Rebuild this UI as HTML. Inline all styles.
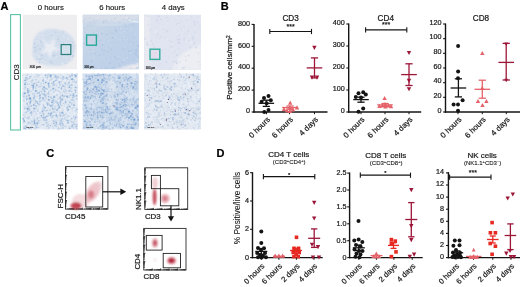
<!DOCTYPE html>
<html><head><meta charset="utf-8"><title>Figure</title>
<style>html,body{margin:0;padding:0;background:#fff;}body{width:520px;height:287px;overflow:hidden;}svg{display:block;}</style>
</head><body>
<svg width="520" height="287" viewBox="0 0 520 287" font-family="Liberation Sans, Arial, sans-serif">
<defs>
<filter id="fDark" x="0" y="0" width="100%" height="100%" color-interpolation-filters="sRGB">
 <feTurbulence type="fractalNoise" baseFrequency="0.42" numOctaves="1" seed="4"/>
 <feColorMatrix type="matrix" values="0 0 0 0 0.45  0 0 0 0 0.57  0 0 0 0 0.77  4.0 0 0 0 -1.95"/>
 <feGaussianBlur stdDeviation="0.45"/>
</filter>
<filter id="fLight" x="0" y="0" width="100%" height="100%" color-interpolation-filters="sRGB">
 <feTurbulence type="fractalNoise" baseFrequency="0.3" numOctaves="2" seed="9"/>
 <feColorMatrix type="matrix" values="0 0 0 0 1  0 0 0 0 1  0 0 0 0 1  0 3.0 0 0 -1.35"/>
</filter>
<filter id="fSoft" x="0" y="0" width="100%" height="100%" color-interpolation-filters="sRGB">
 <feTurbulence type="fractalNoise" baseFrequency="0.12" numOctaves="3" seed="2"/>
 <feColorMatrix type="matrix" values="0 0 0 0 1  0 0 0 0 1  0 0 0 0 1  0 0 2.0 0 -0.95"/>
</filter>
<filter id="fPatch" x="0" y="0" width="100%" height="100%" color-interpolation-filters="sRGB">
 <feTurbulence type="fractalNoise" baseFrequency="0.11" numOctaves="3" seed="21"/>
 <feColorMatrix type="matrix" values="0 0 0 0 0.93  0 0 0 0 0.95  0 0 0 0 0.98  0 5.0 0 0 -2.35"/>
</filter>
<filter id="fBlur"><feGaussianBlur stdDeviation="1.2"/></filter>
<filter id="fBlur2"><feGaussianBlur stdDeviation="0.8"/></filter>
<clipPath id="cTis"><path d="M33 44 C33 35 41 29 51 28.8 C61 28.6 70 32 74 40 C76.5 46 76 55 72 60 C67 65.5 58 66.5 50 65.8 C42 65.2 34 62 32.5 55 C31.8 51 32.6 47.5 33 44 Z"/></clipPath>
<clipPath id="cT1"><rect x="22.5" y="14.5" width="54.5" height="55"/></clipPath>
<clipPath id="cT2"><rect x="82.5" y="14.5" width="56.5" height="55"/></clipPath>
<clipPath id="cT3"><rect x="144" y="14.5" width="57" height="55.5"/></clipPath>
</defs>
<rect width="520" height="287" fill="#ffffff"/>
<text x="4.40" y="9.70" font-size="11" text-anchor="middle" font-weight="bold" fill="#000" stroke="#000" stroke-width="0.22" >A</text>
<text x="50.80" y="10.10" font-size="7.8" text-anchor="middle" font-weight="normal" fill="#1a1a1a" stroke="#1a1a1a" stroke-width="0.15" >0 hours</text>
<text x="112.20" y="10.10" font-size="7.8" text-anchor="middle" font-weight="normal" fill="#1a1a1a" stroke="#1a1a1a" stroke-width="0.15" >6 hours</text>
<text x="173.20" y="10.10" font-size="7.8" text-anchor="middle" font-weight="normal" fill="#1a1a1a" stroke="#1a1a1a" stroke-width="0.15" >4 days</text>
<rect x="10.6" y="14.6" width="9.8" height="115.4" fill="none" stroke="#5ec3a6" stroke-width="1.1"/>
<text x="0.00" y="0.00" font-size="8" text-anchor="middle" font-weight="normal" fill="#1a1a1a" stroke="#1a1a1a" stroke-width="0.12" transform="translate(18.9 72.2) rotate(-90)">CD3</text>
<g clip-path="url(#cT1)">
<rect x="22.5" y="14.5" width="54.5" height="55" fill="#eeeef0"/>
<path d="M33 44 C33 35 41 29 51 28.8 C61 28.6 70 32 74 40 C76.5 46 76 55 72 60 C67 65.5 58 66.5 50 65.8 C42 65.2 34 62 32.5 55 C31.8 51 32.6 47.5 33 44 Z" fill="#d3deed" filter="url(#fBlur2)"/>
<g clip-path="url(#cTis)">
<circle cx="41.9" cy="49.2" r="0.72" fill="#e9edf4" opacity="0.55"/>
<circle cx="34.0" cy="28.5" r="1.00" fill="#b3c5df" opacity="0.39"/>
<circle cx="76.8" cy="46.3" r="1.00" fill="#b3c5df" opacity="0.56"/>
<circle cx="37.9" cy="52.8" r="1.02" fill="#e9edf4" opacity="0.60"/>
<circle cx="61.9" cy="30.5" r="0.95" fill="#e9edf4" opacity="0.42"/>
<circle cx="32.4" cy="61.8" r="0.78" fill="#e9edf4" opacity="0.65"/>
<circle cx="63.8" cy="63.9" r="0.74" fill="#e9edf4" opacity="0.48"/>
<circle cx="74.0" cy="62.3" r="0.56" fill="#b3c5df" opacity="0.39"/>
<circle cx="75.4" cy="45.0" r="0.88" fill="#b3c5df" opacity="0.50"/>
<circle cx="48.7" cy="41.7" r="0.85" fill="#e9edf4" opacity="0.66"/>
<circle cx="62.4" cy="64.2" r="1.01" fill="#e9edf4" opacity="0.57"/>
<circle cx="38.5" cy="61.6" r="1.08" fill="#e9edf4" opacity="0.53"/>
<circle cx="63.8" cy="36.2" r="1.00" fill="#e9edf4" opacity="0.41"/>
<circle cx="33.9" cy="61.3" r="1.09" fill="#b3c5df" opacity="0.62"/>
<circle cx="49.9" cy="33.9" r="0.68" fill="#e9edf4" opacity="0.65"/>
<circle cx="33.0" cy="52.0" r="0.53" fill="#e9edf4" opacity="0.43"/>
<circle cx="71.5" cy="66.2" r="0.80" fill="#e9edf4" opacity="0.42"/>
<circle cx="34.5" cy="51.4" r="0.52" fill="#b3c5df" opacity="0.46"/>
<circle cx="59.1" cy="34.1" r="0.53" fill="#e9edf4" opacity="0.43"/>
<circle cx="75.1" cy="63.0" r="0.73" fill="#b3c5df" opacity="0.51"/>
<circle cx="60.6" cy="51.2" r="0.84" fill="#e9edf4" opacity="0.68"/>
<circle cx="54.3" cy="44.8" r="0.93" fill="#b3c5df" opacity="0.42"/>
<circle cx="76.0" cy="48.3" r="0.83" fill="#b3c5df" opacity="0.47"/>
<circle cx="57.7" cy="28.8" r="0.87" fill="#e9edf4" opacity="0.32"/>
<circle cx="59.9" cy="46.2" r="0.91" fill="#b3c5df" opacity="0.58"/>
<circle cx="64.9" cy="28.9" r="0.54" fill="#e9edf4" opacity="0.69"/>
<circle cx="42.6" cy="45.8" r="0.86" fill="#b3c5df" opacity="0.45"/>
<circle cx="45.4" cy="42.4" r="0.86" fill="#b3c5df" opacity="0.45"/>
<circle cx="66.5" cy="29.0" r="0.84" fill="#e9edf4" opacity="0.42"/>
<circle cx="41.2" cy="59.3" r="0.64" fill="#b3c5df" opacity="0.47"/>
<circle cx="63.1" cy="32.0" r="0.69" fill="#b3c5df" opacity="0.63"/>
<circle cx="51.2" cy="61.4" r="0.60" fill="#b3c5df" opacity="0.56"/>
<circle cx="71.7" cy="45.6" r="0.64" fill="#b3c5df" opacity="0.51"/>
<circle cx="39.8" cy="59.5" r="1.00" fill="#b3c5df" opacity="0.41"/>
<circle cx="68.1" cy="53.0" r="0.98" fill="#b3c5df" opacity="0.35"/>
<circle cx="44.4" cy="59.0" r="0.66" fill="#b3c5df" opacity="0.47"/>
<circle cx="50.3" cy="44.0" r="1.05" fill="#b3c5df" opacity="0.30"/>
<circle cx="74.4" cy="62.3" r="1.09" fill="#b3c5df" opacity="0.68"/>
<circle cx="73.7" cy="36.7" r="0.95" fill="#e9edf4" opacity="0.57"/>
<circle cx="54.9" cy="39.3" r="0.70" fill="#b3c5df" opacity="0.33"/>
<circle cx="58.1" cy="39.2" r="0.99" fill="#b3c5df" opacity="0.66"/>
<circle cx="62.9" cy="64.0" r="1.04" fill="#e9edf4" opacity="0.53"/>
<circle cx="31.6" cy="57.1" r="0.60" fill="#b3c5df" opacity="0.57"/>
<circle cx="55.1" cy="44.1" r="1.06" fill="#e9edf4" opacity="0.44"/>
<circle cx="42.6" cy="61.6" r="0.79" fill="#e9edf4" opacity="0.44"/>
<circle cx="40.1" cy="48.9" r="0.99" fill="#b3c5df" opacity="0.62"/>
<circle cx="73.4" cy="59.4" r="0.99" fill="#b3c5df" opacity="0.55"/>
<circle cx="70.7" cy="29.9" r="0.66" fill="#b3c5df" opacity="0.51"/>
<circle cx="50.5" cy="46.4" r="0.97" fill="#b3c5df" opacity="0.32"/>
<circle cx="36.8" cy="32.9" r="0.54" fill="#e9edf4" opacity="0.64"/>
<circle cx="35.0" cy="47.6" r="0.69" fill="#b3c5df" opacity="0.44"/>
<circle cx="60.8" cy="50.9" r="0.72" fill="#b3c5df" opacity="0.43"/>
<circle cx="36.7" cy="49.7" r="0.93" fill="#b3c5df" opacity="0.33"/>
<circle cx="39.2" cy="42.6" r="0.86" fill="#e9edf4" opacity="0.45"/>
<circle cx="67.9" cy="52.3" r="0.76" fill="#b3c5df" opacity="0.50"/>
<circle cx="63.3" cy="44.4" r="0.92" fill="#b3c5df" opacity="0.40"/>
<circle cx="55.6" cy="55.1" r="0.54" fill="#b3c5df" opacity="0.47"/>
<circle cx="71.5" cy="64.5" r="0.72" fill="#e9edf4" opacity="0.62"/>
<circle cx="43.1" cy="46.1" r="0.57" fill="#e9edf4" opacity="0.56"/>
<circle cx="71.8" cy="58.9" r="0.90" fill="#e9edf4" opacity="0.53"/>
<circle cx="35.7" cy="50.9" r="0.50" fill="#b3c5df" opacity="0.61"/>
<circle cx="33.0" cy="31.6" r="0.56" fill="#e9edf4" opacity="0.37"/>
<circle cx="32.1" cy="60.8" r="0.57" fill="#e9edf4" opacity="0.57"/>
<circle cx="69.5" cy="65.1" r="0.85" fill="#e9edf4" opacity="0.31"/>
<circle cx="66.3" cy="47.9" r="0.93" fill="#b3c5df" opacity="0.60"/>
<circle cx="74.0" cy="30.4" r="0.69" fill="#e9edf4" opacity="0.63"/>
<circle cx="42.1" cy="35.0" r="0.65" fill="#e9edf4" opacity="0.60"/>
<circle cx="49.1" cy="42.3" r="0.74" fill="#b3c5df" opacity="0.47"/>
<circle cx="34.8" cy="47.5" r="1.08" fill="#b3c5df" opacity="0.60"/>
<circle cx="38.4" cy="54.9" r="0.95" fill="#e9edf4" opacity="0.51"/>
<circle cx="53.3" cy="53.1" r="1.04" fill="#b3c5df" opacity="0.34"/>
<circle cx="65.4" cy="63.7" r="0.81" fill="#b3c5df" opacity="0.59"/>
<circle cx="39.6" cy="38.4" r="0.62" fill="#e9edf4" opacity="0.43"/>
<circle cx="41.7" cy="55.0" r="1.07" fill="#b3c5df" opacity="0.58"/>
<circle cx="50.0" cy="61.3" r="0.85" fill="#b3c5df" opacity="0.39"/>
<circle cx="32.1" cy="46.7" r="0.73" fill="#b3c5df" opacity="0.44"/>
<circle cx="45.8" cy="58.2" r="0.59" fill="#e9edf4" opacity="0.49"/>
<circle cx="58.6" cy="46.3" r="1.00" fill="#e9edf4" opacity="0.52"/>
<circle cx="53.1" cy="56.1" r="1.01" fill="#b3c5df" opacity="0.59"/>
<circle cx="75.2" cy="46.2" r="0.64" fill="#b3c5df" opacity="0.59"/>
<circle cx="62.1" cy="65.4" r="1.01" fill="#b3c5df" opacity="0.38"/>
<circle cx="42.9" cy="35.3" r="0.92" fill="#e9edf4" opacity="0.66"/>
<circle cx="42.7" cy="61.7" r="0.69" fill="#b3c5df" opacity="0.59"/>
<circle cx="35.0" cy="31.6" r="1.00" fill="#b3c5df" opacity="0.44"/>
<circle cx="57.7" cy="54.3" r="0.50" fill="#b3c5df" opacity="0.47"/>
<circle cx="53.4" cy="36.2" r="0.85" fill="#e9edf4" opacity="0.46"/>
<circle cx="56.0" cy="32.6" r="0.66" fill="#e9edf4" opacity="0.35"/>
<circle cx="71.8" cy="63.4" r="0.56" fill="#e9edf4" opacity="0.45"/>
<circle cx="66.5" cy="57.5" r="0.68" fill="#e9edf4" opacity="0.56"/>
<circle cx="68.1" cy="38.4" r="0.95" fill="#e9edf4" opacity="0.57"/>
<circle cx="55.7" cy="32.4" r="0.80" fill="#b3c5df" opacity="0.59"/>
<circle cx="62.2" cy="50.1" r="0.61" fill="#e9edf4" opacity="0.55"/>
<circle cx="39.2" cy="62.7" r="0.89" fill="#b3c5df" opacity="0.67"/>
<circle cx="37.5" cy="40.9" r="0.93" fill="#e9edf4" opacity="0.52"/>
<circle cx="60.8" cy="45.9" r="0.69" fill="#b3c5df" opacity="0.33"/>
<circle cx="63.9" cy="57.4" r="0.83" fill="#e9edf4" opacity="0.44"/>
<circle cx="43.2" cy="43.0" r="1.02" fill="#b3c5df" opacity="0.50"/>
<circle cx="42.4" cy="58.0" r="0.71" fill="#b3c5df" opacity="0.46"/>
<circle cx="55.9" cy="58.1" r="0.71" fill="#e9edf4" opacity="0.34"/>
<circle cx="43.4" cy="31.9" r="0.57" fill="#e9edf4" opacity="0.59"/>
<circle cx="39.5" cy="35.4" r="0.75" fill="#e9edf4" opacity="0.63"/>
<circle cx="65.4" cy="51.1" r="0.59" fill="#b3c5df" opacity="0.38"/>
<circle cx="55.3" cy="50.2" r="0.62" fill="#b3c5df" opacity="0.61"/>
<circle cx="32.4" cy="59.3" r="1.03" fill="#e9edf4" opacity="0.45"/>
<circle cx="56.4" cy="50.7" r="0.88" fill="#e9edf4" opacity="0.57"/>
<circle cx="44.8" cy="61.5" r="0.79" fill="#e9edf4" opacity="0.59"/>
<circle cx="31.1" cy="58.0" r="0.90" fill="#b3c5df" opacity="0.51"/>
<circle cx="52.2" cy="35.5" r="0.82" fill="#b3c5df" opacity="0.50"/>
<circle cx="60.7" cy="45.3" r="0.84" fill="#e9edf4" opacity="0.66"/>
<circle cx="37.2" cy="58.9" r="0.87" fill="#b3c5df" opacity="0.44"/>
<circle cx="41.7" cy="31.0" r="0.82" fill="#e9edf4" opacity="0.43"/>
<circle cx="71.0" cy="55.1" r="0.58" fill="#e9edf4" opacity="0.54"/>
<circle cx="73.6" cy="55.9" r="0.94" fill="#b3c5df" opacity="0.62"/>
<circle cx="73.9" cy="61.6" r="0.76" fill="#e9edf4" opacity="0.49"/>
<circle cx="36.0" cy="29.7" r="0.55" fill="#b3c5df" opacity="0.36"/>
<circle cx="53.9" cy="55.3" r="0.82" fill="#b3c5df" opacity="0.56"/>
<circle cx="45.0" cy="46.1" r="0.95" fill="#b3c5df" opacity="0.37"/>
<circle cx="72.4" cy="56.1" r="0.72" fill="#b3c5df" opacity="0.51"/>
<circle cx="58.4" cy="36.7" r="0.50" fill="#b3c5df" opacity="0.61"/>
<circle cx="37.6" cy="45.9" r="0.62" fill="#b3c5df" opacity="0.37"/>
<circle cx="49.6" cy="34.6" r="0.52" fill="#b3c5df" opacity="0.37"/>
<circle cx="53.6" cy="30.3" r="0.51" fill="#b3c5df" opacity="0.46"/>
<circle cx="63.4" cy="30.0" r="0.74" fill="#b3c5df" opacity="0.31"/>
<circle cx="75.4" cy="36.5" r="0.56" fill="#b3c5df" opacity="0.37"/>
<circle cx="59.6" cy="41.5" r="0.57" fill="#b3c5df" opacity="0.59"/>
<circle cx="43.7" cy="58.7" r="0.78" fill="#e9edf4" opacity="0.42"/>
<circle cx="42.5" cy="38.4" r="0.99" fill="#e9edf4" opacity="0.44"/>
<circle cx="35.3" cy="54.6" r="1.08" fill="#e9edf4" opacity="0.30"/>
<circle cx="32.4" cy="31.5" r="0.60" fill="#b3c5df" opacity="0.32"/>
<circle cx="61.1" cy="63.1" r="0.62" fill="#e9edf4" opacity="0.49"/>
<circle cx="68.0" cy="63.8" r="1.06" fill="#b3c5df" opacity="0.42"/>
<circle cx="58.9" cy="64.9" r="0.55" fill="#b3c5df" opacity="0.64"/>
<circle cx="36.3" cy="43.2" r="0.70" fill="#e9edf4" opacity="0.67"/>
<circle cx="39.0" cy="56.9" r="0.94" fill="#e9edf4" opacity="0.52"/>
<circle cx="73.5" cy="42.2" r="0.75" fill="#b3c5df" opacity="0.61"/>
<circle cx="53.1" cy="38.5" r="0.60" fill="#e9edf4" opacity="0.54"/>
<circle cx="63.7" cy="43.1" r="0.79" fill="#b3c5df" opacity="0.58"/>
<circle cx="32.1" cy="46.2" r="0.96" fill="#e9edf4" opacity="0.34"/>
<circle cx="41.9" cy="60.9" r="0.89" fill="#e9edf4" opacity="0.65"/>
<circle cx="51.7" cy="63.0" r="0.94" fill="#b3c5df" opacity="0.45"/>
<circle cx="34.3" cy="43.6" r="1.07" fill="#b3c5df" opacity="0.53"/>
<circle cx="36.1" cy="31.2" r="0.89" fill="#b3c5df" opacity="0.32"/>
<circle cx="38.0" cy="53.1" r="0.85" fill="#b3c5df" opacity="0.39"/>
<circle cx="75.5" cy="36.6" r="0.84" fill="#b3c5df" opacity="0.61"/>
<circle cx="58.8" cy="58.8" r="0.82" fill="#b3c5df" opacity="0.37"/>
<circle cx="34.6" cy="60.2" r="0.57" fill="#b3c5df" opacity="0.69"/>
<circle cx="40.2" cy="62.8" r="0.55" fill="#b3c5df" opacity="0.39"/>
<circle cx="69.2" cy="52.0" r="0.89" fill="#e9edf4" opacity="0.65"/>
<circle cx="46.9" cy="51.5" r="0.77" fill="#b3c5df" opacity="0.63"/>
<circle cx="58.3" cy="59.8" r="0.62" fill="#e9edf4" opacity="0.49"/>
<circle cx="64.5" cy="31.0" r="0.71" fill="#b3c5df" opacity="0.33"/>
<circle cx="56.4" cy="56.7" r="0.75" fill="#e9edf4" opacity="0.54"/>
<circle cx="40.9" cy="41.7" r="1.10" fill="#b3c5df" opacity="0.47"/>
<circle cx="34.9" cy="36.5" r="0.60" fill="#e9edf4" opacity="0.59"/>
<circle cx="71.2" cy="66.5" r="0.87" fill="#e9edf4" opacity="0.51"/>
<circle cx="50.3" cy="65.0" r="1.04" fill="#e9edf4" opacity="0.49"/>
<circle cx="66.6" cy="43.9" r="1.10" fill="#e9edf4" opacity="0.42"/>
<circle cx="74.0" cy="35.2" r="0.56" fill="#e9edf4" opacity="0.42"/>
<circle cx="54.9" cy="52.9" r="0.52" fill="#e9edf4" opacity="0.41"/>
<circle cx="50.9" cy="41.4" r="0.95" fill="#e9edf4" opacity="0.41"/>
</g>
<path d="M42 39 L49 44.5 L55.5 37.5 L54 46.5 L61 50 L52.5 50.8 L50.5 59 L47.5 52 L40.5 54 L45.5 47.5 Z" fill="#edf0f5" opacity="0.9" filter="url(#fBlur2)"/>
</g>
<rect x="61.2" y="44.6" width="9.6" height="9.9" fill="#d8eaf0" fill-opacity="0.4" stroke="#2a7f7c" stroke-width="1.2"/>
<text x="29.60" y="67.50" font-size="3.4" text-anchor="start" font-weight="normal" fill="#222" stroke="#222" stroke-width="0.15" >300 μm</text>
<linearGradient id="gT2" x1="0" y1="0" x2="1" y2="1"><stop offset="0" stop-color="#ccd8e7"/><stop offset="0.5" stop-color="#c0d2e8"/><stop offset="1" stop-color="#b9cee8"/></linearGradient>
<g clip-path="url(#cT2)">
<rect x="82.5" y="14.5" width="56.5" height="55" fill="url(#gT2)"/>
<path d="M82.5 14.5 L139 14.5 L139 19 Q120 24 100 21 Q90 20 82.5 22 Z" fill="#d8dfe9" filter="url(#fBlur2)"/>
<path d="M97 24 Q115 27 139 20" fill="none" stroke="#dfe6ef" stroke-width="1.3" filter="url(#fBlur2)"/>
<path d="M126 17 Q131 22.5 139 22" fill="none" stroke="#eef2f6" stroke-width="1.1"/>
<path d="M112 69.5 Q126 66.5 139 62.5 L139 69.5 Z" fill="#ebe9ef" filter="url(#fBlur)"/>
<circle cx="117.7" cy="56.2" r="0.98" fill="#d3deec" opacity="0.52"/>
<circle cx="134.6" cy="19.5" r="0.78" fill="#d3deec" opacity="0.49"/>
<circle cx="133.4" cy="23.8" r="0.78" fill="#a9bedb" opacity="0.36"/>
<circle cx="114.9" cy="18.7" r="0.63" fill="#a9bedb" opacity="0.47"/>
<circle cx="125.8" cy="26.2" r="0.98" fill="#a9bedb" opacity="0.39"/>
<circle cx="89.7" cy="18.1" r="1.02" fill="#a9bedb" opacity="0.26"/>
<circle cx="138.0" cy="62.9" r="0.67" fill="#d3deec" opacity="0.46"/>
<circle cx="120.8" cy="28.5" r="1.06" fill="#d3deec" opacity="0.59"/>
<circle cx="133.0" cy="33.4" r="0.72" fill="#a9bedb" opacity="0.24"/>
<circle cx="86.2" cy="33.5" r="0.86" fill="#a9bedb" opacity="0.40"/>
<circle cx="101.6" cy="34.0" r="0.99" fill="#a9bedb" opacity="0.29"/>
<circle cx="109.7" cy="54.3" r="0.53" fill="#d3deec" opacity="0.31"/>
<circle cx="124.9" cy="61.5" r="0.51" fill="#d3deec" opacity="0.41"/>
<circle cx="115.2" cy="18.5" r="0.53" fill="#a9bedb" opacity="0.49"/>
<circle cx="93.6" cy="56.9" r="1.06" fill="#d3deec" opacity="0.40"/>
<circle cx="102.5" cy="45.0" r="0.97" fill="#a9bedb" opacity="0.42"/>
<circle cx="127.5" cy="62.3" r="0.52" fill="#d3deec" opacity="0.33"/>
<circle cx="101.8" cy="49.5" r="1.05" fill="#a9bedb" opacity="0.48"/>
<circle cx="113.3" cy="34.1" r="0.69" fill="#a9bedb" opacity="0.22"/>
<circle cx="90.9" cy="53.5" r="1.10" fill="#a9bedb" opacity="0.21"/>
<circle cx="138.2" cy="45.5" r="0.74" fill="#a9bedb" opacity="0.38"/>
<circle cx="129.2" cy="41.5" r="0.75" fill="#a9bedb" opacity="0.47"/>
<circle cx="84.3" cy="43.4" r="1.00" fill="#a9bedb" opacity="0.42"/>
<circle cx="136.2" cy="50.5" r="0.97" fill="#a9bedb" opacity="0.33"/>
<circle cx="90.9" cy="61.5" r="0.68" fill="#a9bedb" opacity="0.50"/>
<circle cx="130.7" cy="68.3" r="0.77" fill="#a9bedb" opacity="0.42"/>
<circle cx="109.6" cy="33.0" r="0.74" fill="#a9bedb" opacity="0.31"/>
<circle cx="138.3" cy="67.4" r="0.88" fill="#a9bedb" opacity="0.30"/>
<circle cx="87.5" cy="32.0" r="0.97" fill="#d3deec" opacity="0.41"/>
<circle cx="126.9" cy="57.9" r="0.92" fill="#d3deec" opacity="0.53"/>
<circle cx="103.0" cy="54.3" r="0.67" fill="#a9bedb" opacity="0.43"/>
<circle cx="121.5" cy="33.1" r="1.07" fill="#d3deec" opacity="0.47"/>
<circle cx="83.2" cy="46.2" r="0.65" fill="#d3deec" opacity="0.44"/>
<circle cx="128.6" cy="51.3" r="0.98" fill="#a9bedb" opacity="0.39"/>
<circle cx="124.2" cy="60.7" r="0.71" fill="#d3deec" opacity="0.56"/>
<circle cx="121.4" cy="68.3" r="1.07" fill="#d3deec" opacity="0.46"/>
<circle cx="91.9" cy="61.1" r="1.06" fill="#a9bedb" opacity="0.41"/>
<circle cx="123.2" cy="55.6" r="0.60" fill="#d3deec" opacity="0.47"/>
<circle cx="120.1" cy="39.7" r="0.87" fill="#d3deec" opacity="0.49"/>
<circle cx="123.2" cy="19.4" r="0.60" fill="#a9bedb" opacity="0.40"/>
<circle cx="94.9" cy="53.3" r="0.88" fill="#a9bedb" opacity="0.34"/>
<circle cx="95.3" cy="20.8" r="0.58" fill="#a9bedb" opacity="0.25"/>
<circle cx="93.4" cy="19.8" r="0.78" fill="#a9bedb" opacity="0.38"/>
<circle cx="115.8" cy="30.2" r="1.04" fill="#a9bedb" opacity="0.32"/>
<circle cx="98.2" cy="39.1" r="0.57" fill="#d3deec" opacity="0.41"/>
<circle cx="84.5" cy="49.6" r="0.56" fill="#d3deec" opacity="0.40"/>
<circle cx="115.3" cy="67.4" r="0.99" fill="#a9bedb" opacity="0.44"/>
<circle cx="118.8" cy="37.0" r="0.59" fill="#d3deec" opacity="0.47"/>
<circle cx="136.6" cy="67.9" r="0.87" fill="#a9bedb" opacity="0.47"/>
<circle cx="82.6" cy="23.6" r="0.84" fill="#d3deec" opacity="0.34"/>
<circle cx="118.1" cy="63.9" r="0.73" fill="#a9bedb" opacity="0.27"/>
<circle cx="99.0" cy="68.1" r="0.73" fill="#d3deec" opacity="0.57"/>
<circle cx="116.2" cy="31.4" r="1.09" fill="#a9bedb" opacity="0.32"/>
<circle cx="100.5" cy="68.7" r="0.80" fill="#a9bedb" opacity="0.34"/>
<circle cx="89.4" cy="50.0" r="0.77" fill="#a9bedb" opacity="0.43"/>
<circle cx="129.2" cy="18.7" r="0.82" fill="#a9bedb" opacity="0.48"/>
<circle cx="126.7" cy="30.7" r="0.66" fill="#a9bedb" opacity="0.50"/>
<circle cx="99.1" cy="49.3" r="0.78" fill="#d3deec" opacity="0.48"/>
<circle cx="124.5" cy="24.1" r="0.96" fill="#a9bedb" opacity="0.36"/>
<circle cx="101.5" cy="33.3" r="0.82" fill="#a9bedb" opacity="0.31"/>
<circle cx="124.6" cy="48.4" r="0.52" fill="#a9bedb" opacity="0.34"/>
<circle cx="134.3" cy="63.7" r="0.83" fill="#a9bedb" opacity="0.43"/>
<circle cx="106.7" cy="47.6" r="0.92" fill="#d3deec" opacity="0.44"/>
<circle cx="134.0" cy="37.9" r="0.74" fill="#d3deec" opacity="0.36"/>
<circle cx="99.2" cy="60.7" r="0.54" fill="#d3deec" opacity="0.51"/>
<circle cx="107.0" cy="32.7" r="0.97" fill="#d3deec" opacity="0.34"/>
<circle cx="109.5" cy="46.3" r="0.80" fill="#a9bedb" opacity="0.25"/>
<circle cx="115.6" cy="59.8" r="0.54" fill="#a9bedb" opacity="0.45"/>
<circle cx="127.2" cy="52.2" r="0.52" fill="#d3deec" opacity="0.59"/>
<circle cx="138.9" cy="54.1" r="0.53" fill="#d3deec" opacity="0.37"/>
<circle cx="119.0" cy="67.0" r="0.93" fill="#a9bedb" opacity="0.29"/>
<circle cx="134.4" cy="25.7" r="0.87" fill="#a9bedb" opacity="0.25"/>
<circle cx="117.7" cy="20.2" r="0.56" fill="#a9bedb" opacity="0.22"/>
<circle cx="85.8" cy="47.6" r="0.95" fill="#d3deec" opacity="0.34"/>
<circle cx="106.9" cy="34.2" r="0.86" fill="#a9bedb" opacity="0.48"/>
<circle cx="103.6" cy="20.9" r="0.92" fill="#a9bedb" opacity="0.39"/>
<circle cx="111.1" cy="64.9" r="0.83" fill="#d3deec" opacity="0.38"/>
<circle cx="113.7" cy="31.1" r="0.95" fill="#d3deec" opacity="0.34"/>
<circle cx="95.7" cy="37.1" r="0.94" fill="#a9bedb" opacity="0.41"/>
<circle cx="119.5" cy="22.4" r="0.90" fill="#a9bedb" opacity="0.24"/>
<circle cx="116.1" cy="30.3" r="1.03" fill="#a9bedb" opacity="0.30"/>
<circle cx="127.5" cy="19.5" r="0.94" fill="#a9bedb" opacity="0.25"/>
<circle cx="136.3" cy="53.1" r="0.63" fill="#a9bedb" opacity="0.49"/>
<circle cx="120.1" cy="60.3" r="0.58" fill="#d3deec" opacity="0.41"/>
<circle cx="95.8" cy="35.2" r="0.87" fill="#a9bedb" opacity="0.32"/>
<circle cx="90.2" cy="60.8" r="0.89" fill="#d3deec" opacity="0.43"/>
<circle cx="130.6" cy="44.7" r="0.86" fill="#d3deec" opacity="0.52"/>
<circle cx="104.8" cy="23.0" r="0.52" fill="#a9bedb" opacity="0.21"/>
<circle cx="132.7" cy="42.8" r="0.96" fill="#a9bedb" opacity="0.34"/>
<circle cx="132.8" cy="49.9" r="0.76" fill="#a9bedb" opacity="0.23"/>
<circle cx="91.2" cy="26.2" r="0.72" fill="#a9bedb" opacity="0.46"/>
<circle cx="91.1" cy="31.1" r="0.67" fill="#a9bedb" opacity="0.29"/>
<circle cx="95.8" cy="42.8" r="0.52" fill="#d3deec" opacity="0.41"/>
<circle cx="135.5" cy="53.4" r="0.90" fill="#a9bedb" opacity="0.48"/>
<circle cx="89.2" cy="52.4" r="0.67" fill="#d3deec" opacity="0.52"/>
<circle cx="91.7" cy="28.4" r="0.51" fill="#a9bedb" opacity="0.22"/>
<circle cx="105.2" cy="68.1" r="0.72" fill="#a9bedb" opacity="0.34"/>
<circle cx="98.5" cy="55.7" r="0.93" fill="#a9bedb" opacity="0.27"/>
<circle cx="120.5" cy="66.4" r="0.89" fill="#a9bedb" opacity="0.49"/>
<circle cx="82.9" cy="21.1" r="0.97" fill="#a9bedb" opacity="0.21"/>
<circle cx="113.5" cy="69.0" r="0.81" fill="#a9bedb" opacity="0.23"/>
<circle cx="86.5" cy="64.3" r="0.79" fill="#d3deec" opacity="0.32"/>
<circle cx="96.3" cy="20.6" r="0.74" fill="#a9bedb" opacity="0.28"/>
<circle cx="105.5" cy="33.8" r="0.53" fill="#a9bedb" opacity="0.49"/>
<circle cx="92.6" cy="44.2" r="0.74" fill="#d3deec" opacity="0.33"/>
<circle cx="100.2" cy="23.6" r="0.83" fill="#d3deec" opacity="0.48"/>
<circle cx="130.9" cy="29.0" r="0.51" fill="#d3deec" opacity="0.45"/>
<circle cx="114.8" cy="37.4" r="0.88" fill="#d3deec" opacity="0.57"/>
<circle cx="99.9" cy="41.1" r="1.00" fill="#a9bedb" opacity="0.23"/>
<circle cx="100.1" cy="22.5" r="0.96" fill="#d3deec" opacity="0.39"/>
<circle cx="89.8" cy="22.2" r="0.65" fill="#a9bedb" opacity="0.33"/>
<circle cx="115.1" cy="30.6" r="0.54" fill="#d3deec" opacity="0.31"/>
<circle cx="93.8" cy="32.7" r="0.72" fill="#a9bedb" opacity="0.33"/>
<circle cx="100.2" cy="56.7" r="0.83" fill="#d3deec" opacity="0.50"/>
<circle cx="125.4" cy="47.6" r="0.77" fill="#d3deec" opacity="0.50"/>
<circle cx="136.4" cy="55.5" r="0.92" fill="#a9bedb" opacity="0.44"/>
<circle cx="104.1" cy="24.7" r="0.54" fill="#a9bedb" opacity="0.28"/>
<circle cx="120.7" cy="32.7" r="0.54" fill="#d3deec" opacity="0.47"/>
<circle cx="84.1" cy="20.6" r="0.58" fill="#a9bedb" opacity="0.46"/>
<circle cx="136.1" cy="49.5" r="0.64" fill="#a9bedb" opacity="0.31"/>
<circle cx="101.2" cy="18.6" r="0.85" fill="#d3deec" opacity="0.52"/>
<circle cx="87.9" cy="45.3" r="0.60" fill="#d3deec" opacity="0.43"/>
<circle cx="135.5" cy="58.9" r="0.57" fill="#a9bedb" opacity="0.47"/>
<circle cx="108.5" cy="40.4" r="0.76" fill="#d3deec" opacity="0.58"/>
<circle cx="112.6" cy="67.9" r="0.86" fill="#a9bedb" opacity="0.44"/>
<circle cx="106.2" cy="20.7" r="1.09" fill="#a9bedb" opacity="0.37"/>
<circle cx="109.7" cy="63.4" r="0.74" fill="#a9bedb" opacity="0.28"/>
<circle cx="93.9" cy="47.0" r="0.71" fill="#d3deec" opacity="0.37"/>
<circle cx="102.4" cy="30.8" r="1.09" fill="#d3deec" opacity="0.55"/>
<circle cx="117.4" cy="38.6" r="0.59" fill="#d3deec" opacity="0.45"/>
<circle cx="84.6" cy="26.7" r="0.56" fill="#d3deec" opacity="0.57"/>
<circle cx="93.8" cy="59.0" r="0.69" fill="#d3deec" opacity="0.56"/>
<circle cx="117.7" cy="59.2" r="0.73" fill="#a9bedb" opacity="0.35"/>
<circle cx="115.6" cy="27.5" r="0.73" fill="#a9bedb" opacity="0.21"/>
<circle cx="100.1" cy="37.7" r="0.79" fill="#d3deec" opacity="0.42"/>
<circle cx="138.0" cy="60.0" r="1.05" fill="#d3deec" opacity="0.50"/>
<circle cx="112.8" cy="59.1" r="0.72" fill="#d3deec" opacity="0.50"/>
<circle cx="112.0" cy="32.6" r="0.55" fill="#a9bedb" opacity="0.31"/>
<circle cx="115.3" cy="57.1" r="0.93" fill="#a9bedb" opacity="0.48"/>
<circle cx="98.0" cy="54.9" r="0.54" fill="#d3deec" opacity="0.50"/>
<circle cx="136.6" cy="64.2" r="0.91" fill="#d3deec" opacity="0.52"/>
<circle cx="117.0" cy="28.8" r="0.81" fill="#d3deec" opacity="0.37"/>
<circle cx="137.6" cy="46.0" r="0.74" fill="#a9bedb" opacity="0.32"/>
<circle cx="92.6" cy="51.6" r="1.04" fill="#d3deec" opacity="0.48"/>
<circle cx="104.3" cy="23.6" r="0.91" fill="#d3deec" opacity="0.51"/>
<circle cx="103.6" cy="63.7" r="0.63" fill="#a9bedb" opacity="0.28"/>
<circle cx="117.7" cy="64.2" r="0.60" fill="#d3deec" opacity="0.53"/>
<circle cx="95.2" cy="21.2" r="0.84" fill="#d3deec" opacity="0.56"/>
<circle cx="123.6" cy="39.5" r="0.76" fill="#d3deec" opacity="0.57"/>
<circle cx="99.6" cy="32.5" r="0.86" fill="#d3deec" opacity="0.36"/>
<circle cx="84.2" cy="24.0" r="0.84" fill="#d3deec" opacity="0.36"/>
<circle cx="93.3" cy="48.6" r="0.89" fill="#d3deec" opacity="0.52"/>
<circle cx="86.0" cy="43.0" r="1.00" fill="#d3deec" opacity="0.40"/>
<circle cx="130.5" cy="51.2" r="1.06" fill="#a9bedb" opacity="0.41"/>
<circle cx="130.0" cy="42.6" r="0.56" fill="#a9bedb" opacity="0.25"/>
<circle cx="87.7" cy="25.8" r="0.87" fill="#a9bedb" opacity="0.43"/>
<circle cx="124.1" cy="60.0" r="0.98" fill="#d3deec" opacity="0.58"/>
<circle cx="136.6" cy="50.2" r="1.08" fill="#a9bedb" opacity="0.23"/>
<circle cx="86.1" cy="28.6" r="0.72" fill="#a9bedb" opacity="0.40"/>
<circle cx="124.5" cy="22.3" r="0.74" fill="#d3deec" opacity="0.41"/>
<circle cx="89.1" cy="48.7" r="0.72" fill="#d3deec" opacity="0.45"/>
<circle cx="136.9" cy="66.7" r="0.54" fill="#d3deec" opacity="0.52"/>
<circle cx="99.2" cy="24.0" r="0.79" fill="#a9bedb" opacity="0.42"/>
<circle cx="134.4" cy="37.7" r="0.67" fill="#a9bedb" opacity="0.41"/>
<circle cx="127.1" cy="47.6" r="0.68" fill="#a9bedb" opacity="0.45"/>
<circle cx="111.8" cy="20.6" r="0.75" fill="#a9bedb" opacity="0.40"/>
<circle cx="86.6" cy="32.0" r="0.56" fill="#a9bedb" opacity="0.50"/>
<circle cx="113.1" cy="37.9" r="1.06" fill="#a9bedb" opacity="0.31"/>
<circle cx="128.3" cy="18.3" r="0.96" fill="#a9bedb" opacity="0.20"/>
<circle cx="96.7" cy="41.6" r="0.73" fill="#d3deec" opacity="0.32"/>
<circle cx="94.9" cy="68.2" r="0.77" fill="#a9bedb" opacity="0.23"/>
<circle cx="98.3" cy="67.2" r="0.91" fill="#d3deec" opacity="0.32"/>
<circle cx="104.7" cy="58.1" r="0.76" fill="#d3deec" opacity="0.57"/>
<circle cx="119.0" cy="50.7" r="0.52" fill="#a9bedb" opacity="0.43"/>
<circle cx="105.8" cy="63.0" r="1.00" fill="#d3deec" opacity="0.41"/>
<circle cx="138.9" cy="56.9" r="1.04" fill="#a9bedb" opacity="0.43"/>
<circle cx="106.4" cy="68.1" r="1.10" fill="#a9bedb" opacity="0.33"/>
<circle cx="97.8" cy="42.2" r="0.67" fill="#d3deec" opacity="0.34"/>
<circle cx="92.1" cy="41.6" r="0.54" fill="#a9bedb" opacity="0.47"/>
<circle cx="132.5" cy="28.1" r="0.51" fill="#d3deec" opacity="0.59"/>
<circle cx="116.3" cy="25.0" r="0.64" fill="#d3deec" opacity="0.58"/>
<circle cx="84.3" cy="27.5" r="0.76" fill="#a9bedb" opacity="0.43"/>
<circle cx="103.6" cy="57.9" r="0.59" fill="#d3deec" opacity="0.59"/>
<circle cx="122.2" cy="22.6" r="0.57" fill="#d3deec" opacity="0.41"/>
<circle cx="103.3" cy="42.6" r="0.85" fill="#d3deec" opacity="0.37"/>
<circle cx="114.6" cy="31.5" r="0.83" fill="#d3deec" opacity="0.34"/>
<circle cx="109.7" cy="54.3" r="0.50" fill="#d3deec" opacity="0.43"/>
<circle cx="111.0" cy="49.4" r="0.98" fill="#a9bedb" opacity="0.35"/>
<circle cx="84.7" cy="37.9" r="0.71" fill="#a9bedb" opacity="0.29"/>
<circle cx="107.9" cy="51.7" r="1.05" fill="#a9bedb" opacity="0.36"/>
<circle cx="122.8" cy="66.3" r="1.07" fill="#d3deec" opacity="0.39"/>
<circle cx="91.9" cy="66.0" r="0.55" fill="#a9bedb" opacity="0.42"/>
<circle cx="112.4" cy="38.0" r="1.05" fill="#a9bedb" opacity="0.37"/>
<circle cx="129.4" cy="25.1" r="0.71" fill="#a9bedb" opacity="0.37"/>
<circle cx="94.2" cy="41.4" r="0.54" fill="#a9bedb" opacity="0.30"/>
<circle cx="90.6" cy="67.8" r="0.66" fill="#a9bedb" opacity="0.44"/>
<circle cx="124.4" cy="31.5" r="1.00" fill="#d3deec" opacity="0.42"/>
<circle cx="118.0" cy="30.7" r="0.66" fill="#d3deec" opacity="0.43"/>
<circle cx="133.2" cy="27.1" r="0.58" fill="#a9bedb" opacity="0.42"/>
<circle cx="114.2" cy="18.5" r="0.53" fill="#d3deec" opacity="0.45"/>
<circle cx="131.7" cy="20.0" r="0.85" fill="#a9bedb" opacity="0.42"/>
<circle cx="117.0" cy="49.5" r="0.63" fill="#d3deec" opacity="0.33"/>
<circle cx="86.1" cy="53.2" r="0.56" fill="#a9bedb" opacity="0.34"/>
<circle cx="119.2" cy="63.9" r="0.93" fill="#a9bedb" opacity="0.39"/>
<circle cx="130.2" cy="24.2" r="0.95" fill="#a9bedb" opacity="0.29"/>
<circle cx="82.6" cy="57.0" r="0.81" fill="#d3deec" opacity="0.44"/>
<circle cx="91.3" cy="29.1" r="0.66" fill="#d3deec" opacity="0.36"/>
<circle cx="87.5" cy="36.2" r="0.55" fill="#a9bedb" opacity="0.39"/>
<circle cx="119.3" cy="27.0" r="0.58" fill="#a9bedb" opacity="0.41"/>
<circle cx="107.8" cy="47.5" r="1.05" fill="#a9bedb" opacity="0.28"/>
<circle cx="110.4" cy="45.6" r="1.04" fill="#d3deec" opacity="0.50"/>
<circle cx="106.2" cy="58.4" r="1.00" fill="#a9bedb" opacity="0.23"/>
<circle cx="97.1" cy="36.4" r="1.03" fill="#a9bedb" opacity="0.39"/>
<circle cx="118.7" cy="67.2" r="0.57" fill="#d3deec" opacity="0.40"/>
<circle cx="88.3" cy="50.5" r="1.01" fill="#d3deec" opacity="0.31"/>
<circle cx="137.4" cy="37.8" r="0.88" fill="#d3deec" opacity="0.38"/>
<circle cx="105.6" cy="35.0" r="0.56" fill="#a9bedb" opacity="0.42"/>
<circle cx="105.7" cy="62.8" r="0.54" fill="#a9bedb" opacity="0.25"/>
<circle cx="135.8" cy="58.7" r="1.04" fill="#d3deec" opacity="0.33"/>
<circle cx="106.0" cy="29.6" r="0.52" fill="#d3deec" opacity="0.39"/>
<circle cx="88.6" cy="44.3" r="1.06" fill="#d3deec" opacity="0.44"/>
<circle cx="88.3" cy="57.6" r="0.57" fill="#d3deec" opacity="0.33"/>
<circle cx="138.3" cy="46.0" r="0.76" fill="#a9bedb" opacity="0.37"/>
<circle cx="137.5" cy="40.0" r="0.63" fill="#d3deec" opacity="0.58"/>
<circle cx="104.1" cy="50.6" r="1.05" fill="#a9bedb" opacity="0.44"/>
<circle cx="112.4" cy="25.2" r="0.53" fill="#d3deec" opacity="0.44"/>
<circle cx="107.5" cy="65.3" r="0.84" fill="#d3deec" opacity="0.39"/>
<circle cx="124.5" cy="31.2" r="0.78" fill="#d3deec" opacity="0.48"/>
<circle cx="90.1" cy="28.4" r="0.92" fill="#d3deec" opacity="0.33"/>
<circle cx="138.9" cy="24.9" r="0.60" fill="#a9bedb" opacity="0.33"/>
<circle cx="117.5" cy="62.2" r="0.60" fill="#d3deec" opacity="0.33"/>
<circle cx="115.3" cy="31.0" r="0.71" fill="#a9bedb" opacity="0.42"/>
<circle cx="89.4" cy="57.4" r="0.70" fill="#d3deec" opacity="0.49"/>
<circle cx="110.1" cy="63.0" r="1.05" fill="#a9bedb" opacity="0.30"/>
<circle cx="132.0" cy="24.8" r="0.75" fill="#a9bedb" opacity="0.49"/>
<circle cx="89.7" cy="51.7" r="0.95" fill="#d3deec" opacity="0.30"/>
<circle cx="135.8" cy="34.1" r="1.01" fill="#d3deec" opacity="0.43"/>
<circle cx="129.8" cy="52.8" r="0.70" fill="#d3deec" opacity="0.45"/>
<circle cx="122.7" cy="49.6" r="0.98" fill="#a9bedb" opacity="0.35"/>
<circle cx="82.6" cy="58.7" r="0.96" fill="#d3deec" opacity="0.31"/>
<circle cx="112.7" cy="42.6" r="0.57" fill="#a9bedb" opacity="0.49"/>
<circle cx="130.7" cy="30.3" r="1.00" fill="#d3deec" opacity="0.42"/>
<circle cx="118.9" cy="29.8" r="0.66" fill="#a9bedb" opacity="0.40"/>
<circle cx="115.3" cy="56.3" r="0.80" fill="#a9bedb" opacity="0.29"/>
<circle cx="124.0" cy="37.2" r="0.86" fill="#d3deec" opacity="0.43"/>
<circle cx="121.3" cy="21.2" r="0.66" fill="#d3deec" opacity="0.34"/>
<circle cx="85.7" cy="18.7" r="0.96" fill="#a9bedb" opacity="0.34"/>
<circle cx="107.3" cy="59.3" r="0.79" fill="#d3deec" opacity="0.31"/>
<circle cx="127.4" cy="57.5" r="0.87" fill="#d3deec" opacity="0.48"/>
<circle cx="123.0" cy="61.8" r="0.87" fill="#a9bedb" opacity="0.47"/>
<circle cx="138.4" cy="28.4" r="0.54" fill="#a9bedb" opacity="0.23"/>
<circle cx="103.4" cy="22.6" r="0.63" fill="#a9bedb" opacity="0.33"/>
<circle cx="99.5" cy="55.5" r="0.73" fill="#a9bedb" opacity="0.49"/>
<circle cx="133.0" cy="53.5" r="0.63" fill="#a9bedb" opacity="0.34"/>
<circle cx="105.6" cy="19.4" r="0.77" fill="#d3deec" opacity="0.51"/>
<circle cx="131.1" cy="53.2" r="0.96" fill="#d3deec" opacity="0.58"/>
<circle cx="127.3" cy="39.4" r="0.90" fill="#d3deec" opacity="0.56"/>
<circle cx="122.8" cy="40.8" r="0.61" fill="#a9bedb" opacity="0.28"/>
<circle cx="121.0" cy="57.6" r="0.62" fill="#d3deec" opacity="0.55"/>
<circle cx="103.2" cy="22.9" r="0.86" fill="#a9bedb" opacity="0.24"/>
</g>
<rect x="86.6" y="35" width="9.8" height="10.2" fill="#d6d4e6" fill-opacity="0.5" stroke="#25a99b" stroke-width="1.4"/>
<text x="84.30" y="68.40" font-size="2.8" text-anchor="start" font-weight="normal" fill="#222" stroke="#222" stroke-width="0.15" >300 μm</text>
<g clip-path="url(#cT3)">
<rect x="144" y="14.5" width="57" height="55.5" fill="#dfe4f0"/>
<path d="M144 14.5 L150 14.5 Q148 40 151 70 L144 70 Z" fill="#e9eaf1" filter="url(#fBlur)"/>
<path d="M172 70 Q176 56 188 50 Q196 46 201 44 L201 70 Z" fill="#eceef3" filter="url(#fBlur)"/>
<circle cx="156.9" cy="67.9" r="0.58" fill="#eceef5" opacity="0.33"/>
<circle cx="158.1" cy="70.0" r="0.63" fill="#eceef5" opacity="0.44"/>
<circle cx="169.8" cy="42.0" r="0.62" fill="#eceef5" opacity="0.33"/>
<circle cx="157.3" cy="15.6" r="0.66" fill="#bac7e2" opacity="0.47"/>
<circle cx="165.6" cy="20.8" r="0.66" fill="#eceef5" opacity="0.32"/>
<circle cx="179.3" cy="35.4" r="0.90" fill="#bac7e2" opacity="0.41"/>
<circle cx="172.4" cy="50.6" r="1.04" fill="#eceef5" opacity="0.34"/>
<circle cx="147.7" cy="67.0" r="0.79" fill="#bac7e2" opacity="0.48"/>
<circle cx="177.0" cy="55.0" r="1.03" fill="#bac7e2" opacity="0.31"/>
<circle cx="194.1" cy="22.0" r="0.96" fill="#bac7e2" opacity="0.41"/>
<circle cx="184.0" cy="67.2" r="1.01" fill="#eceef5" opacity="0.36"/>
<circle cx="152.6" cy="43.8" r="0.81" fill="#bac7e2" opacity="0.47"/>
<circle cx="172.9" cy="53.4" r="0.63" fill="#bac7e2" opacity="0.20"/>
<circle cx="163.6" cy="29.3" r="0.75" fill="#bac7e2" opacity="0.45"/>
<circle cx="194.8" cy="24.2" r="0.74" fill="#bac7e2" opacity="0.40"/>
<circle cx="199.6" cy="25.7" r="0.96" fill="#bac7e2" opacity="0.20"/>
<circle cx="187.6" cy="33.5" r="0.60" fill="#bac7e2" opacity="0.27"/>
<circle cx="167.4" cy="39.3" r="0.75" fill="#eceef5" opacity="0.39"/>
<circle cx="149.4" cy="19.2" r="0.56" fill="#eceef5" opacity="0.41"/>
<circle cx="190.0" cy="42.5" r="0.92" fill="#eceef5" opacity="0.32"/>
<circle cx="145.0" cy="22.3" r="0.73" fill="#eceef5" opacity="0.52"/>
<circle cx="164.0" cy="68.1" r="0.50" fill="#eceef5" opacity="0.36"/>
<circle cx="193.9" cy="16.3" r="1.08" fill="#eceef5" opacity="0.60"/>
<circle cx="177.1" cy="24.4" r="1.08" fill="#bac7e2" opacity="0.23"/>
<circle cx="178.5" cy="42.1" r="0.78" fill="#bac7e2" opacity="0.24"/>
<circle cx="177.1" cy="39.6" r="0.58" fill="#bac7e2" opacity="0.42"/>
<circle cx="184.8" cy="40.7" r="0.74" fill="#bac7e2" opacity="0.27"/>
<circle cx="155.3" cy="39.3" r="0.56" fill="#eceef5" opacity="0.51"/>
<circle cx="178.9" cy="15.8" r="0.72" fill="#bac7e2" opacity="0.23"/>
<circle cx="199.2" cy="56.4" r="0.80" fill="#eceef5" opacity="0.36"/>
<circle cx="157.1" cy="43.7" r="0.95" fill="#eceef5" opacity="0.30"/>
<circle cx="179.0" cy="64.9" r="0.95" fill="#eceef5" opacity="0.59"/>
<circle cx="156.7" cy="31.0" r="0.83" fill="#eceef5" opacity="0.41"/>
<circle cx="197.7" cy="61.7" r="0.81" fill="#eceef5" opacity="0.59"/>
<circle cx="188.6" cy="30.9" r="1.01" fill="#bac7e2" opacity="0.31"/>
<circle cx="198.6" cy="61.5" r="0.69" fill="#bac7e2" opacity="0.38"/>
<circle cx="192.0" cy="52.5" r="1.06" fill="#eceef5" opacity="0.55"/>
<circle cx="178.5" cy="34.6" r="0.76" fill="#eceef5" opacity="0.46"/>
<circle cx="191.8" cy="29.4" r="0.54" fill="#eceef5" opacity="0.38"/>
<circle cx="167.9" cy="21.0" r="1.00" fill="#bac7e2" opacity="0.29"/>
<circle cx="189.8" cy="42.5" r="0.67" fill="#eceef5" opacity="0.42"/>
<circle cx="164.6" cy="68.1" r="0.97" fill="#eceef5" opacity="0.37"/>
<circle cx="190.4" cy="47.6" r="1.00" fill="#bac7e2" opacity="0.43"/>
<circle cx="189.2" cy="36.0" r="0.89" fill="#eceef5" opacity="0.60"/>
<circle cx="196.5" cy="58.1" r="0.58" fill="#eceef5" opacity="0.51"/>
<circle cx="149.0" cy="40.2" r="1.02" fill="#eceef5" opacity="0.58"/>
<circle cx="149.3" cy="48.2" r="1.02" fill="#eceef5" opacity="0.40"/>
<circle cx="146.2" cy="65.5" r="1.02" fill="#eceef5" opacity="0.41"/>
<circle cx="191.2" cy="59.7" r="0.93" fill="#eceef5" opacity="0.40"/>
<circle cx="160.9" cy="34.3" r="0.70" fill="#eceef5" opacity="0.33"/>
<circle cx="185.1" cy="33.8" r="0.60" fill="#bac7e2" opacity="0.32"/>
<circle cx="168.6" cy="57.9" r="0.56" fill="#bac7e2" opacity="0.29"/>
<circle cx="154.1" cy="56.1" r="0.57" fill="#bac7e2" opacity="0.37"/>
<circle cx="186.0" cy="60.3" r="0.84" fill="#bac7e2" opacity="0.46"/>
<circle cx="186.0" cy="41.1" r="0.84" fill="#eceef5" opacity="0.60"/>
<circle cx="197.1" cy="21.9" r="0.70" fill="#bac7e2" opacity="0.25"/>
<circle cx="187.4" cy="17.9" r="1.03" fill="#eceef5" opacity="0.48"/>
<circle cx="167.6" cy="66.5" r="0.85" fill="#eceef5" opacity="0.58"/>
<circle cx="183.5" cy="69.1" r="0.79" fill="#bac7e2" opacity="0.45"/>
<circle cx="174.1" cy="31.6" r="0.91" fill="#eceef5" opacity="0.34"/>
<circle cx="191.8" cy="42.2" r="1.08" fill="#eceef5" opacity="0.58"/>
<circle cx="160.5" cy="26.6" r="0.82" fill="#eceef5" opacity="0.55"/>
<circle cx="180.9" cy="21.4" r="0.74" fill="#bac7e2" opacity="0.31"/>
<circle cx="197.9" cy="33.8" r="0.92" fill="#eceef5" opacity="0.34"/>
<circle cx="183.2" cy="18.9" r="0.61" fill="#eceef5" opacity="0.34"/>
<circle cx="199.0" cy="38.1" r="0.88" fill="#eceef5" opacity="0.33"/>
<circle cx="200.9" cy="16.7" r="0.86" fill="#eceef5" opacity="0.60"/>
<circle cx="164.4" cy="67.0" r="0.89" fill="#eceef5" opacity="0.35"/>
<circle cx="157.4" cy="34.8" r="0.71" fill="#bac7e2" opacity="0.44"/>
<circle cx="165.4" cy="49.4" r="0.52" fill="#bac7e2" opacity="0.41"/>
<circle cx="194.8" cy="31.9" r="0.52" fill="#bac7e2" opacity="0.31"/>
<circle cx="164.9" cy="45.7" r="0.68" fill="#eceef5" opacity="0.54"/>
<circle cx="188.6" cy="55.6" r="0.85" fill="#bac7e2" opacity="0.45"/>
<circle cx="160.5" cy="62.2" r="0.77" fill="#eceef5" opacity="0.45"/>
<circle cx="181.3" cy="33.4" r="0.85" fill="#eceef5" opacity="0.41"/>
<circle cx="178.2" cy="39.8" r="0.78" fill="#bac7e2" opacity="0.36"/>
<circle cx="184.4" cy="24.1" r="0.59" fill="#eceef5" opacity="0.33"/>
<circle cx="189.2" cy="56.6" r="0.63" fill="#eceef5" opacity="0.38"/>
<circle cx="194.3" cy="25.5" r="0.57" fill="#bac7e2" opacity="0.42"/>
<circle cx="156.1" cy="31.9" r="1.09" fill="#eceef5" opacity="0.52"/>
<circle cx="176.8" cy="50.1" r="0.51" fill="#eceef5" opacity="0.40"/>
<circle cx="192.7" cy="37.5" r="1.05" fill="#bac7e2" opacity="0.49"/>
<circle cx="149.5" cy="42.9" r="0.79" fill="#eceef5" opacity="0.52"/>
<circle cx="200.0" cy="64.8" r="0.76" fill="#bac7e2" opacity="0.24"/>
<circle cx="184.4" cy="67.3" r="0.90" fill="#bac7e2" opacity="0.38"/>
<circle cx="181.4" cy="28.5" r="0.92" fill="#bac7e2" opacity="0.21"/>
<circle cx="147.7" cy="41.6" r="0.92" fill="#bac7e2" opacity="0.32"/>
<circle cx="183.5" cy="29.1" r="0.81" fill="#eceef5" opacity="0.42"/>
<circle cx="155.9" cy="52.9" r="0.92" fill="#bac7e2" opacity="0.44"/>
<circle cx="181.3" cy="62.6" r="0.97" fill="#eceef5" opacity="0.51"/>
<circle cx="161.9" cy="50.8" r="0.55" fill="#bac7e2" opacity="0.35"/>
<circle cx="194.5" cy="52.5" r="1.05" fill="#eceef5" opacity="0.59"/>
<circle cx="179.2" cy="48.7" r="0.78" fill="#bac7e2" opacity="0.44"/>
<circle cx="178.8" cy="23.5" r="0.64" fill="#bac7e2" opacity="0.42"/>
<circle cx="178.1" cy="25.7" r="0.91" fill="#eceef5" opacity="0.38"/>
<circle cx="169.3" cy="69.6" r="0.58" fill="#bac7e2" opacity="0.38"/>
<circle cx="191.9" cy="65.7" r="0.74" fill="#eceef5" opacity="0.34"/>
<circle cx="166.0" cy="62.1" r="0.90" fill="#bac7e2" opacity="0.38"/>
<circle cx="171.8" cy="44.9" r="1.03" fill="#eceef5" opacity="0.36"/>
<circle cx="187.0" cy="66.9" r="0.86" fill="#eceef5" opacity="0.41"/>
<circle cx="171.6" cy="46.7" r="0.87" fill="#bac7e2" opacity="0.50"/>
<circle cx="159.7" cy="44.9" r="0.62" fill="#eceef5" opacity="0.32"/>
<circle cx="163.1" cy="35.8" r="0.69" fill="#eceef5" opacity="0.35"/>
<circle cx="172.0" cy="58.7" r="0.88" fill="#eceef5" opacity="0.59"/>
<circle cx="171.2" cy="40.5" r="0.96" fill="#eceef5" opacity="0.46"/>
<circle cx="182.0" cy="52.8" r="0.81" fill="#eceef5" opacity="0.42"/>
<circle cx="169.6" cy="40.8" r="0.98" fill="#bac7e2" opacity="0.24"/>
<circle cx="196.6" cy="42.8" r="0.92" fill="#eceef5" opacity="0.52"/>
<circle cx="176.3" cy="67.3" r="0.87" fill="#bac7e2" opacity="0.25"/>
<circle cx="153.1" cy="58.5" r="1.04" fill="#bac7e2" opacity="0.36"/>
<circle cx="182.7" cy="48.2" r="0.67" fill="#eceef5" opacity="0.47"/>
<circle cx="184.7" cy="52.7" r="0.76" fill="#eceef5" opacity="0.36"/>
<circle cx="175.2" cy="50.7" r="0.88" fill="#bac7e2" opacity="0.25"/>
<circle cx="149.8" cy="21.4" r="0.61" fill="#eceef5" opacity="0.47"/>
<circle cx="184.2" cy="38.8" r="0.96" fill="#bac7e2" opacity="0.30"/>
<circle cx="150.8" cy="43.2" r="0.84" fill="#eceef5" opacity="0.43"/>
<circle cx="165.0" cy="32.7" r="0.56" fill="#bac7e2" opacity="0.35"/>
<circle cx="176.4" cy="20.1" r="1.01" fill="#bac7e2" opacity="0.24"/>
<circle cx="169.5" cy="33.0" r="0.81" fill="#eceef5" opacity="0.48"/>
<circle cx="188.7" cy="40.6" r="0.91" fill="#bac7e2" opacity="0.24"/>
<circle cx="148.2" cy="24.6" r="0.77" fill="#bac7e2" opacity="0.37"/>
<circle cx="182.0" cy="65.5" r="0.59" fill="#eceef5" opacity="0.30"/>
<circle cx="194.7" cy="69.2" r="0.72" fill="#eceef5" opacity="0.45"/>
<circle cx="176.0" cy="62.1" r="1.06" fill="#bac7e2" opacity="0.27"/>
<circle cx="196.2" cy="47.4" r="1.04" fill="#bac7e2" opacity="0.45"/>
<circle cx="153.1" cy="22.6" r="0.67" fill="#eceef5" opacity="0.42"/>
<circle cx="169.1" cy="30.5" r="0.54" fill="#bac7e2" opacity="0.35"/>
<circle cx="163.1" cy="55.1" r="0.69" fill="#eceef5" opacity="0.57"/>
<circle cx="177.0" cy="20.1" r="0.84" fill="#eceef5" opacity="0.50"/>
<circle cx="168.2" cy="54.7" r="1.10" fill="#eceef5" opacity="0.31"/>
<circle cx="179.8" cy="49.1" r="0.83" fill="#eceef5" opacity="0.32"/>
<circle cx="145.0" cy="54.6" r="0.56" fill="#bac7e2" opacity="0.45"/>
<circle cx="164.6" cy="63.5" r="0.98" fill="#eceef5" opacity="0.41"/>
<circle cx="148.7" cy="68.7" r="1.02" fill="#eceef5" opacity="0.45"/>
<circle cx="160.0" cy="49.3" r="0.75" fill="#bac7e2" opacity="0.23"/>
<circle cx="167.2" cy="22.7" r="0.66" fill="#eceef5" opacity="0.58"/>
<circle cx="194.5" cy="42.9" r="0.96" fill="#bac7e2" opacity="0.39"/>
<circle cx="199.5" cy="58.4" r="1.09" fill="#eceef5" opacity="0.39"/>
<circle cx="145.2" cy="29.5" r="1.00" fill="#eceef5" opacity="0.49"/>
<circle cx="189.7" cy="30.9" r="0.58" fill="#eceef5" opacity="0.48"/>
<circle cx="145.5" cy="53.2" r="0.93" fill="#eceef5" opacity="0.34"/>
<circle cx="159.6" cy="54.7" r="0.90" fill="#bac7e2" opacity="0.49"/>
<circle cx="161.2" cy="64.0" r="0.58" fill="#eceef5" opacity="0.60"/>
<circle cx="183.6" cy="56.5" r="1.03" fill="#eceef5" opacity="0.46"/>
<circle cx="191.0" cy="44.0" r="1.07" fill="#eceef5" opacity="0.30"/>
<circle cx="160.4" cy="63.6" r="0.57" fill="#bac7e2" opacity="0.37"/>
<circle cx="183.5" cy="68.9" r="1.08" fill="#eceef5" opacity="0.51"/>
<circle cx="174.2" cy="61.7" r="0.92" fill="#bac7e2" opacity="0.39"/>
<circle cx="146.9" cy="33.1" r="0.70" fill="#eceef5" opacity="0.37"/>
<circle cx="165.5" cy="45.8" r="0.62" fill="#eceef5" opacity="0.39"/>
<circle cx="185.1" cy="58.5" r="0.85" fill="#eceef5" opacity="0.45"/>
<circle cx="186.6" cy="19.8" r="0.73" fill="#bac7e2" opacity="0.47"/>
<circle cx="172.4" cy="35.4" r="0.90" fill="#eceef5" opacity="0.55"/>
<circle cx="189.8" cy="51.5" r="0.98" fill="#eceef5" opacity="0.42"/>
<circle cx="162.1" cy="29.1" r="0.70" fill="#eceef5" opacity="0.56"/>
<circle cx="157.5" cy="36.2" r="0.66" fill="#eceef5" opacity="0.32"/>
<circle cx="179.5" cy="62.1" r="1.05" fill="#bac7e2" opacity="0.25"/>
<circle cx="185.7" cy="56.4" r="0.61" fill="#bac7e2" opacity="0.40"/>
<circle cx="165.6" cy="43.5" r="0.84" fill="#eceef5" opacity="0.34"/>
<circle cx="158.8" cy="16.4" r="0.91" fill="#bac7e2" opacity="0.46"/>
<circle cx="178.8" cy="42.9" r="0.66" fill="#eceef5" opacity="0.33"/>
<circle cx="177.1" cy="60.6" r="0.89" fill="#bac7e2" opacity="0.23"/>
<circle cx="160.3" cy="55.1" r="0.58" fill="#eceef5" opacity="0.57"/>
<circle cx="176.6" cy="63.2" r="0.88" fill="#bac7e2" opacity="0.32"/>
<circle cx="145.4" cy="38.8" r="1.09" fill="#bac7e2" opacity="0.40"/>
<circle cx="164.5" cy="51.9" r="0.70" fill="#eceef5" opacity="0.42"/>
<circle cx="159.3" cy="38.3" r="0.55" fill="#bac7e2" opacity="0.42"/>
<circle cx="167.1" cy="39.3" r="0.64" fill="#eceef5" opacity="0.57"/>
<circle cx="167.3" cy="14.6" r="0.76" fill="#eceef5" opacity="0.50"/>
<circle cx="157.0" cy="20.3" r="1.03" fill="#bac7e2" opacity="0.38"/>
<circle cx="177.9" cy="24.6" r="0.76" fill="#eceef5" opacity="0.60"/>
<circle cx="148.3" cy="16.2" r="0.66" fill="#bac7e2" opacity="0.48"/>
<circle cx="148.6" cy="34.9" r="1.01" fill="#eceef5" opacity="0.37"/>
<circle cx="147.6" cy="27.1" r="0.69" fill="#eceef5" opacity="0.43"/>
<circle cx="175.5" cy="29.1" r="0.74" fill="#eceef5" opacity="0.33"/>
<circle cx="184.0" cy="31.9" r="0.75" fill="#eceef5" opacity="0.40"/>
<circle cx="171.9" cy="41.6" r="0.79" fill="#bac7e2" opacity="0.32"/>
<circle cx="165.7" cy="37.8" r="0.67" fill="#bac7e2" opacity="0.42"/>
<circle cx="148.2" cy="18.7" r="0.82" fill="#eceef5" opacity="0.54"/>
<circle cx="145.9" cy="15.0" r="0.86" fill="#bac7e2" opacity="0.35"/>
<circle cx="160.8" cy="19.3" r="0.84" fill="#bac7e2" opacity="0.35"/>
<circle cx="193.5" cy="39.5" r="1.01" fill="#bac7e2" opacity="0.25"/>
<circle cx="166.9" cy="31.0" r="0.94" fill="#bac7e2" opacity="0.42"/>
<circle cx="156.5" cy="37.2" r="0.63" fill="#bac7e2" opacity="0.24"/>
<circle cx="200.2" cy="20.0" r="1.05" fill="#eceef5" opacity="0.56"/>
<circle cx="154.2" cy="46.9" r="0.91" fill="#bac7e2" opacity="0.38"/>
<circle cx="195.5" cy="37.6" r="0.52" fill="#eceef5" opacity="0.53"/>
<circle cx="169.9" cy="61.1" r="0.71" fill="#eceef5" opacity="0.43"/>
<circle cx="149.4" cy="18.5" r="0.88" fill="#eceef5" opacity="0.36"/>
<circle cx="195.6" cy="32.6" r="0.75" fill="#bac7e2" opacity="0.20"/>
<circle cx="176.8" cy="63.6" r="0.88" fill="#bac7e2" opacity="0.40"/>
<circle cx="151.4" cy="40.6" r="0.95" fill="#bac7e2" opacity="0.30"/>
<circle cx="162.3" cy="30.6" r="0.51" fill="#eceef5" opacity="0.42"/>
<circle cx="154.7" cy="31.8" r="0.52" fill="#eceef5" opacity="0.48"/>
<circle cx="179.4" cy="39.2" r="1.09" fill="#bac7e2" opacity="0.26"/>
<circle cx="176.0" cy="37.4" r="0.68" fill="#eceef5" opacity="0.45"/>
<circle cx="176.3" cy="52.9" r="0.75" fill="#eceef5" opacity="0.60"/>
<circle cx="153.2" cy="40.3" r="0.87" fill="#eceef5" opacity="0.33"/>
<circle cx="150.6" cy="29.3" r="0.90" fill="#bac7e2" opacity="0.21"/>
<circle cx="167.9" cy="23.1" r="0.91" fill="#eceef5" opacity="0.53"/>
<circle cx="176.4" cy="37.1" r="0.52" fill="#bac7e2" opacity="0.36"/>
<circle cx="161.1" cy="37.1" r="1.07" fill="#bac7e2" opacity="0.28"/>
<circle cx="169.1" cy="66.4" r="0.53" fill="#eceef5" opacity="0.60"/>
<circle cx="174.1" cy="32.1" r="0.70" fill="#eceef5" opacity="0.34"/>
<circle cx="198.2" cy="52.9" r="1.05" fill="#bac7e2" opacity="0.21"/>
<circle cx="162.3" cy="40.4" r="0.82" fill="#eceef5" opacity="0.31"/>
<circle cx="197.4" cy="22.9" r="0.61" fill="#bac7e2" opacity="0.31"/>
<circle cx="153.2" cy="54.1" r="0.71" fill="#bac7e2" opacity="0.31"/>
<circle cx="190.9" cy="44.9" r="0.54" fill="#eceef5" opacity="0.45"/>
<circle cx="173.6" cy="56.1" r="0.59" fill="#eceef5" opacity="0.53"/>
<circle cx="196.2" cy="35.9" r="0.63" fill="#eceef5" opacity="0.60"/>
<circle cx="199.3" cy="47.5" r="0.69" fill="#eceef5" opacity="0.35"/>
<circle cx="180.7" cy="62.0" r="0.84" fill="#eceef5" opacity="0.43"/>
<circle cx="184.1" cy="26.4" r="0.91" fill="#bac7e2" opacity="0.25"/>
<circle cx="150.9" cy="32.4" r="0.50" fill="#eceef5" opacity="0.57"/>
<circle cx="191.8" cy="16.8" r="0.80" fill="#bac7e2" opacity="0.37"/>
<circle cx="144.7" cy="67.4" r="0.77" fill="#bac7e2" opacity="0.32"/>
<circle cx="161.8" cy="41.4" r="0.75" fill="#eceef5" opacity="0.39"/>
<circle cx="147.7" cy="45.2" r="0.79" fill="#bac7e2" opacity="0.49"/>
<circle cx="192.1" cy="37.2" r="0.58" fill="#eceef5" opacity="0.54"/>
<circle cx="196.8" cy="36.7" r="0.64" fill="#eceef5" opacity="0.46"/>
<circle cx="185.8" cy="22.3" r="1.08" fill="#eceef5" opacity="0.39"/>
<circle cx="178.3" cy="18.2" r="1.00" fill="#eceef5" opacity="0.36"/>
<circle cx="146.9" cy="44.1" r="0.98" fill="#bac7e2" opacity="0.49"/>
<circle cx="178.7" cy="43.0" r="1.08" fill="#bac7e2" opacity="0.41"/>
<circle cx="165.5" cy="33.9" r="0.82" fill="#eceef5" opacity="0.33"/>
<circle cx="166.8" cy="17.5" r="0.75" fill="#bac7e2" opacity="0.44"/>
<circle cx="182.7" cy="67.8" r="0.94" fill="#bac7e2" opacity="0.39"/>
<circle cx="153.1" cy="38.6" r="0.56" fill="#eceef5" opacity="0.50"/>
<circle cx="158.5" cy="44.4" r="0.73" fill="#eceef5" opacity="0.50"/>
</g>
<rect x="150" y="49.2" width="9.8" height="10.2" fill="#e6d8ea" fill-opacity="0.6" stroke="#34ad9f" stroke-width="1.4"/>
<text x="145.80" y="68.60" font-size="2.8" text-anchor="start" font-weight="normal" fill="#222" stroke="#222" stroke-width="0.15" >300 μm</text>
<rect x="22.5" y="73.6" width="55.2" height="55.8" fill="#e0e8f1"/>
<rect x="22.5" y="73.6" width="55.2" height="55.8" filter="url(#fDark)" opacity="0.22"/>
<g fill="#74a0d2">
<circle cx="47.5" cy="104.7" r="0.96" opacity="0.53"/>
<circle cx="50.5" cy="106.2" r="0.55" opacity="0.56"/>
<circle cx="57.1" cy="117.4" r="0.50" opacity="0.45"/>
<circle cx="28.2" cy="118.3" r="0.83" opacity="0.32"/>
<circle cx="75.9" cy="126.7" r="0.81" opacity="0.61"/>
<circle cx="31.7" cy="75.2" r="0.74" opacity="0.33"/>
<circle cx="33.5" cy="87.5" r="0.47" opacity="0.53"/>
<circle cx="46.9" cy="120.1" r="0.74" opacity="0.62"/>
<circle cx="50.1" cy="110.3" r="0.70" opacity="0.44"/>
<circle cx="76.8" cy="128.4" r="0.91" opacity="0.65"/>
<circle cx="40.2" cy="86.8" r="0.61" opacity="0.34"/>
<circle cx="64.4" cy="96.1" r="0.92" opacity="0.49"/>
<circle cx="74.7" cy="120.3" r="0.45" opacity="0.40"/>
<circle cx="72.1" cy="99.9" r="0.99" opacity="0.50"/>
<circle cx="27.2" cy="108.5" r="0.88" opacity="0.43"/>
<circle cx="28.0" cy="92.4" r="0.98" opacity="0.68"/>
<circle cx="29.6" cy="87.8" r="0.51" opacity="0.33"/>
<circle cx="66.0" cy="84.0" r="0.76" opacity="0.52"/>
<circle cx="33.5" cy="114.1" r="0.52" opacity="0.62"/>
<circle cx="29.5" cy="97.2" r="0.57" opacity="0.43"/>
<circle cx="75.3" cy="117.9" r="0.62" opacity="0.74"/>
<circle cx="34.6" cy="95.8" r="0.92" opacity="0.62"/>
<circle cx="28.7" cy="128.0" r="0.57" opacity="0.43"/>
<circle cx="64.7" cy="92.2" r="0.61" opacity="0.34"/>
<circle cx="28.1" cy="106.0" r="0.58" opacity="0.60"/>
<circle cx="43.2" cy="99.0" r="0.98" opacity="0.54"/>
<circle cx="54.1" cy="121.4" r="0.55" opacity="0.38"/>
<circle cx="72.0" cy="118.7" r="0.59" opacity="0.39"/>
<circle cx="62.9" cy="125.4" r="0.56" opacity="0.78"/>
<circle cx="70.6" cy="107.1" r="0.68" opacity="0.35"/>
<circle cx="25.4" cy="126.6" r="0.58" opacity="0.65"/>
<circle cx="37.1" cy="119.0" r="0.78" opacity="0.45"/>
<circle cx="32.7" cy="113.4" r="0.49" opacity="0.41"/>
<circle cx="53.3" cy="120.6" r="0.79" opacity="0.44"/>
<circle cx="72.5" cy="85.5" r="0.46" opacity="0.43"/>
<circle cx="47.2" cy="77.7" r="0.55" opacity="0.48"/>
<circle cx="54.0" cy="81.5" r="0.65" opacity="0.75"/>
<circle cx="75.9" cy="110.0" r="0.83" opacity="0.59"/>
<circle cx="30.8" cy="76.3" r="0.46" opacity="0.76"/>
<circle cx="60.9" cy="126.6" r="0.46" opacity="0.62"/>
<circle cx="49.1" cy="114.0" r="0.63" opacity="0.80"/>
<circle cx="27.3" cy="104.0" r="0.86" opacity="0.75"/>
<circle cx="62.8" cy="112.5" r="0.89" opacity="0.76"/>
<circle cx="42.2" cy="111.5" r="0.95" opacity="0.74"/>
<circle cx="45.7" cy="117.2" r="0.92" opacity="0.59"/>
<circle cx="56.8" cy="95.1" r="0.77" opacity="0.60"/>
<circle cx="27.6" cy="109.1" r="1.00" opacity="0.74"/>
<circle cx="62.3" cy="95.5" r="0.85" opacity="0.59"/>
<circle cx="46.9" cy="119.8" r="0.50" opacity="0.68"/>
<circle cx="24.9" cy="107.0" r="0.71" opacity="0.42"/>
<circle cx="60.7" cy="101.4" r="0.79" opacity="0.76"/>
<circle cx="37.0" cy="75.0" r="0.62" opacity="0.64"/>
<circle cx="34.2" cy="83.6" r="0.95" opacity="0.63"/>
<circle cx="47.0" cy="122.7" r="0.63" opacity="0.63"/>
<circle cx="33.9" cy="97.8" r="0.89" opacity="0.76"/>
<circle cx="70.5" cy="95.2" r="0.77" opacity="0.46"/>
<circle cx="30.6" cy="101.3" r="0.91" opacity="0.72"/>
<circle cx="61.4" cy="125.9" r="0.60" opacity="0.38"/>
<circle cx="47.5" cy="89.3" r="0.57" opacity="0.51"/>
<circle cx="56.8" cy="101.2" r="0.62" opacity="0.72"/>
<circle cx="75.9" cy="98.9" r="0.49" opacity="0.32"/>
<circle cx="70.1" cy="76.6" r="0.84" opacity="0.59"/>
<circle cx="39.9" cy="117.3" r="0.46" opacity="0.37"/>
<circle cx="47.7" cy="75.7" r="0.91" opacity="0.42"/>
<circle cx="30.9" cy="76.9" r="0.80" opacity="0.52"/>
<circle cx="57.1" cy="109.9" r="0.89" opacity="0.78"/>
<circle cx="60.0" cy="85.2" r="0.71" opacity="0.39"/>
<circle cx="23.9" cy="100.0" r="0.84" opacity="0.39"/>
<circle cx="37.9" cy="93.1" r="0.83" opacity="0.56"/>
<circle cx="56.2" cy="115.4" r="0.67" opacity="0.70"/>
<circle cx="71.9" cy="79.1" r="0.96" opacity="0.66"/>
<circle cx="30.3" cy="99.0" r="0.79" opacity="0.75"/>
<circle cx="43.5" cy="105.2" r="0.93" opacity="0.70"/>
<circle cx="73.9" cy="99.5" r="0.81" opacity="0.40"/>
<circle cx="62.0" cy="118.8" r="0.80" opacity="0.66"/>
<circle cx="34.7" cy="123.2" r="0.99" opacity="0.79"/>
<circle cx="52.1" cy="117.3" r="0.63" opacity="0.75"/>
<circle cx="69.2" cy="93.3" r="0.50" opacity="0.52"/>
<circle cx="52.8" cy="116.0" r="0.72" opacity="0.31"/>
<circle cx="66.7" cy="77.9" r="0.89" opacity="0.39"/>
<circle cx="41.3" cy="117.1" r="0.53" opacity="0.37"/>
<circle cx="51.0" cy="113.6" r="0.91" opacity="0.64"/>
<circle cx="74.0" cy="101.1" r="0.97" opacity="0.34"/>
<circle cx="35.2" cy="102.9" r="0.61" opacity="0.66"/>
<circle cx="57.5" cy="102.7" r="0.91" opacity="0.58"/>
<circle cx="40.0" cy="95.1" r="0.91" opacity="0.75"/>
<circle cx="34.5" cy="120.5" r="0.98" opacity="0.56"/>
<circle cx="54.0" cy="85.3" r="0.74" opacity="0.55"/>
<circle cx="55.7" cy="75.9" r="0.98" opacity="0.56"/>
<circle cx="44.8" cy="117.8" r="0.76" opacity="0.55"/>
<circle cx="60.3" cy="78.0" r="0.75" opacity="0.51"/>
<circle cx="74.6" cy="124.4" r="0.60" opacity="0.54"/>
<circle cx="30.1" cy="97.9" r="0.90" opacity="0.75"/>
<circle cx="48.8" cy="91.6" r="0.56" opacity="0.61"/>
<circle cx="72.9" cy="81.4" r="0.88" opacity="0.31"/>
<circle cx="33.7" cy="86.7" r="0.83" opacity="0.46"/>
<circle cx="42.3" cy="108.0" r="0.51" opacity="0.67"/>
<circle cx="29.9" cy="102.1" r="0.59" opacity="0.40"/>
<circle cx="51.7" cy="98.1" r="0.66" opacity="0.51"/>
<circle cx="51.7" cy="83.1" r="0.56" opacity="0.62"/>
<circle cx="57.5" cy="103.1" r="0.92" opacity="0.61"/>
<circle cx="69.2" cy="87.0" r="0.86" opacity="0.71"/>
<circle cx="71.7" cy="91.5" r="0.62" opacity="0.76"/>
<circle cx="35.0" cy="128.5" r="0.94" opacity="0.37"/>
<circle cx="36.1" cy="113.8" r="0.59" opacity="0.35"/>
<circle cx="67.9" cy="97.3" r="0.88" opacity="0.36"/>
<circle cx="44.9" cy="111.5" r="0.46" opacity="0.40"/>
<circle cx="59.9" cy="123.8" r="0.98" opacity="0.36"/>
<circle cx="50.4" cy="115.5" r="0.73" opacity="0.64"/>
<circle cx="33.4" cy="78.2" r="0.51" opacity="0.32"/>
<circle cx="52.9" cy="102.3" r="0.76" opacity="0.37"/>
<circle cx="33.2" cy="85.5" r="0.91" opacity="0.80"/>
<circle cx="73.0" cy="79.6" r="0.48" opacity="0.78"/>
<circle cx="48.1" cy="115.8" r="0.63" opacity="0.53"/>
<circle cx="50.9" cy="97.7" r="0.78" opacity="0.31"/>
<circle cx="60.9" cy="120.2" r="0.55" opacity="0.53"/>
<circle cx="62.9" cy="96.4" r="0.56" opacity="0.38"/>
<circle cx="50.8" cy="75.2" r="0.94" opacity="0.70"/>
<circle cx="61.1" cy="121.1" r="0.80" opacity="0.50"/>
<circle cx="55.4" cy="101.7" r="0.99" opacity="0.70"/>
<circle cx="37.1" cy="123.8" r="0.86" opacity="0.69"/>
<circle cx="67.0" cy="96.4" r="0.94" opacity="0.74"/>
<circle cx="60.5" cy="116.0" r="0.87" opacity="0.50"/>
<circle cx="62.0" cy="78.2" r="0.64" opacity="0.53"/>
<circle cx="23.9" cy="93.7" r="0.80" opacity="0.61"/>
<circle cx="35.7" cy="125.6" r="0.82" opacity="0.47"/>
<circle cx="58.7" cy="105.3" r="0.74" opacity="0.49"/>
<circle cx="76.9" cy="109.2" r="0.84" opacity="0.68"/>
<circle cx="75.8" cy="75.6" r="0.79" opacity="0.67"/>
<circle cx="37.1" cy="96.2" r="0.48" opacity="0.40"/>
<circle cx="43.4" cy="79.7" r="0.59" opacity="0.75"/>
<circle cx="52.8" cy="101.9" r="0.98" opacity="0.58"/>
<circle cx="76.6" cy="109.0" r="0.90" opacity="0.34"/>
<circle cx="55.3" cy="115.6" r="0.47" opacity="0.77"/>
<circle cx="31.9" cy="100.0" r="0.54" opacity="0.55"/>
<circle cx="56.1" cy="77.6" r="0.97" opacity="0.51"/>
<circle cx="51.5" cy="106.8" r="0.65" opacity="0.44"/>
<circle cx="58.4" cy="104.8" r="0.61" opacity="0.66"/>
<circle cx="39.2" cy="75.2" r="0.58" opacity="0.32"/>
<circle cx="31.7" cy="115.3" r="0.66" opacity="0.75"/>
<circle cx="63.4" cy="77.1" r="0.99" opacity="0.77"/>
<circle cx="27.2" cy="123.5" r="0.69" opacity="0.54"/>
<circle cx="75.5" cy="87.6" r="0.74" opacity="0.77"/>
<circle cx="62.0" cy="99.8" r="0.99" opacity="0.71"/>
<circle cx="55.7" cy="80.6" r="0.79" opacity="0.53"/>
<circle cx="34.2" cy="77.2" r="0.74" opacity="0.36"/>
<circle cx="47.0" cy="110.6" r="0.70" opacity="0.43"/>
<circle cx="54.5" cy="97.1" r="0.88" opacity="0.57"/>
<circle cx="76.8" cy="126.0" r="0.85" opacity="0.42"/>
<circle cx="29.4" cy="122.8" r="0.88" opacity="0.61"/>
<circle cx="42.6" cy="89.1" r="0.83" opacity="0.58"/>
<circle cx="55.0" cy="108.7" r="0.86" opacity="0.39"/>
<circle cx="36.6" cy="127.5" r="0.95" opacity="0.74"/>
<circle cx="25.4" cy="77.7" r="0.60" opacity="0.51"/>
<circle cx="56.7" cy="80.0" r="0.75" opacity="0.34"/>
<circle cx="27.9" cy="111.1" r="0.75" opacity="0.62"/>
<circle cx="43.3" cy="100.3" r="0.57" opacity="0.47"/>
<circle cx="63.2" cy="119.8" r="0.49" opacity="0.36"/>
<circle cx="66.7" cy="108.2" r="0.87" opacity="0.41"/>
<circle cx="46.0" cy="88.4" r="0.90" opacity="0.48"/>
<circle cx="58.3" cy="128.0" r="0.63" opacity="0.57"/>
<circle cx="63.3" cy="124.3" r="0.69" opacity="0.48"/>
<circle cx="28.5" cy="121.8" r="0.49" opacity="0.34"/>
<circle cx="53.5" cy="100.7" r="0.83" opacity="0.45"/>
<circle cx="64.9" cy="78.5" r="0.57" opacity="0.63"/>
<circle cx="27.7" cy="90.9" r="0.85" opacity="0.65"/>
<circle cx="38.5" cy="82.1" r="0.65" opacity="0.66"/>
<circle cx="42.9" cy="80.8" r="0.84" opacity="0.58"/>
<circle cx="72.5" cy="125.3" r="0.95" opacity="0.52"/>
<circle cx="66.3" cy="90.9" r="0.62" opacity="0.50"/>
<circle cx="73.4" cy="122.9" r="0.59" opacity="0.48"/>
<circle cx="42.9" cy="94.1" r="0.67" opacity="0.49"/>
<circle cx="33.7" cy="105.0" r="0.89" opacity="0.57"/>
<circle cx="68.1" cy="104.9" r="0.55" opacity="0.68"/>
<circle cx="70.5" cy="89.7" r="0.46" opacity="0.56"/>
<circle cx="52.5" cy="105.2" r="0.98" opacity="0.63"/>
<circle cx="66.4" cy="77.9" r="0.75" opacity="0.69"/>
<circle cx="27.8" cy="78.8" r="0.86" opacity="0.75"/>
<circle cx="27.8" cy="108.8" r="0.53" opacity="0.67"/>
<circle cx="58.1" cy="87.7" r="0.57" opacity="0.68"/>
<circle cx="51.3" cy="115.8" r="0.67" opacity="0.47"/>
<circle cx="75.2" cy="110.8" r="0.72" opacity="0.57"/>
<circle cx="61.9" cy="112.8" r="0.95" opacity="0.51"/>
<circle cx="67.6" cy="110.5" r="0.92" opacity="0.70"/>
<circle cx="68.0" cy="122.6" r="0.98" opacity="0.62"/>
<circle cx="51.4" cy="112.9" r="0.89" opacity="0.51"/>
<circle cx="45.8" cy="82.3" r="0.86" opacity="0.80"/>
<circle cx="43.4" cy="83.5" r="0.56" opacity="0.51"/>
<circle cx="39.0" cy="127.0" r="0.48" opacity="0.45"/>
<circle cx="29.5" cy="109.5" r="0.88" opacity="0.39"/>
<circle cx="26.6" cy="99.3" r="0.77" opacity="0.75"/>
<circle cx="25.2" cy="80.3" r="0.55" opacity="0.41"/>
<circle cx="35.9" cy="113.3" r="0.78" opacity="0.41"/>
<circle cx="33.2" cy="89.6" r="0.54" opacity="0.68"/>
<circle cx="40.0" cy="104.1" r="0.90" opacity="0.54"/>
<circle cx="37.3" cy="122.5" r="0.95" opacity="0.47"/>
<circle cx="52.6" cy="126.3" r="0.72" opacity="0.41"/>
<circle cx="26.0" cy="125.8" r="0.89" opacity="0.49"/>
<circle cx="51.6" cy="102.4" r="0.60" opacity="0.80"/>
<circle cx="58.5" cy="87.3" r="0.46" opacity="0.54"/>
<circle cx="43.2" cy="117.6" r="0.84" opacity="0.60"/>
<circle cx="31.7" cy="82.9" r="0.63" opacity="0.43"/>
<circle cx="69.9" cy="102.4" r="0.80" opacity="0.80"/>
<circle cx="37.6" cy="103.4" r="0.53" opacity="0.69"/>
<circle cx="23.4" cy="118.9" r="0.92" opacity="0.71"/>
<circle cx="27.7" cy="89.0" r="0.84" opacity="0.35"/>
<circle cx="49.0" cy="99.8" r="0.98" opacity="0.59"/>
<circle cx="69.3" cy="90.9" r="0.88" opacity="0.51"/>
<circle cx="72.4" cy="79.3" r="0.90" opacity="0.40"/>
<circle cx="52.4" cy="102.9" r="0.54" opacity="0.72"/>
<circle cx="40.0" cy="91.2" r="0.49" opacity="0.45"/>
<circle cx="48.3" cy="113.2" r="0.65" opacity="0.64"/>
<circle cx="29.0" cy="95.8" r="0.70" opacity="0.78"/>
<circle cx="67.8" cy="109.8" r="0.46" opacity="0.49"/>
<circle cx="61.4" cy="87.3" r="0.76" opacity="0.53"/>
<circle cx="23.9" cy="128.1" r="0.89" opacity="0.40"/>
<circle cx="56.3" cy="90.1" r="0.66" opacity="0.57"/>
<circle cx="39.3" cy="92.7" r="0.67" opacity="0.63"/>
<circle cx="37.0" cy="85.2" r="0.85" opacity="0.46"/>
<circle cx="74.0" cy="104.9" r="0.85" opacity="0.47"/>
<circle cx="67.6" cy="79.4" r="0.53" opacity="0.35"/>
<circle cx="59.6" cy="112.8" r="0.55" opacity="0.50"/>
<circle cx="68.2" cy="106.5" r="0.50" opacity="0.41"/>
<circle cx="31.7" cy="81.1" r="0.67" opacity="0.34"/>
<circle cx="72.6" cy="97.5" r="0.73" opacity="0.62"/>
<circle cx="64.4" cy="118.9" r="0.66" opacity="0.47"/>
<circle cx="45.4" cy="75.2" r="0.67" opacity="0.65"/>
<circle cx="75.9" cy="117.2" r="0.81" opacity="0.60"/>
<circle cx="24.3" cy="92.3" r="0.64" opacity="0.63"/>
<circle cx="29.0" cy="94.9" r="0.73" opacity="0.69"/>
<circle cx="67.5" cy="107.5" r="0.54" opacity="0.68"/>
<circle cx="71.7" cy="104.1" r="0.64" opacity="0.55"/>
<circle cx="30.9" cy="113.1" r="0.99" opacity="0.56"/>
<circle cx="61.6" cy="119.7" r="0.56" opacity="0.77"/>
<circle cx="56.9" cy="85.1" r="0.50" opacity="0.42"/>
<circle cx="54.2" cy="112.2" r="0.63" opacity="0.76"/>
<circle cx="42.7" cy="99.5" r="0.52" opacity="0.79"/>
<circle cx="30.6" cy="123.4" r="0.75" opacity="0.58"/>
<circle cx="53.3" cy="88.7" r="0.95" opacity="0.80"/>
<circle cx="67.1" cy="107.0" r="0.52" opacity="0.71"/>
<circle cx="38.8" cy="123.0" r="0.58" opacity="0.59"/>
<circle cx="67.8" cy="84.5" r="0.75" opacity="0.34"/>
<circle cx="25.0" cy="84.2" r="0.99" opacity="0.77"/>
<circle cx="58.6" cy="91.1" r="0.82" opacity="0.67"/>
<circle cx="43.8" cy="106.5" r="0.89" opacity="0.31"/>
<circle cx="34.0" cy="99.8" r="0.53" opacity="0.49"/>
<circle cx="53.8" cy="83.8" r="0.74" opacity="0.43"/>
<circle cx="53.7" cy="92.4" r="0.80" opacity="0.32"/>
<circle cx="59.3" cy="82.2" r="0.98" opacity="0.60"/>
<circle cx="48.5" cy="96.7" r="0.79" opacity="0.64"/>
<circle cx="63.9" cy="115.1" r="0.72" opacity="0.80"/>
<circle cx="68.2" cy="120.7" r="0.67" opacity="0.52"/>
<circle cx="53.6" cy="123.5" r="0.74" opacity="0.56"/>
<circle cx="46.5" cy="123.4" r="0.63" opacity="0.33"/>
<circle cx="62.2" cy="123.2" r="0.85" opacity="0.60"/>
<circle cx="63.6" cy="90.9" r="0.78" opacity="0.33"/>
<circle cx="30.0" cy="98.6" r="0.73" opacity="0.50"/>
<circle cx="26.1" cy="112.1" r="0.74" opacity="0.42"/>
<circle cx="39.7" cy="95.8" r="0.58" opacity="0.33"/>
<circle cx="72.1" cy="126.8" r="0.82" opacity="0.73"/>
<circle cx="45.9" cy="118.0" r="0.57" opacity="0.67"/>
<circle cx="53.7" cy="123.4" r="0.50" opacity="0.70"/>
<circle cx="29.9" cy="103.5" r="0.97" opacity="0.30"/>
<circle cx="36.4" cy="90.6" r="0.63" opacity="0.33"/>
<circle cx="71.3" cy="118.6" r="0.67" opacity="0.48"/>
<circle cx="54.7" cy="76.9" r="0.47" opacity="0.75"/>
<circle cx="39.8" cy="101.4" r="0.96" opacity="0.79"/>
<circle cx="48.6" cy="85.6" r="0.61" opacity="0.76"/>
<circle cx="71.4" cy="85.0" r="0.91" opacity="0.48"/>
<circle cx="48.6" cy="83.7" r="0.93" opacity="0.80"/>
<circle cx="34.1" cy="108.7" r="0.56" opacity="0.74"/>
<circle cx="26.0" cy="80.2" r="0.85" opacity="0.46"/>
<circle cx="71.6" cy="121.5" r="0.84" opacity="0.37"/>
<circle cx="60.6" cy="125.2" r="0.69" opacity="0.34"/>
<circle cx="35.3" cy="91.0" r="0.84" opacity="0.40"/>
<circle cx="33.0" cy="87.2" r="0.82" opacity="0.70"/>
<circle cx="43.3" cy="110.3" r="0.94" opacity="0.59"/>
<circle cx="35.6" cy="90.7" r="0.96" opacity="0.63"/>
<circle cx="38.1" cy="109.1" r="0.50" opacity="0.79"/>
<circle cx="46.9" cy="103.0" r="0.74" opacity="0.32"/>
<circle cx="55.4" cy="89.8" r="0.59" opacity="0.70"/>
<circle cx="28.0" cy="89.9" r="0.87" opacity="0.42"/>
<circle cx="38.3" cy="104.1" r="0.55" opacity="0.75"/>
<circle cx="76.2" cy="76.2" r="0.70" opacity="0.68"/>
<circle cx="43.9" cy="124.8" r="0.72" opacity="0.39"/>
<circle cx="53.1" cy="109.4" r="0.65" opacity="0.63"/>
<circle cx="65.3" cy="102.4" r="0.73" opacity="0.72"/>
<circle cx="60.0" cy="102.6" r="0.97" opacity="0.39"/>
<circle cx="65.1" cy="83.4" r="0.78" opacity="0.42"/>
<circle cx="46.9" cy="116.3" r="0.88" opacity="0.70"/>
<circle cx="35.9" cy="100.9" r="0.57" opacity="0.59"/>
<circle cx="50.0" cy="76.3" r="0.78" opacity="0.66"/>
<circle cx="54.0" cy="121.7" r="0.55" opacity="0.38"/>
<circle cx="24.3" cy="101.3" r="0.69" opacity="0.52"/>
<circle cx="37.4" cy="117.7" r="0.49" opacity="0.75"/>
<circle cx="53.8" cy="103.8" r="0.89" opacity="0.42"/>
<circle cx="31.1" cy="91.3" r="0.47" opacity="0.46"/>
<circle cx="56.6" cy="102.9" r="0.60" opacity="0.59"/>
<circle cx="28.0" cy="118.9" r="0.54" opacity="0.43"/>
<circle cx="31.9" cy="111.8" r="0.91" opacity="0.69"/>
<circle cx="26.6" cy="96.7" r="0.65" opacity="0.41"/>
<circle cx="75.3" cy="76.7" r="0.72" opacity="0.68"/>
<circle cx="76.2" cy="82.2" r="0.70" opacity="0.67"/>
<circle cx="25.4" cy="87.4" r="0.94" opacity="0.37"/>
<circle cx="44.4" cy="90.6" r="0.68" opacity="0.34"/>
<circle cx="25.1" cy="128.4" r="0.87" opacity="0.67"/>
<circle cx="35.6" cy="88.1" r="0.75" opacity="0.42"/>
<circle cx="48.0" cy="124.9" r="0.65" opacity="0.47"/>
<circle cx="75.9" cy="107.5" r="0.47" opacity="0.50"/>
<circle cx="58.1" cy="77.6" r="0.64" opacity="0.65"/>
<circle cx="69.6" cy="106.4" r="0.94" opacity="0.53"/>
<circle cx="44.4" cy="120.1" r="0.66" opacity="0.69"/>
<circle cx="34.8" cy="93.2" r="0.55" opacity="0.57"/>
<circle cx="32.1" cy="85.4" r="0.57" opacity="0.53"/>
<circle cx="39.8" cy="98.6" r="1.00" opacity="0.64"/>
<circle cx="69.5" cy="85.5" r="0.66" opacity="0.34"/>
<circle cx="60.4" cy="94.1" r="0.60" opacity="0.31"/>
<circle cx="33.1" cy="88.6" r="0.67" opacity="0.76"/>
<circle cx="61.6" cy="89.0" r="0.65" opacity="0.38"/>
<circle cx="73.5" cy="93.9" r="0.87" opacity="0.66"/>
<circle cx="71.9" cy="75.5" r="0.63" opacity="0.49"/>
<circle cx="27.8" cy="122.2" r="0.63" opacity="0.69"/>
<circle cx="51.1" cy="77.4" r="0.67" opacity="0.42"/>
<circle cx="25.5" cy="82.6" r="0.78" opacity="0.32"/>
<circle cx="40.0" cy="97.4" r="0.75" opacity="0.37"/>
<circle cx="61.2" cy="88.5" r="0.85" opacity="0.63"/>
<circle cx="31.2" cy="85.5" r="0.60" opacity="0.66"/>
<circle cx="45.0" cy="95.3" r="0.93" opacity="0.41"/>
<circle cx="39.0" cy="93.1" r="0.57" opacity="0.32"/>
<circle cx="24.6" cy="108.6" r="0.76" opacity="0.70"/>
<circle cx="75.6" cy="90.6" r="0.82" opacity="0.76"/>
<circle cx="34.9" cy="111.8" r="0.82" opacity="0.78"/>
<circle cx="69.8" cy="87.1" r="0.80" opacity="0.34"/>
<circle cx="46.2" cy="95.7" r="0.48" opacity="0.49"/>
<circle cx="40.9" cy="101.3" r="0.60" opacity="0.38"/>
<circle cx="44.9" cy="100.2" r="0.54" opacity="0.63"/>
<circle cx="36.2" cy="79.4" r="0.64" opacity="0.51"/>
<circle cx="31.4" cy="106.0" r="0.84" opacity="0.58"/>
<circle cx="60.8" cy="75.6" r="0.67" opacity="0.48"/>
<circle cx="26.7" cy="96.3" r="0.48" opacity="0.55"/>
<circle cx="54.7" cy="99.8" r="0.63" opacity="0.43"/>
<circle cx="24.6" cy="93.2" r="0.94" opacity="0.58"/>
<circle cx="37.3" cy="110.6" r="0.55" opacity="0.53"/>
<circle cx="56.3" cy="126.1" r="0.65" opacity="0.59"/>
<circle cx="73.8" cy="116.2" r="0.80" opacity="0.61"/>
<circle cx="45.3" cy="96.9" r="0.60" opacity="0.71"/>
<circle cx="70.5" cy="95.1" r="0.95" opacity="0.32"/>
<circle cx="30.6" cy="101.9" r="0.62" opacity="0.48"/>
<circle cx="75.7" cy="82.5" r="0.56" opacity="0.41"/>
<circle cx="59.8" cy="87.1" r="0.45" opacity="0.57"/>
<circle cx="44.4" cy="87.4" r="0.72" opacity="0.63"/>
<circle cx="52.7" cy="108.2" r="0.76" opacity="0.72"/>
<circle cx="75.2" cy="92.5" r="0.64" opacity="0.74"/>
<circle cx="40.1" cy="113.2" r="0.83" opacity="0.64"/>
<circle cx="75.0" cy="119.1" r="0.54" opacity="0.61"/>
<circle cx="49.6" cy="105.0" r="0.65" opacity="0.44"/>
<circle cx="63.4" cy="103.3" r="0.58" opacity="0.42"/>
<circle cx="40.7" cy="84.0" r="0.73" opacity="0.36"/>
<circle cx="26.7" cy="78.1" r="0.51" opacity="0.65"/>
<circle cx="29.3" cy="98.9" r="0.87" opacity="0.54"/>
<circle cx="32.0" cy="121.4" r="0.93" opacity="0.33"/>
<circle cx="36.9" cy="101.9" r="0.89" opacity="0.50"/>
<circle cx="61.7" cy="88.0" r="0.84" opacity="0.46"/>
<circle cx="41.2" cy="115.6" r="0.91" opacity="0.71"/>
<circle cx="53.7" cy="97.2" r="0.84" opacity="0.61"/>
<circle cx="67.8" cy="117.8" r="0.52" opacity="0.49"/>
<circle cx="59.2" cy="86.9" r="0.55" opacity="0.31"/>
<circle cx="54.7" cy="125.4" r="0.98" opacity="0.37"/>
<circle cx="60.2" cy="97.1" r="0.80" opacity="0.50"/>
<circle cx="73.3" cy="128.0" r="0.48" opacity="0.66"/>
<circle cx="29.6" cy="76.7" r="0.61" opacity="0.67"/>
<circle cx="76.6" cy="80.9" r="0.63" opacity="0.31"/>
<circle cx="52.4" cy="100.6" r="0.66" opacity="0.45"/>
<circle cx="66.2" cy="119.9" r="0.61" opacity="0.50"/>
<circle cx="56.4" cy="115.9" r="0.99" opacity="0.49"/>
<circle cx="60.5" cy="104.0" r="0.89" opacity="0.37"/>
<circle cx="32.7" cy="80.2" r="0.96" opacity="0.43"/>
<circle cx="49.5" cy="80.9" r="0.63" opacity="0.31"/>
<circle cx="53.6" cy="82.2" r="0.79" opacity="0.44"/>
<circle cx="35.5" cy="100.5" r="0.65" opacity="0.43"/>
<circle cx="26.0" cy="77.9" r="0.94" opacity="0.45"/>
<circle cx="27.5" cy="84.3" r="0.72" opacity="0.80"/>
<circle cx="34.1" cy="121.4" r="0.72" opacity="0.51"/>
<circle cx="66.6" cy="95.9" r="0.48" opacity="0.58"/>
<circle cx="58.5" cy="108.2" r="0.60" opacity="0.77"/>
<circle cx="69.6" cy="128.3" r="0.69" opacity="0.72"/>
<circle cx="62.2" cy="83.9" r="0.46" opacity="0.38"/>
<circle cx="29.7" cy="78.4" r="0.65" opacity="0.68"/>
<circle cx="39.9" cy="102.3" r="0.46" opacity="0.41"/>
<circle cx="74.7" cy="75.0" r="0.74" opacity="0.71"/>
<circle cx="65.8" cy="114.3" r="0.67" opacity="0.70"/>
<circle cx="67.7" cy="116.0" r="0.99" opacity="0.35"/>
<circle cx="74.2" cy="96.2" r="0.84" opacity="0.43"/>
<circle cx="72.1" cy="75.7" r="0.77" opacity="0.41"/>
<circle cx="44.1" cy="94.4" r="0.81" opacity="0.71"/>
<circle cx="42.8" cy="109.0" r="0.64" opacity="0.44"/>
<circle cx="71.8" cy="91.8" r="0.50" opacity="0.47"/>
<circle cx="63.1" cy="85.9" r="0.86" opacity="0.57"/>
<circle cx="59.8" cy="84.0" r="0.51" opacity="0.37"/>
<circle cx="42.1" cy="97.7" r="0.46" opacity="0.55"/>
<circle cx="44.9" cy="91.8" r="0.75" opacity="0.78"/>
<circle cx="34.3" cy="122.1" r="0.63" opacity="0.68"/>
<circle cx="29.1" cy="127.9" r="0.69" opacity="0.78"/>
<circle cx="35.1" cy="96.5" r="0.84" opacity="0.39"/>
<circle cx="38.0" cy="111.1" r="0.97" opacity="0.46"/>
<circle cx="33.1" cy="93.8" r="0.99" opacity="0.37"/>
<circle cx="57.3" cy="94.9" r="0.80" opacity="0.41"/>
<circle cx="56.3" cy="122.5" r="0.92" opacity="0.61"/>
<circle cx="50.4" cy="105.2" r="0.51" opacity="0.72"/>
<circle cx="60.3" cy="99.0" r="0.82" opacity="0.51"/>
<circle cx="43.9" cy="86.9" r="0.78" opacity="0.59"/>
<circle cx="50.9" cy="76.1" r="0.80" opacity="0.52"/>
<circle cx="55.1" cy="106.6" r="0.96" opacity="0.38"/>
<circle cx="48.4" cy="128.2" r="0.86" opacity="0.46"/>
<circle cx="62.8" cy="128.0" r="0.67" opacity="0.73"/>
<circle cx="30.1" cy="128.1" r="0.72" opacity="0.42"/>
<circle cx="68.3" cy="109.6" r="0.97" opacity="0.71"/>
<circle cx="66.1" cy="102.1" r="1.00" opacity="0.33"/>
<circle cx="69.9" cy="113.0" r="0.59" opacity="0.70"/>
<circle cx="47.6" cy="103.5" r="0.93" opacity="0.40"/>
<circle cx="38.3" cy="109.3" r="0.49" opacity="0.58"/>
<circle cx="65.5" cy="101.0" r="0.58" opacity="0.70"/>
<circle cx="69.1" cy="116.2" r="0.75" opacity="0.75"/>
<circle cx="66.0" cy="82.6" r="0.65" opacity="0.35"/>
<circle cx="25.3" cy="93.1" r="0.93" opacity="0.72"/>
<circle cx="29.6" cy="84.2" r="0.66" opacity="0.72"/>
<circle cx="56.4" cy="123.3" r="0.49" opacity="0.79"/>
<circle cx="34.4" cy="108.5" r="0.93" opacity="0.66"/>
<circle cx="33.9" cy="110.6" r="0.69" opacity="0.31"/>
<circle cx="41.5" cy="91.5" r="0.80" opacity="0.44"/>
<circle cx="55.6" cy="112.1" r="0.55" opacity="0.36"/>
<circle cx="60.5" cy="99.7" r="0.52" opacity="0.36"/>
<circle cx="73.7" cy="107.5" r="0.65" opacity="0.40"/>
<circle cx="76.6" cy="111.9" r="0.85" opacity="0.48"/>
<circle cx="39.9" cy="96.5" r="0.53" opacity="0.62"/>
<circle cx="46.1" cy="118.9" r="0.67" opacity="0.53"/>
<circle cx="50.4" cy="125.4" r="0.64" opacity="0.65"/>
<circle cx="35.9" cy="105.8" r="0.61" opacity="0.74"/>
<circle cx="38.7" cy="120.7" r="0.82" opacity="0.53"/>
<circle cx="73.3" cy="95.4" r="0.86" opacity="0.60"/>
<circle cx="47.3" cy="77.9" r="0.68" opacity="0.44"/>
<circle cx="46.9" cy="126.1" r="0.61" opacity="0.65"/>
<circle cx="59.3" cy="87.7" r="0.68" opacity="0.37"/>
<circle cx="71.3" cy="88.0" r="0.68" opacity="0.47"/>
<circle cx="67.3" cy="120.5" r="0.77" opacity="0.57"/>
<circle cx="28.6" cy="123.0" r="0.50" opacity="0.48"/>
<circle cx="43.4" cy="113.6" r="0.82" opacity="0.47"/>
<circle cx="71.4" cy="125.9" r="0.46" opacity="0.62"/>
<circle cx="48.4" cy="94.0" r="0.71" opacity="0.46"/>
<circle cx="59.3" cy="107.2" r="0.98" opacity="0.79"/>
<circle cx="76.5" cy="95.8" r="0.91" opacity="0.62"/>
<circle cx="60.9" cy="128.5" r="0.49" opacity="0.53"/>
<circle cx="44.8" cy="110.0" r="0.57" opacity="0.79"/>
<circle cx="34.5" cy="94.4" r="0.53" opacity="0.50"/>
<circle cx="63.1" cy="78.9" r="0.54" opacity="0.62"/>
<circle cx="56.7" cy="114.6" r="0.59" opacity="0.71"/>
<circle cx="62.5" cy="116.5" r="0.52" opacity="0.53"/>
<circle cx="24.1" cy="121.0" r="0.97" opacity="0.75"/>
<circle cx="24.6" cy="93.4" r="0.74" opacity="0.57"/>
<circle cx="29.3" cy="117.2" r="0.62" opacity="0.55"/>
<circle cx="30.0" cy="105.2" r="0.52" opacity="0.34"/>
<circle cx="50.8" cy="90.3" r="0.88" opacity="0.42"/>
<circle cx="45.5" cy="77.3" r="0.57" opacity="0.53"/>
<circle cx="53.2" cy="99.3" r="0.92" opacity="0.35"/>
<circle cx="68.9" cy="82.8" r="0.98" opacity="0.56"/>
<circle cx="45.1" cy="107.6" r="0.93" opacity="0.78"/>
<circle cx="45.5" cy="75.0" r="0.53" opacity="0.71"/>
<circle cx="62.7" cy="113.0" r="0.54" opacity="0.57"/>
<circle cx="24.8" cy="80.4" r="0.62" opacity="0.78"/>
<circle cx="57.8" cy="120.3" r="0.48" opacity="0.51"/>
<circle cx="27.5" cy="88.5" r="0.51" opacity="0.76"/>
<circle cx="40.9" cy="100.9" r="0.81" opacity="0.74"/>
<circle cx="74.0" cy="105.2" r="0.73" opacity="0.75"/>
<circle cx="44.4" cy="90.6" r="0.86" opacity="0.43"/>
<circle cx="43.0" cy="97.7" r="0.71" opacity="0.48"/>
<circle cx="46.4" cy="98.8" r="0.48" opacity="0.72"/>
<circle cx="26.6" cy="103.0" r="0.75" opacity="0.50"/>
<circle cx="35.2" cy="79.8" r="0.65" opacity="0.46"/>
<circle cx="49.2" cy="86.9" r="0.86" opacity="0.54"/>
<circle cx="23.8" cy="96.4" r="0.98" opacity="0.30"/>
</g>
<rect x="22.5" y="73.6" width="55.2" height="55.8" filter="url(#fPatch)" opacity="0.45"/>
<rect x="82.8" y="73.6" width="56.2" height="55.8" fill="#cbdaeb"/>
<rect x="82.8" y="73.6" width="56.2" height="55.8" filter="url(#fDark)" opacity="0.28"/>
<g fill="#6f9acf">
<circle cx="116.0" cy="126.5" r="0.65" opacity="0.60"/>
<circle cx="103.7" cy="90.7" r="0.79" opacity="0.59"/>
<circle cx="100.8" cy="101.4" r="0.73" opacity="0.68"/>
<circle cx="86.5" cy="79.4" r="0.59" opacity="0.44"/>
<circle cx="127.0" cy="97.5" r="0.92" opacity="0.50"/>
<circle cx="99.2" cy="111.3" r="0.50" opacity="0.79"/>
<circle cx="129.0" cy="92.2" r="0.62" opacity="0.71"/>
<circle cx="126.6" cy="109.2" r="0.48" opacity="0.68"/>
<circle cx="86.2" cy="108.3" r="0.75" opacity="0.76"/>
<circle cx="118.5" cy="75.6" r="0.96" opacity="0.68"/>
<circle cx="115.3" cy="74.7" r="0.86" opacity="0.51"/>
<circle cx="120.7" cy="127.7" r="0.95" opacity="0.34"/>
<circle cx="126.3" cy="98.3" r="0.86" opacity="0.49"/>
<circle cx="108.0" cy="98.1" r="0.51" opacity="0.46"/>
<circle cx="123.7" cy="78.3" r="0.51" opacity="0.72"/>
<circle cx="120.0" cy="104.1" r="0.51" opacity="0.36"/>
<circle cx="100.5" cy="126.1" r="0.76" opacity="0.76"/>
<circle cx="95.1" cy="96.9" r="0.74" opacity="0.72"/>
<circle cx="90.3" cy="121.8" r="0.71" opacity="0.32"/>
<circle cx="107.2" cy="94.9" r="0.82" opacity="0.76"/>
<circle cx="110.6" cy="111.8" r="0.66" opacity="0.69"/>
<circle cx="89.3" cy="114.6" r="0.54" opacity="0.59"/>
<circle cx="94.6" cy="93.2" r="0.54" opacity="0.47"/>
<circle cx="115.9" cy="102.6" r="0.66" opacity="0.59"/>
<circle cx="129.6" cy="93.8" r="0.77" opacity="0.54"/>
<circle cx="137.1" cy="92.2" r="0.83" opacity="0.42"/>
<circle cx="97.9" cy="114.0" r="0.77" opacity="0.43"/>
<circle cx="87.1" cy="119.1" r="0.66" opacity="0.66"/>
<circle cx="107.2" cy="107.9" r="0.76" opacity="0.79"/>
<circle cx="133.3" cy="99.1" r="0.72" opacity="0.42"/>
<circle cx="124.7" cy="79.9" r="0.62" opacity="0.72"/>
<circle cx="85.5" cy="112.3" r="0.76" opacity="0.58"/>
<circle cx="101.8" cy="82.6" r="0.97" opacity="0.68"/>
<circle cx="127.6" cy="79.7" r="0.88" opacity="0.41"/>
<circle cx="94.5" cy="103.4" r="0.79" opacity="0.36"/>
<circle cx="125.4" cy="106.0" r="0.94" opacity="0.76"/>
<circle cx="121.2" cy="94.1" r="0.97" opacity="0.66"/>
<circle cx="99.5" cy="120.9" r="0.85" opacity="0.43"/>
<circle cx="97.2" cy="75.5" r="0.75" opacity="0.43"/>
<circle cx="99.6" cy="88.1" r="0.52" opacity="0.54"/>
<circle cx="98.5" cy="89.8" r="0.60" opacity="0.55"/>
<circle cx="131.3" cy="83.1" r="0.92" opacity="0.73"/>
<circle cx="116.9" cy="103.9" r="0.85" opacity="0.57"/>
<circle cx="119.6" cy="124.2" r="0.88" opacity="0.43"/>
<circle cx="86.6" cy="125.2" r="0.65" opacity="0.69"/>
<circle cx="96.3" cy="98.9" r="0.65" opacity="0.66"/>
<circle cx="135.1" cy="101.8" r="0.76" opacity="0.47"/>
<circle cx="96.3" cy="125.9" r="0.51" opacity="0.77"/>
<circle cx="119.5" cy="78.3" r="0.95" opacity="0.35"/>
<circle cx="114.5" cy="80.9" r="0.99" opacity="0.45"/>
<circle cx="131.2" cy="77.7" r="0.82" opacity="0.33"/>
<circle cx="85.2" cy="105.3" r="0.99" opacity="0.64"/>
<circle cx="130.3" cy="116.9" r="0.74" opacity="0.34"/>
<circle cx="112.4" cy="84.4" r="0.74" opacity="0.48"/>
<circle cx="110.8" cy="85.1" r="0.84" opacity="0.51"/>
<circle cx="110.1" cy="78.7" r="0.72" opacity="0.58"/>
<circle cx="136.7" cy="104.8" r="0.52" opacity="0.45"/>
<circle cx="101.9" cy="112.5" r="0.97" opacity="0.79"/>
<circle cx="135.5" cy="124.6" r="0.92" opacity="0.77"/>
<circle cx="84.7" cy="100.9" r="0.77" opacity="0.64"/>
<circle cx="117.1" cy="107.6" r="0.96" opacity="0.34"/>
<circle cx="112.0" cy="126.4" r="0.47" opacity="0.36"/>
<circle cx="131.1" cy="126.3" r="0.46" opacity="0.32"/>
<circle cx="128.9" cy="111.7" r="0.74" opacity="0.59"/>
<circle cx="125.0" cy="118.2" r="0.45" opacity="0.33"/>
<circle cx="127.0" cy="127.3" r="0.91" opacity="0.50"/>
<circle cx="101.9" cy="93.2" r="0.46" opacity="0.69"/>
<circle cx="97.9" cy="106.1" r="0.74" opacity="0.47"/>
<circle cx="120.4" cy="99.1" r="0.58" opacity="0.74"/>
<circle cx="93.2" cy="82.5" r="0.59" opacity="0.54"/>
<circle cx="126.4" cy="92.4" r="0.58" opacity="0.63"/>
<circle cx="97.8" cy="102.7" r="0.59" opacity="0.74"/>
<circle cx="93.7" cy="87.0" r="0.62" opacity="0.46"/>
<circle cx="123.3" cy="110.9" r="0.88" opacity="0.57"/>
<circle cx="87.9" cy="115.8" r="0.58" opacity="0.41"/>
<circle cx="106.2" cy="128.0" r="0.65" opacity="0.48"/>
<circle cx="133.3" cy="128.1" r="0.66" opacity="0.37"/>
<circle cx="126.7" cy="116.8" r="0.64" opacity="0.70"/>
<circle cx="104.3" cy="90.0" r="0.78" opacity="0.67"/>
<circle cx="109.6" cy="118.8" r="0.46" opacity="0.55"/>
<circle cx="104.4" cy="77.9" r="0.95" opacity="0.37"/>
<circle cx="94.8" cy="122.0" r="0.98" opacity="0.77"/>
<circle cx="102.3" cy="124.8" r="0.53" opacity="0.66"/>
<circle cx="135.2" cy="84.8" r="0.52" opacity="0.64"/>
<circle cx="131.8" cy="113.8" r="0.97" opacity="0.53"/>
<circle cx="103.9" cy="80.9" r="0.60" opacity="0.77"/>
<circle cx="87.5" cy="84.4" r="0.64" opacity="0.32"/>
<circle cx="100.4" cy="84.3" r="0.52" opacity="0.56"/>
<circle cx="113.1" cy="105.2" r="0.87" opacity="0.56"/>
<circle cx="135.3" cy="78.8" r="0.57" opacity="0.34"/>
<circle cx="100.5" cy="115.6" r="0.96" opacity="0.55"/>
<circle cx="92.4" cy="92.3" r="0.76" opacity="0.45"/>
<circle cx="126.9" cy="127.1" r="0.70" opacity="0.60"/>
<circle cx="129.8" cy="99.6" r="0.55" opacity="0.77"/>
<circle cx="137.0" cy="75.7" r="0.87" opacity="0.50"/>
<circle cx="86.4" cy="83.2" r="0.55" opacity="0.67"/>
<circle cx="95.2" cy="75.5" r="0.57" opacity="0.70"/>
<circle cx="110.9" cy="109.8" r="0.71" opacity="0.39"/>
<circle cx="84.4" cy="90.9" r="0.47" opacity="0.43"/>
<circle cx="117.4" cy="94.4" r="0.71" opacity="0.61"/>
<circle cx="100.9" cy="93.7" r="0.94" opacity="0.59"/>
<circle cx="106.4" cy="103.7" r="0.70" opacity="0.47"/>
<circle cx="133.5" cy="87.0" r="0.96" opacity="0.73"/>
<circle cx="131.8" cy="83.2" r="0.73" opacity="0.79"/>
<circle cx="99.4" cy="83.7" r="0.85" opacity="0.42"/>
<circle cx="115.5" cy="82.9" r="0.97" opacity="0.44"/>
<circle cx="88.9" cy="111.7" r="0.64" opacity="0.58"/>
<circle cx="110.7" cy="124.4" r="0.73" opacity="0.49"/>
<circle cx="83.7" cy="101.3" r="0.60" opacity="0.59"/>
<circle cx="118.1" cy="99.5" r="0.50" opacity="0.55"/>
<circle cx="109.9" cy="109.2" r="0.98" opacity="0.44"/>
<circle cx="107.8" cy="79.0" r="0.89" opacity="0.42"/>
<circle cx="128.9" cy="117.6" r="0.59" opacity="0.75"/>
<circle cx="111.1" cy="97.5" r="0.76" opacity="0.77"/>
<circle cx="110.3" cy="100.5" r="0.61" opacity="0.72"/>
<circle cx="111.1" cy="93.0" r="0.56" opacity="0.41"/>
<circle cx="129.1" cy="117.9" r="0.99" opacity="0.76"/>
<circle cx="121.0" cy="117.6" r="0.84" opacity="0.70"/>
<circle cx="127.3" cy="84.0" r="0.90" opacity="0.45"/>
<circle cx="96.9" cy="124.2" r="0.46" opacity="0.56"/>
<circle cx="102.3" cy="117.3" r="0.79" opacity="0.76"/>
<circle cx="134.5" cy="109.3" r="0.49" opacity="0.63"/>
<circle cx="89.6" cy="127.6" r="0.93" opacity="0.46"/>
<circle cx="93.8" cy="112.0" r="0.87" opacity="0.79"/>
<circle cx="117.6" cy="81.2" r="0.85" opacity="0.33"/>
<circle cx="131.0" cy="116.1" r="0.88" opacity="0.74"/>
<circle cx="114.7" cy="125.5" r="0.80" opacity="0.55"/>
<circle cx="104.6" cy="93.6" r="0.46" opacity="0.38"/>
<circle cx="127.0" cy="86.8" r="0.81" opacity="0.69"/>
<circle cx="121.5" cy="102.4" r="0.62" opacity="0.44"/>
<circle cx="93.8" cy="109.5" r="0.83" opacity="0.77"/>
<circle cx="101.7" cy="124.6" r="0.95" opacity="0.45"/>
<circle cx="135.6" cy="108.0" r="0.98" opacity="0.69"/>
<circle cx="101.8" cy="89.5" r="0.74" opacity="0.54"/>
<circle cx="85.5" cy="121.1" r="0.74" opacity="0.54"/>
<circle cx="124.3" cy="87.9" r="0.56" opacity="0.59"/>
<circle cx="96.8" cy="92.2" r="0.49" opacity="0.33"/>
<circle cx="103.0" cy="103.0" r="0.97" opacity="0.62"/>
<circle cx="106.2" cy="96.4" r="0.58" opacity="0.54"/>
<circle cx="136.0" cy="81.0" r="0.69" opacity="0.64"/>
<circle cx="125.2" cy="104.5" r="0.80" opacity="0.77"/>
<circle cx="132.9" cy="88.0" r="0.75" opacity="0.80"/>
<circle cx="112.4" cy="84.7" r="0.87" opacity="0.33"/>
<circle cx="91.8" cy="104.3" r="0.60" opacity="0.66"/>
<circle cx="123.3" cy="91.7" r="0.87" opacity="0.62"/>
<circle cx="122.1" cy="99.1" r="0.69" opacity="0.35"/>
<circle cx="109.5" cy="126.1" r="0.94" opacity="0.33"/>
<circle cx="87.5" cy="89.0" r="0.83" opacity="0.52"/>
<circle cx="90.6" cy="97.5" r="0.77" opacity="0.67"/>
<circle cx="105.6" cy="109.6" r="0.82" opacity="0.61"/>
<circle cx="86.1" cy="112.9" r="0.52" opacity="0.33"/>
<circle cx="109.5" cy="75.3" r="0.49" opacity="0.50"/>
<circle cx="109.2" cy="80.1" r="0.97" opacity="0.73"/>
<circle cx="110.2" cy="106.3" r="0.62" opacity="0.79"/>
<circle cx="90.1" cy="90.9" r="0.57" opacity="0.73"/>
<circle cx="111.4" cy="96.6" r="0.67" opacity="0.74"/>
<circle cx="97.7" cy="117.3" r="0.84" opacity="0.52"/>
<circle cx="103.6" cy="98.1" r="0.70" opacity="0.46"/>
<circle cx="117.7" cy="96.7" r="0.62" opacity="0.69"/>
<circle cx="108.4" cy="100.1" r="0.93" opacity="0.53"/>
<circle cx="104.1" cy="123.1" r="0.99" opacity="0.69"/>
<circle cx="105.5" cy="110.8" r="0.86" opacity="0.45"/>
<circle cx="123.1" cy="125.9" r="0.81" opacity="0.63"/>
<circle cx="107.4" cy="109.8" r="0.57" opacity="0.69"/>
<circle cx="113.0" cy="127.5" r="0.64" opacity="0.66"/>
<circle cx="84.5" cy="97.0" r="0.87" opacity="0.43"/>
<circle cx="117.1" cy="86.4" r="0.67" opacity="0.80"/>
<circle cx="94.3" cy="123.9" r="0.48" opacity="0.59"/>
<circle cx="128.4" cy="119.8" r="0.67" opacity="0.60"/>
<circle cx="122.5" cy="115.7" r="0.86" opacity="0.59"/>
<circle cx="97.3" cy="112.6" r="0.76" opacity="0.57"/>
<circle cx="137.5" cy="81.8" r="0.88" opacity="0.46"/>
<circle cx="123.3" cy="125.9" r="0.60" opacity="0.58"/>
<circle cx="112.4" cy="101.2" r="0.54" opacity="0.61"/>
<circle cx="132.4" cy="110.3" r="0.61" opacity="0.70"/>
<circle cx="106.5" cy="82.3" r="0.78" opacity="0.53"/>
<circle cx="112.5" cy="128.1" r="0.76" opacity="0.78"/>
<circle cx="102.9" cy="115.5" r="0.49" opacity="0.45"/>
<circle cx="121.4" cy="111.8" r="0.91" opacity="0.49"/>
<circle cx="98.5" cy="93.8" r="0.75" opacity="0.31"/>
<circle cx="104.0" cy="110.0" r="0.53" opacity="0.46"/>
<circle cx="131.2" cy="125.0" r="0.59" opacity="0.39"/>
<circle cx="90.0" cy="79.0" r="0.89" opacity="0.67"/>
<circle cx="98.0" cy="100.9" r="0.83" opacity="0.31"/>
<circle cx="128.3" cy="121.0" r="0.57" opacity="0.65"/>
<circle cx="121.8" cy="92.7" r="0.93" opacity="0.41"/>
<circle cx="109.5" cy="91.4" r="0.69" opacity="0.71"/>
<circle cx="114.7" cy="107.4" r="0.99" opacity="0.41"/>
<circle cx="95.8" cy="108.0" r="0.53" opacity="0.78"/>
<circle cx="102.2" cy="98.3" r="0.69" opacity="0.71"/>
<circle cx="133.6" cy="111.1" r="0.54" opacity="0.48"/>
<circle cx="122.2" cy="86.1" r="0.94" opacity="0.74"/>
<circle cx="96.0" cy="94.1" r="0.58" opacity="0.66"/>
<circle cx="86.2" cy="112.1" r="0.48" opacity="0.72"/>
<circle cx="113.3" cy="106.0" r="0.50" opacity="0.32"/>
<circle cx="102.9" cy="127.8" r="0.78" opacity="0.73"/>
<circle cx="87.0" cy="79.9" r="0.46" opacity="0.65"/>
<circle cx="93.2" cy="89.2" r="0.82" opacity="0.65"/>
<circle cx="101.2" cy="99.7" r="0.61" opacity="0.58"/>
<circle cx="103.0" cy="93.9" r="0.59" opacity="0.45"/>
<circle cx="97.8" cy="75.3" r="0.62" opacity="0.60"/>
<circle cx="98.3" cy="80.5" r="0.92" opacity="0.53"/>
<circle cx="111.5" cy="91.3" r="0.94" opacity="0.68"/>
<circle cx="117.6" cy="110.1" r="0.83" opacity="0.55"/>
<circle cx="106.2" cy="95.5" r="0.73" opacity="0.53"/>
<circle cx="112.5" cy="103.3" r="0.88" opacity="0.75"/>
<circle cx="95.8" cy="75.6" r="0.62" opacity="0.32"/>
<circle cx="127.1" cy="108.0" r="0.61" opacity="0.40"/>
<circle cx="131.0" cy="119.7" r="0.83" opacity="0.65"/>
<circle cx="124.3" cy="99.0" r="0.67" opacity="0.58"/>
<circle cx="131.7" cy="128.1" r="0.95" opacity="0.72"/>
<circle cx="87.7" cy="87.8" r="0.98" opacity="0.57"/>
<circle cx="111.7" cy="91.2" r="0.92" opacity="0.56"/>
<circle cx="137.7" cy="78.5" r="1.00" opacity="0.31"/>
<circle cx="91.7" cy="95.5" r="0.80" opacity="0.36"/>
<circle cx="114.3" cy="125.3" r="0.69" opacity="0.68"/>
<circle cx="115.9" cy="106.0" r="0.55" opacity="0.53"/>
<circle cx="132.8" cy="110.9" r="0.57" opacity="0.52"/>
<circle cx="113.3" cy="92.7" r="0.77" opacity="0.62"/>
<circle cx="84.6" cy="86.3" r="0.81" opacity="0.41"/>
<circle cx="87.6" cy="115.7" r="0.63" opacity="0.78"/>
<circle cx="114.1" cy="79.9" r="0.80" opacity="0.43"/>
<circle cx="128.1" cy="113.6" r="0.87" opacity="0.33"/>
<circle cx="85.5" cy="117.6" r="0.53" opacity="0.40"/>
<circle cx="85.2" cy="83.3" r="0.71" opacity="0.78"/>
<circle cx="101.1" cy="88.5" r="0.91" opacity="0.39"/>
<circle cx="118.3" cy="107.7" r="0.96" opacity="0.32"/>
<circle cx="114.3" cy="95.2" r="0.90" opacity="0.43"/>
<circle cx="122.6" cy="84.4" r="0.72" opacity="0.78"/>
<circle cx="96.7" cy="89.5" r="0.95" opacity="0.64"/>
<circle cx="87.2" cy="84.5" r="0.58" opacity="0.44"/>
<circle cx="129.7" cy="112.4" r="0.99" opacity="0.63"/>
<circle cx="117.9" cy="95.2" r="0.84" opacity="0.55"/>
<circle cx="86.8" cy="101.1" r="0.66" opacity="0.57"/>
<circle cx="86.3" cy="75.9" r="0.99" opacity="0.49"/>
<circle cx="101.6" cy="82.4" r="0.78" opacity="0.76"/>
<circle cx="93.4" cy="101.5" r="0.72" opacity="0.68"/>
<circle cx="114.5" cy="87.3" r="0.55" opacity="0.66"/>
<circle cx="87.9" cy="121.3" r="0.47" opacity="0.39"/>
<circle cx="109.1" cy="120.1" r="0.79" opacity="0.67"/>
<circle cx="125.2" cy="113.6" r="0.48" opacity="0.71"/>
<circle cx="91.7" cy="83.2" r="0.47" opacity="0.31"/>
<circle cx="131.5" cy="95.0" r="0.50" opacity="0.32"/>
<circle cx="129.8" cy="107.0" r="0.95" opacity="0.32"/>
<circle cx="89.7" cy="89.9" r="0.56" opacity="0.36"/>
<circle cx="94.6" cy="109.1" r="0.54" opacity="0.38"/>
<circle cx="112.8" cy="94.8" r="0.53" opacity="0.58"/>
<circle cx="111.3" cy="95.4" r="0.71" opacity="0.32"/>
<circle cx="117.2" cy="84.9" r="0.63" opacity="0.30"/>
<circle cx="132.1" cy="106.2" r="0.67" opacity="0.57"/>
<circle cx="134.9" cy="81.6" r="0.66" opacity="0.65"/>
<circle cx="103.9" cy="112.7" r="0.95" opacity="0.32"/>
<circle cx="99.1" cy="90.3" r="0.86" opacity="0.69"/>
<circle cx="121.8" cy="124.5" r="0.55" opacity="0.50"/>
<circle cx="130.2" cy="115.9" r="0.51" opacity="0.79"/>
<circle cx="124.0" cy="121.3" r="0.65" opacity="0.60"/>
<circle cx="135.9" cy="123.1" r="0.77" opacity="0.74"/>
<circle cx="138.1" cy="119.9" r="0.81" opacity="0.78"/>
<circle cx="91.4" cy="96.3" r="0.76" opacity="0.37"/>
<circle cx="126.2" cy="77.8" r="0.80" opacity="0.44"/>
<circle cx="101.2" cy="107.3" r="0.56" opacity="0.52"/>
<circle cx="130.4" cy="127.9" r="0.59" opacity="0.48"/>
<circle cx="121.5" cy="84.7" r="0.92" opacity="0.40"/>
<circle cx="114.0" cy="92.8" r="0.45" opacity="0.30"/>
<circle cx="83.7" cy="92.2" r="0.60" opacity="0.80"/>
<circle cx="118.4" cy="77.9" r="0.84" opacity="0.42"/>
<circle cx="109.9" cy="113.6" r="0.92" opacity="0.77"/>
<circle cx="106.6" cy="91.6" r="0.67" opacity="0.46"/>
<circle cx="124.1" cy="99.5" r="0.83" opacity="0.38"/>
<circle cx="126.3" cy="126.8" r="0.56" opacity="0.61"/>
<circle cx="92.4" cy="76.3" r="0.68" opacity="0.39"/>
<circle cx="123.5" cy="105.4" r="0.82" opacity="0.78"/>
<circle cx="86.8" cy="79.7" r="0.47" opacity="0.53"/>
<circle cx="128.6" cy="111.5" r="0.75" opacity="0.73"/>
<circle cx="103.9" cy="80.5" r="0.80" opacity="0.31"/>
<circle cx="96.1" cy="76.0" r="0.54" opacity="0.33"/>
<circle cx="112.6" cy="81.3" r="0.78" opacity="0.71"/>
<circle cx="102.4" cy="80.9" r="0.82" opacity="0.66"/>
<circle cx="131.9" cy="104.4" r="0.77" opacity="0.73"/>
<circle cx="120.6" cy="127.2" r="0.61" opacity="0.69"/>
<circle cx="118.2" cy="99.8" r="0.46" opacity="0.54"/>
<circle cx="98.0" cy="107.0" r="0.73" opacity="0.56"/>
<circle cx="86.8" cy="81.5" r="0.78" opacity="0.64"/>
<circle cx="137.7" cy="117.4" r="0.61" opacity="0.53"/>
<circle cx="111.2" cy="118.0" r="0.67" opacity="0.76"/>
<circle cx="110.0" cy="96.0" r="0.71" opacity="0.48"/>
<circle cx="138.2" cy="76.9" r="0.67" opacity="0.34"/>
<circle cx="120.6" cy="82.6" r="0.53" opacity="0.51"/>
<circle cx="116.5" cy="115.8" r="0.69" opacity="0.45"/>
<circle cx="103.7" cy="122.5" r="0.57" opacity="0.31"/>
<circle cx="132.0" cy="100.6" r="0.52" opacity="0.37"/>
<circle cx="132.2" cy="115.0" r="0.49" opacity="0.64"/>
<circle cx="95.3" cy="98.6" r="0.78" opacity="0.33"/>
<circle cx="134.7" cy="92.6" r="0.53" opacity="0.69"/>
<circle cx="89.6" cy="76.4" r="0.81" opacity="0.54"/>
<circle cx="132.8" cy="117.3" r="0.56" opacity="0.32"/>
<circle cx="116.5" cy="99.9" r="0.62" opacity="0.76"/>
<circle cx="95.0" cy="109.3" r="0.49" opacity="0.76"/>
<circle cx="135.4" cy="107.9" r="0.63" opacity="0.66"/>
<circle cx="132.9" cy="117.5" r="0.47" opacity="0.55"/>
<circle cx="91.2" cy="104.0" r="0.97" opacity="0.73"/>
<circle cx="97.2" cy="104.3" r="0.62" opacity="0.38"/>
<circle cx="124.2" cy="115.6" r="0.64" opacity="0.51"/>
<circle cx="121.6" cy="113.8" r="0.70" opacity="0.36"/>
<circle cx="88.8" cy="83.6" r="0.90" opacity="0.55"/>
<circle cx="118.8" cy="94.2" r="0.65" opacity="0.39"/>
<circle cx="136.8" cy="107.2" r="0.52" opacity="0.65"/>
<circle cx="116.2" cy="107.6" r="0.87" opacity="0.60"/>
<circle cx="131.5" cy="127.0" r="0.67" opacity="0.62"/>
<circle cx="104.0" cy="96.7" r="0.65" opacity="0.62"/>
<circle cx="102.8" cy="93.5" r="0.92" opacity="0.70"/>
<circle cx="120.5" cy="120.1" r="0.66" opacity="0.62"/>
<circle cx="97.3" cy="91.5" r="0.51" opacity="0.70"/>
<circle cx="133.9" cy="90.8" r="0.66" opacity="0.36"/>
<circle cx="91.4" cy="109.0" r="0.94" opacity="0.34"/>
<circle cx="97.5" cy="115.5" r="0.57" opacity="0.74"/>
<circle cx="102.9" cy="100.1" r="0.56" opacity="0.45"/>
<circle cx="106.8" cy="89.5" r="0.85" opacity="0.32"/>
<circle cx="118.5" cy="117.9" r="0.63" opacity="0.40"/>
<circle cx="90.1" cy="78.6" r="0.89" opacity="0.60"/>
<circle cx="84.4" cy="99.0" r="0.78" opacity="0.46"/>
<circle cx="85.5" cy="97.2" r="0.64" opacity="0.79"/>
<circle cx="103.2" cy="124.4" r="0.93" opacity="0.59"/>
<circle cx="90.5" cy="118.2" r="0.50" opacity="0.58"/>
<circle cx="88.9" cy="79.4" r="0.68" opacity="0.38"/>
<circle cx="137.8" cy="105.7" r="0.94" opacity="0.78"/>
<circle cx="125.0" cy="109.4" r="0.71" opacity="0.69"/>
<circle cx="120.1" cy="83.0" r="0.74" opacity="0.51"/>
<circle cx="111.7" cy="113.1" r="0.83" opacity="0.58"/>
<circle cx="126.7" cy="119.1" r="0.50" opacity="0.37"/>
<circle cx="86.2" cy="83.1" r="0.98" opacity="0.45"/>
<circle cx="107.6" cy="99.6" r="0.76" opacity="0.44"/>
<circle cx="126.1" cy="92.4" r="0.92" opacity="0.70"/>
<circle cx="83.7" cy="104.1" r="0.50" opacity="0.74"/>
<circle cx="87.4" cy="88.9" r="0.87" opacity="0.60"/>
<circle cx="120.0" cy="96.8" r="0.74" opacity="0.40"/>
<circle cx="108.8" cy="88.3" r="0.82" opacity="0.35"/>
<circle cx="91.1" cy="85.1" r="0.74" opacity="0.59"/>
<circle cx="83.8" cy="127.9" r="0.91" opacity="0.49"/>
<circle cx="92.3" cy="119.2" r="0.99" opacity="0.39"/>
<circle cx="124.9" cy="118.7" r="0.97" opacity="0.40"/>
<circle cx="90.2" cy="83.3" r="0.58" opacity="0.75"/>
<circle cx="133.3" cy="100.1" r="0.52" opacity="0.48"/>
<circle cx="96.8" cy="109.5" r="0.85" opacity="0.69"/>
<circle cx="107.5" cy="99.2" r="0.71" opacity="0.49"/>
<circle cx="108.4" cy="111.5" r="0.84" opacity="0.46"/>
<circle cx="114.5" cy="82.3" r="0.47" opacity="0.49"/>
<circle cx="103.2" cy="76.2" r="0.49" opacity="0.51"/>
<circle cx="135.0" cy="119.8" r="0.47" opacity="0.46"/>
<circle cx="103.7" cy="91.3" r="0.53" opacity="0.60"/>
<circle cx="129.4" cy="95.1" r="0.55" opacity="0.35"/>
<circle cx="84.4" cy="115.9" r="0.58" opacity="0.66"/>
<circle cx="126.8" cy="78.9" r="0.55" opacity="0.46"/>
<circle cx="125.6" cy="114.3" r="0.62" opacity="0.53"/>
<circle cx="103.0" cy="100.0" r="0.89" opacity="0.43"/>
<circle cx="127.9" cy="124.3" r="0.78" opacity="0.78"/>
<circle cx="134.8" cy="83.7" r="1.00" opacity="0.40"/>
<circle cx="127.5" cy="81.0" r="0.62" opacity="0.52"/>
<circle cx="129.4" cy="111.3" r="0.56" opacity="0.75"/>
<circle cx="130.9" cy="102.0" r="0.48" opacity="0.44"/>
<circle cx="99.6" cy="97.1" r="0.97" opacity="0.60"/>
<circle cx="128.4" cy="78.3" r="0.59" opacity="0.67"/>
<circle cx="102.2" cy="86.7" r="0.48" opacity="0.33"/>
<circle cx="106.1" cy="104.0" r="0.67" opacity="0.58"/>
<circle cx="99.5" cy="75.3" r="0.82" opacity="0.47"/>
<circle cx="110.4" cy="94.9" r="0.60" opacity="0.33"/>
<circle cx="99.8" cy="90.6" r="0.51" opacity="0.31"/>
<circle cx="109.8" cy="75.5" r="0.93" opacity="0.48"/>
<circle cx="107.8" cy="102.9" r="0.46" opacity="0.35"/>
<circle cx="126.5" cy="104.6" r="0.72" opacity="0.47"/>
<circle cx="124.6" cy="101.7" r="0.89" opacity="0.72"/>
<circle cx="132.4" cy="113.7" r="0.82" opacity="0.53"/>
<circle cx="112.7" cy="105.8" r="0.74" opacity="0.71"/>
<circle cx="130.5" cy="77.2" r="0.86" opacity="0.61"/>
<circle cx="116.3" cy="123.6" r="0.48" opacity="0.54"/>
<circle cx="104.1" cy="125.8" r="0.54" opacity="0.58"/>
<circle cx="91.5" cy="115.3" r="0.72" opacity="0.67"/>
<circle cx="100.4" cy="122.3" r="0.45" opacity="0.41"/>
<circle cx="123.6" cy="122.0" r="0.88" opacity="0.44"/>
<circle cx="88.0" cy="112.8" r="0.85" opacity="0.33"/>
<circle cx="134.6" cy="103.0" r="0.47" opacity="0.54"/>
<circle cx="102.1" cy="80.1" r="0.94" opacity="0.77"/>
<circle cx="90.4" cy="98.6" r="0.60" opacity="0.64"/>
<circle cx="89.6" cy="92.5" r="0.68" opacity="0.54"/>
<circle cx="107.4" cy="106.7" r="0.97" opacity="0.77"/>
<circle cx="133.1" cy="119.3" r="0.58" opacity="0.42"/>
<circle cx="108.7" cy="109.3" r="0.78" opacity="0.47"/>
<circle cx="137.8" cy="91.3" r="0.46" opacity="0.35"/>
<circle cx="95.0" cy="114.0" r="0.91" opacity="0.32"/>
<circle cx="96.5" cy="87.5" r="0.88" opacity="0.75"/>
<circle cx="98.0" cy="79.9" r="0.98" opacity="0.79"/>
<circle cx="122.7" cy="100.0" r="0.86" opacity="0.68"/>
<circle cx="111.4" cy="89.1" r="0.74" opacity="0.63"/>
<circle cx="101.3" cy="109.0" r="0.53" opacity="0.79"/>
<circle cx="95.1" cy="86.7" r="0.98" opacity="0.78"/>
<circle cx="134.1" cy="120.0" r="0.92" opacity="0.71"/>
<circle cx="114.5" cy="78.4" r="0.85" opacity="0.72"/>
<circle cx="129.3" cy="76.8" r="0.48" opacity="0.67"/>
<circle cx="110.2" cy="122.8" r="0.99" opacity="0.52"/>
<circle cx="120.5" cy="110.4" r="0.83" opacity="0.48"/>
<circle cx="118.5" cy="78.1" r="0.95" opacity="0.66"/>
<circle cx="127.4" cy="99.5" r="0.56" opacity="0.53"/>
<circle cx="120.8" cy="104.1" r="0.51" opacity="0.30"/>
<circle cx="105.3" cy="87.7" r="0.57" opacity="0.41"/>
<circle cx="106.3" cy="112.1" r="0.95" opacity="0.64"/>
<circle cx="84.7" cy="121.4" r="0.78" opacity="0.67"/>
<circle cx="117.1" cy="93.6" r="0.64" opacity="0.34"/>
<circle cx="119.9" cy="77.3" r="0.82" opacity="0.76"/>
<circle cx="120.1" cy="107.3" r="0.89" opacity="0.78"/>
<circle cx="128.0" cy="128.1" r="0.70" opacity="0.31"/>
<circle cx="117.1" cy="109.0" r="0.92" opacity="0.61"/>
<circle cx="103.4" cy="74.7" r="0.91" opacity="0.61"/>
<circle cx="137.4" cy="106.6" r="0.92" opacity="0.69"/>
<circle cx="137.7" cy="99.5" r="0.94" opacity="0.50"/>
<circle cx="84.2" cy="92.1" r="0.64" opacity="0.80"/>
<circle cx="105.2" cy="89.3" r="0.83" opacity="0.35"/>
<circle cx="100.3" cy="95.8" r="0.52" opacity="0.60"/>
<circle cx="106.7" cy="117.9" r="0.64" opacity="0.79"/>
<circle cx="94.3" cy="103.2" r="0.57" opacity="0.31"/>
<circle cx="100.1" cy="122.9" r="0.61" opacity="0.54"/>
<circle cx="112.2" cy="88.8" r="0.74" opacity="0.33"/>
<circle cx="102.7" cy="89.8" r="0.90" opacity="0.69"/>
<circle cx="121.9" cy="106.6" r="0.93" opacity="0.67"/>
<circle cx="86.6" cy="81.5" r="0.86" opacity="0.72"/>
<circle cx="137.6" cy="116.4" r="0.54" opacity="0.58"/>
<circle cx="117.7" cy="107.2" r="0.52" opacity="0.78"/>
<circle cx="111.5" cy="89.0" r="0.99" opacity="0.49"/>
<circle cx="87.4" cy="110.7" r="0.59" opacity="0.41"/>
<circle cx="100.1" cy="107.3" r="0.63" opacity="0.63"/>
<circle cx="133.0" cy="128.1" r="0.94" opacity="0.76"/>
<circle cx="97.4" cy="119.1" r="0.50" opacity="0.59"/>
<circle cx="87.7" cy="79.8" r="0.97" opacity="0.36"/>
<circle cx="122.8" cy="103.0" r="0.45" opacity="0.70"/>
<circle cx="86.9" cy="122.5" r="0.90" opacity="0.55"/>
<circle cx="108.0" cy="75.9" r="0.83" opacity="0.32"/>
<circle cx="112.3" cy="124.6" r="0.82" opacity="0.36"/>
<circle cx="123.0" cy="112.4" r="0.63" opacity="0.69"/>
<circle cx="115.2" cy="96.8" r="0.74" opacity="0.44"/>
<circle cx="99.3" cy="122.6" r="0.64" opacity="0.69"/>
<circle cx="103.6" cy="84.7" r="0.45" opacity="0.78"/>
<circle cx="124.6" cy="127.6" r="0.77" opacity="0.33"/>
<circle cx="92.5" cy="77.1" r="0.79" opacity="0.61"/>
<circle cx="135.8" cy="90.4" r="0.58" opacity="0.41"/>
<circle cx="91.6" cy="75.9" r="0.72" opacity="0.51"/>
<circle cx="103.7" cy="126.0" r="0.62" opacity="0.71"/>
<circle cx="112.7" cy="80.0" r="0.47" opacity="0.60"/>
<circle cx="131.3" cy="77.1" r="0.84" opacity="0.42"/>
<circle cx="121.1" cy="119.6" r="0.85" opacity="0.42"/>
<circle cx="92.1" cy="126.8" r="0.95" opacity="0.76"/>
<circle cx="113.1" cy="77.2" r="0.65" opacity="0.76"/>
<circle cx="87.3" cy="90.4" r="0.47" opacity="0.74"/>
<circle cx="102.9" cy="78.9" r="0.65" opacity="0.40"/>
<circle cx="107.3" cy="107.8" r="0.81" opacity="0.35"/>
<circle cx="112.8" cy="77.4" r="0.69" opacity="0.70"/>
<circle cx="97.9" cy="119.0" r="0.58" opacity="0.50"/>
<circle cx="126.9" cy="74.6" r="0.75" opacity="0.57"/>
<circle cx="122.6" cy="125.8" r="0.83" opacity="0.41"/>
<circle cx="94.5" cy="100.5" r="0.60" opacity="0.58"/>
<circle cx="88.5" cy="112.0" r="0.68" opacity="0.32"/>
<circle cx="90.2" cy="125.1" r="0.92" opacity="0.74"/>
<circle cx="104.9" cy="127.8" r="0.54" opacity="0.66"/>
<circle cx="135.0" cy="85.7" r="0.45" opacity="0.36"/>
<circle cx="88.2" cy="118.0" r="0.78" opacity="0.54"/>
<circle cx="89.9" cy="109.2" r="0.53" opacity="0.37"/>
<circle cx="116.0" cy="109.3" r="0.89" opacity="0.71"/>
<circle cx="91.1" cy="90.9" r="0.53" opacity="0.55"/>
<circle cx="85.1" cy="121.4" r="0.82" opacity="0.70"/>
<circle cx="110.3" cy="123.8" r="0.91" opacity="0.71"/>
<circle cx="127.6" cy="86.1" r="0.64" opacity="0.33"/>
<circle cx="125.3" cy="100.1" r="0.99" opacity="0.44"/>
<circle cx="107.1" cy="121.4" r="0.98" opacity="0.68"/>
<circle cx="131.8" cy="124.5" r="0.60" opacity="0.61"/>
<circle cx="87.1" cy="111.1" r="0.97" opacity="0.55"/>
<circle cx="91.6" cy="105.3" r="0.49" opacity="0.53"/>
<circle cx="88.0" cy="97.0" r="0.90" opacity="0.67"/>
<circle cx="130.2" cy="99.2" r="0.69" opacity="0.33"/>
<circle cx="126.7" cy="105.3" r="0.67" opacity="0.37"/>
<circle cx="108.6" cy="77.8" r="0.52" opacity="0.34"/>
<circle cx="106.8" cy="81.8" r="0.91" opacity="0.60"/>
<circle cx="130.9" cy="104.4" r="0.54" opacity="0.44"/>
<circle cx="129.4" cy="106.1" r="0.81" opacity="0.62"/>
<circle cx="86.2" cy="85.2" r="0.69" opacity="0.72"/>
<circle cx="135.1" cy="106.4" r="0.59" opacity="0.32"/>
<circle cx="114.1" cy="96.6" r="0.96" opacity="0.40"/>
<circle cx="94.8" cy="75.3" r="0.47" opacity="0.70"/>
<circle cx="131.2" cy="82.7" r="0.46" opacity="0.59"/>
<circle cx="97.1" cy="107.7" r="0.95" opacity="0.67"/>
<circle cx="98.9" cy="107.3" r="0.61" opacity="0.68"/>
<circle cx="97.7" cy="121.5" r="0.82" opacity="0.75"/>
<circle cx="102.5" cy="126.1" r="0.77" opacity="0.43"/>
<circle cx="118.9" cy="91.2" r="0.51" opacity="0.32"/>
<circle cx="116.9" cy="87.5" r="0.51" opacity="0.69"/>
<circle cx="91.4" cy="115.3" r="0.60" opacity="0.48"/>
<circle cx="134.5" cy="119.3" r="0.91" opacity="0.79"/>
<circle cx="116.6" cy="125.1" r="0.79" opacity="0.59"/>
<circle cx="101.3" cy="95.0" r="0.76" opacity="0.42"/>
<circle cx="118.7" cy="121.2" r="0.85" opacity="0.41"/>
<circle cx="85.1" cy="94.3" r="0.69" opacity="0.72"/>
<circle cx="113.5" cy="102.5" r="0.78" opacity="0.58"/>
<circle cx="120.6" cy="104.6" r="0.75" opacity="0.42"/>
</g>
<rect x="82.8" y="73.6" width="56.2" height="55.8" filter="url(#fPatch)" opacity="0.4"/>
<rect x="144" y="73.6" width="57" height="55.8" fill="#e3e9f1"/>
<rect x="144" y="73.6" width="57" height="55.8" filter="url(#fDark)" opacity="0.16"/>
<g fill="#92afd6">
<circle cx="151.6" cy="98.2" r="0.94" opacity="0.77"/>
<circle cx="161.0" cy="105.5" r="0.74" opacity="0.53"/>
<circle cx="154.7" cy="117.2" r="0.50" opacity="0.41"/>
<circle cx="160.2" cy="85.4" r="0.56" opacity="0.34"/>
<circle cx="173.8" cy="83.7" r="0.80" opacity="0.60"/>
<circle cx="179.4" cy="100.4" r="0.79" opacity="0.45"/>
<circle cx="170.5" cy="111.7" r="0.57" opacity="0.67"/>
<circle cx="177.2" cy="127.2" r="0.79" opacity="0.57"/>
<circle cx="187.4" cy="90.0" r="0.65" opacity="0.52"/>
<circle cx="185.5" cy="113.4" r="0.55" opacity="0.78"/>
<circle cx="199.2" cy="101.3" r="1.00" opacity="0.61"/>
<circle cx="166.1" cy="79.1" r="0.46" opacity="0.60"/>
<circle cx="184.6" cy="107.8" r="0.88" opacity="0.52"/>
<circle cx="185.9" cy="107.1" r="0.80" opacity="0.57"/>
<circle cx="181.8" cy="104.8" r="0.50" opacity="0.64"/>
<circle cx="183.8" cy="97.6" r="0.98" opacity="0.54"/>
<circle cx="154.0" cy="102.1" r="0.65" opacity="0.38"/>
<circle cx="194.0" cy="84.0" r="0.84" opacity="0.39"/>
<circle cx="173.4" cy="128.4" r="0.50" opacity="0.73"/>
<circle cx="145.1" cy="127.4" r="0.95" opacity="0.52"/>
<circle cx="180.1" cy="99.3" r="0.54" opacity="0.48"/>
<circle cx="169.2" cy="121.5" r="0.51" opacity="0.57"/>
<circle cx="170.9" cy="104.4" r="0.89" opacity="0.60"/>
<circle cx="162.7" cy="126.1" r="0.78" opacity="0.44"/>
<circle cx="175.1" cy="121.4" r="0.48" opacity="0.62"/>
<circle cx="171.8" cy="90.0" r="0.54" opacity="0.42"/>
<circle cx="169.0" cy="97.3" r="0.78" opacity="0.44"/>
<circle cx="179.1" cy="100.1" r="0.89" opacity="0.70"/>
<circle cx="157.9" cy="127.3" r="0.75" opacity="0.47"/>
<circle cx="158.9" cy="113.0" r="0.69" opacity="0.64"/>
<circle cx="159.0" cy="121.0" r="0.60" opacity="0.74"/>
<circle cx="169.1" cy="96.1" r="0.77" opacity="0.56"/>
<circle cx="175.2" cy="104.8" r="0.97" opacity="0.67"/>
<circle cx="149.9" cy="127.9" r="0.46" opacity="0.33"/>
<circle cx="190.1" cy="89.3" r="0.47" opacity="0.39"/>
<circle cx="172.2" cy="120.1" r="0.46" opacity="0.38"/>
<circle cx="145.5" cy="77.3" r="0.62" opacity="0.55"/>
<circle cx="198.5" cy="109.5" r="0.92" opacity="0.60"/>
<circle cx="195.2" cy="110.9" r="0.58" opacity="0.49"/>
<circle cx="171.4" cy="80.4" r="0.96" opacity="0.54"/>
<circle cx="155.9" cy="101.0" r="0.89" opacity="0.44"/>
<circle cx="177.4" cy="79.4" r="0.58" opacity="0.39"/>
<circle cx="172.8" cy="111.7" r="0.58" opacity="0.64"/>
<circle cx="177.3" cy="115.1" r="1.00" opacity="0.47"/>
<circle cx="200.0" cy="99.1" r="0.73" opacity="0.39"/>
<circle cx="149.5" cy="109.4" r="0.51" opacity="0.32"/>
<circle cx="149.5" cy="103.8" r="0.56" opacity="0.43"/>
<circle cx="187.3" cy="98.6" r="0.53" opacity="0.64"/>
<circle cx="199.9" cy="108.1" r="0.69" opacity="0.57"/>
<circle cx="183.7" cy="119.8" r="0.88" opacity="0.42"/>
<circle cx="188.0" cy="80.0" r="0.52" opacity="0.55"/>
<circle cx="155.0" cy="104.8" r="0.61" opacity="0.77"/>
<circle cx="168.8" cy="118.6" r="0.97" opacity="0.53"/>
<circle cx="187.4" cy="101.1" r="0.67" opacity="0.36"/>
<circle cx="181.3" cy="124.4" r="0.83" opacity="0.46"/>
<circle cx="173.9" cy="93.7" r="0.67" opacity="0.69"/>
<circle cx="145.2" cy="100.5" r="0.73" opacity="0.37"/>
<circle cx="185.4" cy="88.1" r="0.67" opacity="0.42"/>
<circle cx="177.9" cy="97.7" r="0.83" opacity="0.51"/>
<circle cx="188.2" cy="104.3" r="0.51" opacity="0.55"/>
<circle cx="158.8" cy="90.5" r="0.97" opacity="0.54"/>
<circle cx="185.7" cy="82.9" r="0.80" opacity="0.36"/>
<circle cx="157.1" cy="81.3" r="0.46" opacity="0.75"/>
<circle cx="198.2" cy="94.3" r="0.46" opacity="0.67"/>
<circle cx="181.5" cy="76.9" r="0.87" opacity="0.33"/>
<circle cx="157.7" cy="116.6" r="0.87" opacity="0.42"/>
<circle cx="173.0" cy="117.8" r="0.78" opacity="0.56"/>
<circle cx="155.0" cy="78.1" r="0.55" opacity="0.56"/>
<circle cx="177.8" cy="99.3" r="0.80" opacity="0.58"/>
<circle cx="180.6" cy="96.7" r="0.91" opacity="0.57"/>
<circle cx="193.6" cy="127.8" r="0.91" opacity="0.69"/>
<circle cx="183.0" cy="104.3" r="0.59" opacity="0.35"/>
<circle cx="181.4" cy="87.9" r="0.79" opacity="0.57"/>
<circle cx="178.4" cy="97.7" r="0.58" opacity="0.45"/>
<circle cx="183.4" cy="122.4" r="0.63" opacity="0.46"/>
<circle cx="169.6" cy="97.7" r="0.80" opacity="0.68"/>
<circle cx="187.3" cy="118.3" r="0.85" opacity="0.79"/>
<circle cx="169.7" cy="98.6" r="0.81" opacity="0.46"/>
<circle cx="190.7" cy="97.0" r="0.76" opacity="0.56"/>
<circle cx="165.0" cy="75.0" r="0.60" opacity="0.54"/>
<circle cx="197.5" cy="81.8" r="0.95" opacity="0.79"/>
<circle cx="188.6" cy="89.5" r="0.46" opacity="0.74"/>
<circle cx="148.6" cy="90.6" r="0.97" opacity="0.64"/>
<circle cx="190.4" cy="119.6" r="0.55" opacity="0.55"/>
<circle cx="150.0" cy="94.9" r="0.72" opacity="0.71"/>
<circle cx="160.8" cy="110.5" r="0.53" opacity="0.43"/>
<circle cx="148.0" cy="105.9" r="0.77" opacity="0.66"/>
<circle cx="168.1" cy="125.2" r="0.85" opacity="0.58"/>
<circle cx="193.2" cy="84.1" r="0.61" opacity="0.58"/>
<circle cx="178.0" cy="126.2" r="0.82" opacity="0.32"/>
<circle cx="197.1" cy="99.7" r="0.56" opacity="0.68"/>
<circle cx="179.6" cy="120.7" r="0.75" opacity="0.43"/>
<circle cx="170.9" cy="99.7" r="0.64" opacity="0.59"/>
<circle cx="153.1" cy="88.1" r="0.52" opacity="0.31"/>
<circle cx="173.9" cy="114.4" r="0.67" opacity="0.75"/>
<circle cx="178.5" cy="110.1" r="0.61" opacity="0.75"/>
<circle cx="164.1" cy="120.2" r="0.58" opacity="0.78"/>
<circle cx="182.6" cy="84.1" r="0.85" opacity="0.38"/>
<circle cx="166.2" cy="94.9" r="0.63" opacity="0.48"/>
<circle cx="153.7" cy="96.1" r="0.50" opacity="0.70"/>
<circle cx="164.4" cy="113.0" r="0.69" opacity="0.79"/>
<circle cx="193.5" cy="112.6" r="0.91" opacity="0.76"/>
<circle cx="196.3" cy="96.8" r="0.78" opacity="0.33"/>
<circle cx="165.0" cy="92.2" r="0.79" opacity="0.30"/>
<circle cx="186.6" cy="78.4" r="0.68" opacity="0.54"/>
<circle cx="191.4" cy="108.7" r="0.53" opacity="0.63"/>
<circle cx="157.8" cy="107.8" r="0.68" opacity="0.78"/>
<circle cx="169.7" cy="89.1" r="0.62" opacity="0.78"/>
<circle cx="164.1" cy="87.6" r="0.74" opacity="0.64"/>
<circle cx="196.9" cy="78.7" r="0.63" opacity="0.66"/>
<circle cx="172.2" cy="111.9" r="0.82" opacity="0.35"/>
<circle cx="147.6" cy="84.0" r="0.62" opacity="0.39"/>
<circle cx="160.7" cy="80.6" r="0.46" opacity="0.56"/>
<circle cx="186.8" cy="83.0" r="0.50" opacity="0.66"/>
<circle cx="149.2" cy="82.0" r="0.72" opacity="0.45"/>
<circle cx="188.3" cy="101.8" r="0.74" opacity="0.49"/>
<circle cx="146.3" cy="118.9" r="0.66" opacity="0.71"/>
<circle cx="150.7" cy="97.8" r="0.75" opacity="0.38"/>
<circle cx="148.9" cy="125.1" r="0.97" opacity="0.80"/>
<circle cx="175.0" cy="114.1" r="0.78" opacity="0.54"/>
<circle cx="154.3" cy="109.2" r="0.69" opacity="0.64"/>
<circle cx="147.1" cy="90.3" r="0.51" opacity="0.68"/>
<circle cx="171.3" cy="89.9" r="0.88" opacity="0.56"/>
<circle cx="160.9" cy="95.7" r="0.45" opacity="0.33"/>
<circle cx="146.8" cy="126.5" r="0.93" opacity="0.57"/>
<circle cx="196.9" cy="103.6" r="0.82" opacity="0.35"/>
<circle cx="169.0" cy="107.5" r="0.67" opacity="0.63"/>
<circle cx="163.8" cy="109.9" r="0.56" opacity="0.54"/>
<circle cx="168.5" cy="102.9" r="0.48" opacity="0.42"/>
<circle cx="184.4" cy="83.4" r="0.71" opacity="0.80"/>
<circle cx="178.6" cy="114.2" r="0.87" opacity="0.78"/>
<circle cx="166.3" cy="95.8" r="0.87" opacity="0.31"/>
<circle cx="170.8" cy="89.1" r="0.76" opacity="0.67"/>
<circle cx="192.5" cy="101.9" r="0.83" opacity="0.34"/>
<circle cx="181.3" cy="124.8" r="0.79" opacity="0.55"/>
<circle cx="173.1" cy="96.7" r="0.55" opacity="0.40"/>
<circle cx="188.8" cy="102.4" r="0.47" opacity="0.61"/>
<circle cx="190.8" cy="109.7" r="0.55" opacity="0.78"/>
<circle cx="154.9" cy="102.0" r="0.70" opacity="0.38"/>
<circle cx="159.6" cy="84.5" r="0.54" opacity="0.32"/>
<circle cx="180.6" cy="110.5" r="0.59" opacity="0.78"/>
<circle cx="168.3" cy="99.1" r="0.96" opacity="0.62"/>
<circle cx="170.6" cy="114.9" r="0.86" opacity="0.45"/>
<circle cx="148.7" cy="114.1" r="0.86" opacity="0.60"/>
<circle cx="151.3" cy="114.7" r="0.55" opacity="0.70"/>
<circle cx="179.3" cy="108.9" r="0.49" opacity="0.48"/>
<circle cx="185.4" cy="80.4" r="0.47" opacity="0.51"/>
<circle cx="192.0" cy="108.5" r="0.58" opacity="0.34"/>
<circle cx="191.2" cy="120.1" r="0.84" opacity="0.40"/>
<circle cx="186.4" cy="74.9" r="0.54" opacity="0.46"/>
<circle cx="197.8" cy="76.3" r="0.54" opacity="0.67"/>
<circle cx="187.0" cy="88.9" r="0.49" opacity="0.73"/>
<circle cx="198.6" cy="123.6" r="0.76" opacity="0.34"/>
<circle cx="185.8" cy="109.6" r="0.91" opacity="0.68"/>
<circle cx="172.7" cy="127.3" r="0.70" opacity="0.52"/>
<circle cx="180.1" cy="117.1" r="0.77" opacity="0.77"/>
<circle cx="159.8" cy="123.0" r="0.93" opacity="0.47"/>
<circle cx="146.4" cy="107.0" r="0.79" opacity="0.78"/>
<circle cx="175.7" cy="113.6" r="0.87" opacity="0.38"/>
<circle cx="181.7" cy="98.2" r="0.57" opacity="0.44"/>
<circle cx="164.9" cy="114.2" r="0.75" opacity="0.46"/>
<circle cx="147.9" cy="117.1" r="0.86" opacity="0.72"/>
<circle cx="188.4" cy="77.8" r="0.60" opacity="0.53"/>
<circle cx="161.3" cy="119.1" r="0.56" opacity="0.31"/>
<circle cx="169.8" cy="77.1" r="0.47" opacity="0.60"/>
<circle cx="178.3" cy="103.8" r="0.49" opacity="0.58"/>
<circle cx="173.8" cy="90.9" r="0.57" opacity="0.38"/>
<circle cx="171.6" cy="94.3" r="0.77" opacity="0.64"/>
<circle cx="160.1" cy="107.3" r="0.59" opacity="0.67"/>
<circle cx="156.1" cy="106.6" r="0.85" opacity="0.70"/>
<circle cx="174.2" cy="123.8" r="0.99" opacity="0.70"/>
<circle cx="164.7" cy="88.8" r="0.79" opacity="0.36"/>
<circle cx="154.6" cy="79.5" r="0.81" opacity="0.49"/>
<circle cx="195.9" cy="118.1" r="0.74" opacity="0.47"/>
<circle cx="162.6" cy="77.2" r="0.51" opacity="0.74"/>
<circle cx="161.3" cy="74.8" r="0.99" opacity="0.49"/>
<circle cx="187.7" cy="99.0" r="0.98" opacity="0.34"/>
<circle cx="171.0" cy="109.5" r="0.46" opacity="0.76"/>
<circle cx="163.5" cy="111.1" r="0.49" opacity="0.34"/>
<circle cx="149.6" cy="117.1" r="0.97" opacity="0.76"/>
<circle cx="174.2" cy="79.3" r="0.88" opacity="0.55"/>
<circle cx="188.1" cy="108.8" r="0.76" opacity="0.39"/>
<circle cx="152.7" cy="78.8" r="0.69" opacity="0.44"/>
<circle cx="197.7" cy="77.0" r="0.87" opacity="0.36"/>
<circle cx="150.5" cy="124.4" r="0.57" opacity="0.60"/>
<circle cx="177.2" cy="96.0" r="0.64" opacity="0.37"/>
<circle cx="183.3" cy="94.6" r="0.78" opacity="0.71"/>
<circle cx="149.0" cy="97.3" r="0.64" opacity="0.77"/>
<circle cx="179.2" cy="85.1" r="0.70" opacity="0.31"/>
<circle cx="173.3" cy="78.2" r="0.53" opacity="0.55"/>
<circle cx="174.6" cy="85.9" r="0.77" opacity="0.46"/>
<circle cx="183.7" cy="77.2" r="0.91" opacity="0.52"/>
<circle cx="154.4" cy="90.2" r="0.80" opacity="0.35"/>
<circle cx="195.3" cy="86.4" r="0.68" opacity="0.34"/>
<circle cx="170.1" cy="126.5" r="0.55" opacity="0.39"/>
<circle cx="175.1" cy="109.1" r="0.53" opacity="0.41"/>
<circle cx="178.3" cy="87.4" r="0.47" opacity="0.65"/>
<circle cx="192.9" cy="118.1" r="0.92" opacity="0.41"/>
<circle cx="162.0" cy="106.9" r="0.79" opacity="0.61"/>
<circle cx="175.4" cy="87.1" r="0.58" opacity="0.34"/>
<circle cx="148.0" cy="105.9" r="0.50" opacity="0.74"/>
<circle cx="197.9" cy="82.3" r="0.98" opacity="0.61"/>
<circle cx="145.1" cy="95.2" r="0.65" opacity="0.45"/>
<circle cx="148.5" cy="87.6" r="0.46" opacity="0.52"/>
<circle cx="171.5" cy="87.0" r="0.96" opacity="0.74"/>
<circle cx="172.5" cy="117.9" r="0.64" opacity="0.68"/>
<circle cx="187.9" cy="93.5" r="0.86" opacity="0.48"/>
<circle cx="154.4" cy="97.1" r="0.51" opacity="0.66"/>
<circle cx="158.7" cy="101.4" r="0.89" opacity="0.60"/>
<circle cx="195.1" cy="113.7" r="0.83" opacity="0.67"/>
<circle cx="183.1" cy="124.2" r="0.78" opacity="0.63"/>
<circle cx="175.3" cy="103.3" r="0.97" opacity="0.45"/>
<circle cx="155.3" cy="101.6" r="0.62" opacity="0.66"/>
<circle cx="180.0" cy="74.5" r="0.56" opacity="0.61"/>
<circle cx="166.8" cy="111.3" r="0.71" opacity="0.36"/>
<circle cx="183.0" cy="127.2" r="0.50" opacity="0.61"/>
<circle cx="178.8" cy="107.6" r="0.73" opacity="0.55"/>
<circle cx="199.6" cy="121.7" r="0.69" opacity="0.71"/>
<circle cx="181.8" cy="118.0" r="1.00" opacity="0.34"/>
<circle cx="156.6" cy="87.0" r="0.90" opacity="0.76"/>
<circle cx="157.3" cy="100.7" r="0.94" opacity="0.66"/>
<circle cx="177.3" cy="122.8" r="0.96" opacity="0.35"/>
<circle cx="198.3" cy="90.2" r="0.79" opacity="0.68"/>
<circle cx="161.1" cy="91.0" r="0.95" opacity="0.70"/>
<circle cx="198.9" cy="79.5" r="0.79" opacity="0.67"/>
<circle cx="197.8" cy="113.7" r="0.60" opacity="0.35"/>
<circle cx="154.4" cy="88.4" r="0.76" opacity="0.46"/>
<circle cx="153.0" cy="79.1" r="0.83" opacity="0.71"/>
<circle cx="151.6" cy="102.2" r="0.99" opacity="0.48"/>
<circle cx="174.4" cy="118.3" r="0.46" opacity="0.74"/>
<circle cx="187.7" cy="114.3" r="0.64" opacity="0.55"/>
<circle cx="196.9" cy="77.7" r="0.50" opacity="0.62"/>
<circle cx="197.6" cy="82.5" r="0.55" opacity="0.53"/>
<circle cx="188.5" cy="105.0" r="0.81" opacity="0.33"/>
<circle cx="155.8" cy="106.1" r="0.85" opacity="0.35"/>
<circle cx="149.8" cy="91.4" r="0.68" opacity="0.47"/>
<circle cx="154.2" cy="78.4" r="0.80" opacity="0.78"/>
<circle cx="179.9" cy="124.2" r="0.52" opacity="0.61"/>
<circle cx="165.0" cy="120.3" r="0.78" opacity="0.61"/>
<circle cx="195.5" cy="126.2" r="0.53" opacity="0.52"/>
<circle cx="149.5" cy="104.8" r="0.57" opacity="0.65"/>
<circle cx="164.5" cy="74.8" r="0.94" opacity="0.36"/>
<circle cx="159.7" cy="102.6" r="0.48" opacity="0.69"/>
<circle cx="184.5" cy="80.8" r="0.79" opacity="0.36"/>
<circle cx="174.2" cy="79.5" r="0.61" opacity="0.53"/>
<circle cx="175.0" cy="109.8" r="0.96" opacity="0.47"/>
<circle cx="164.2" cy="85.7" r="0.86" opacity="0.48"/>
<circle cx="156.5" cy="84.8" r="0.68" opacity="0.72"/>
<circle cx="169.1" cy="118.5" r="0.71" opacity="0.59"/>
<circle cx="159.0" cy="96.6" r="0.85" opacity="0.34"/>
<circle cx="170.0" cy="88.1" r="0.61" opacity="0.47"/>
<circle cx="155.8" cy="105.6" r="0.47" opacity="0.42"/>
<circle cx="159.4" cy="84.2" r="0.91" opacity="0.64"/>
<circle cx="194.0" cy="81.6" r="0.55" opacity="0.46"/>
<circle cx="173.0" cy="119.6" r="0.91" opacity="0.73"/>
<circle cx="145.8" cy="75.9" r="0.64" opacity="0.51"/>
<circle cx="145.1" cy="93.4" r="0.52" opacity="0.74"/>
<circle cx="156.5" cy="91.7" r="0.55" opacity="0.72"/>
<circle cx="151.0" cy="98.2" r="0.57" opacity="0.42"/>
<circle cx="199.9" cy="113.1" r="0.86" opacity="0.48"/>
<circle cx="199.0" cy="126.7" r="0.80" opacity="0.41"/>
<circle cx="147.5" cy="103.9" r="0.72" opacity="0.73"/>
<circle cx="200.1" cy="118.7" r="0.58" opacity="0.79"/>
<circle cx="178.7" cy="76.5" r="0.56" opacity="0.78"/>
<circle cx="188.9" cy="114.5" r="0.81" opacity="0.31"/>
<circle cx="196.7" cy="90.5" r="0.87" opacity="0.57"/>
<circle cx="171.8" cy="102.9" r="0.96" opacity="0.72"/>
<circle cx="166.7" cy="120.6" r="0.55" opacity="0.47"/>
<circle cx="162.6" cy="77.0" r="0.67" opacity="0.30"/>
<circle cx="198.5" cy="118.7" r="0.71" opacity="0.33"/>
<circle cx="159.4" cy="116.3" r="0.61" opacity="0.35"/>
<circle cx="168.5" cy="105.7" r="0.52" opacity="0.49"/>
<circle cx="175.6" cy="114.8" r="0.67" opacity="0.80"/>
<circle cx="159.0" cy="115.1" r="0.49" opacity="0.76"/>
<circle cx="175.0" cy="83.8" r="0.90" opacity="0.74"/>
<circle cx="152.0" cy="122.2" r="0.98" opacity="0.48"/>
<circle cx="188.6" cy="113.4" r="0.76" opacity="0.49"/>
<circle cx="162.1" cy="118.6" r="0.88" opacity="0.77"/>
<circle cx="148.6" cy="105.3" r="0.84" opacity="0.41"/>
<circle cx="146.0" cy="122.8" r="0.88" opacity="0.66"/>
<circle cx="163.2" cy="98.2" r="0.90" opacity="0.35"/>
<circle cx="184.8" cy="112.7" r="0.70" opacity="0.78"/>
<circle cx="179.8" cy="122.3" r="0.56" opacity="0.50"/>
<circle cx="161.0" cy="101.4" r="0.86" opacity="0.80"/>
<circle cx="195.2" cy="120.6" r="0.99" opacity="0.67"/>
<circle cx="185.6" cy="79.3" r="0.67" opacity="0.54"/>
<circle cx="150.6" cy="123.3" r="0.66" opacity="0.42"/>
<circle cx="149.3" cy="103.5" r="0.64" opacity="0.77"/>
<circle cx="179.9" cy="97.7" r="0.54" opacity="0.32"/>
<circle cx="182.9" cy="107.6" r="0.72" opacity="0.55"/>
<circle cx="167.5" cy="123.5" r="0.48" opacity="0.42"/>
<circle cx="188.8" cy="91.5" r="0.63" opacity="0.52"/>
<circle cx="161.2" cy="115.6" r="0.50" opacity="0.58"/>
<circle cx="184.4" cy="93.0" r="0.85" opacity="0.48"/>
<circle cx="179.3" cy="79.9" r="0.62" opacity="0.58"/>
<circle cx="178.7" cy="99.5" r="0.47" opacity="0.57"/>
<circle cx="192.7" cy="89.1" r="0.56" opacity="0.61"/>
<circle cx="157.7" cy="79.9" r="0.49" opacity="0.61"/>
<circle cx="193.7" cy="116.2" r="0.77" opacity="0.74"/>
<circle cx="191.8" cy="89.0" r="0.66" opacity="0.79"/>
<circle cx="197.0" cy="109.1" r="0.80" opacity="0.47"/>
<circle cx="149.8" cy="92.3" r="0.58" opacity="0.62"/>
<circle cx="181.1" cy="108.5" r="0.95" opacity="0.30"/>
<circle cx="156.2" cy="79.8" r="0.65" opacity="0.76"/>
<circle cx="170.7" cy="117.7" r="0.55" opacity="0.48"/>
<circle cx="189.1" cy="90.3" r="0.85" opacity="0.60"/>
<circle cx="181.1" cy="76.0" r="0.65" opacity="0.79"/>
<circle cx="165.6" cy="89.5" r="1.00" opacity="0.59"/>
<circle cx="183.4" cy="100.6" r="0.79" opacity="0.49"/>
<circle cx="160.0" cy="90.2" r="0.58" opacity="0.65"/>
<circle cx="149.7" cy="80.7" r="0.73" opacity="0.79"/>
<circle cx="188.1" cy="110.7" r="0.86" opacity="0.40"/>
<circle cx="173.1" cy="75.3" r="0.74" opacity="0.32"/>
<circle cx="151.2" cy="80.9" r="0.64" opacity="0.54"/>
<circle cx="156.9" cy="78.6" r="0.52" opacity="0.77"/>
<circle cx="199.4" cy="123.9" r="0.53" opacity="0.40"/>
<circle cx="193.5" cy="75.2" r="0.53" opacity="0.62"/>
<circle cx="198.2" cy="124.6" r="0.91" opacity="0.46"/>
<circle cx="185.4" cy="125.2" r="0.94" opacity="0.79"/>
<circle cx="187.0" cy="117.0" r="0.84" opacity="0.51"/>
<circle cx="176.5" cy="124.8" r="0.76" opacity="0.31"/>
<circle cx="169.6" cy="121.6" r="0.84" opacity="0.54"/>
<circle cx="196.6" cy="115.4" r="0.57" opacity="0.65"/>
<circle cx="193.0" cy="74.8" r="0.97" opacity="0.52"/>
<circle cx="191.8" cy="75.1" r="0.63" opacity="0.45"/>
<circle cx="156.9" cy="110.0" r="0.89" opacity="0.62"/>
<circle cx="195.2" cy="80.6" r="0.61" opacity="0.50"/>
<circle cx="188.7" cy="114.4" r="0.99" opacity="0.74"/>
<circle cx="174.2" cy="114.5" r="0.90" opacity="0.56"/>
<circle cx="182.4" cy="120.7" r="0.91" opacity="0.38"/>
<circle cx="146.5" cy="112.7" r="0.90" opacity="0.39"/>
<circle cx="191.9" cy="115.4" r="0.54" opacity="0.38"/>
<circle cx="181.2" cy="108.2" r="0.54" opacity="0.75"/>
<circle cx="156.7" cy="119.6" r="0.97" opacity="0.36"/>
<circle cx="183.6" cy="104.2" r="0.95" opacity="0.52"/>
<circle cx="167.6" cy="87.0" r="0.92" opacity="0.46"/>
<circle cx="195.3" cy="76.3" r="0.94" opacity="0.31"/>
<circle cx="184.9" cy="125.9" r="0.63" opacity="0.60"/>
<circle cx="167.7" cy="77.9" r="0.91" opacity="0.55"/>
<circle cx="189.2" cy="76.3" r="0.54" opacity="0.41"/>
</g>
<rect x="144" y="73.6" width="57" height="55.8" filter="url(#fPatch)" opacity="0.45"/>
<text x="26.50" y="128.40" font-size="2.4" text-anchor="start" font-weight="normal" fill="#333" stroke="#333" stroke-width="0.1" >50 μm</text>
<text x="86.50" y="128.40" font-size="2.4" text-anchor="start" font-weight="normal" fill="#333" stroke="#333" stroke-width="0.1" >50 μm</text>
<text x="147.50" y="128.40" font-size="2.4" text-anchor="start" font-weight="normal" fill="#333" stroke="#333" stroke-width="0.1" >50 μm</text>
<circle cx="189.3" cy="77.2" r="0.6" fill="#5a3c66" opacity="0.75"/>
<circle cx="147.2" cy="95.3" r="0.6" fill="#5a3c66" opacity="0.75"/>
<circle cx="166.5" cy="119.2" r="0.6" fill="#5a3c66" opacity="0.75"/>
<circle cx="191.5" cy="88.2" r="0.6" fill="#5a3c66" opacity="0.75"/>
<circle cx="185.3" cy="94.2" r="0.6" fill="#5a3c66" opacity="0.75"/>
<circle cx="186.6" cy="109.6" r="0.6" fill="#5a3c66" opacity="0.75"/>
<circle cx="149.7" cy="100.0" r="0.6" fill="#5a3c66" opacity="0.75"/>
<circle cx="168.4" cy="99.4" r="0.6" fill="#5a3c66" opacity="0.75"/>
<circle cx="175.4" cy="111.2" r="0.6" fill="#5a3c66" opacity="0.75"/>
<circle cx="167.3" cy="102.5" r="0.6" fill="#5a3c66" opacity="0.75"/>
<circle cx="189.8" cy="110.7" r="0.6" fill="#5a3c66" opacity="0.75"/>
<circle cx="156.2" cy="83.0" r="0.6" fill="#5a3c66" opacity="0.75"/>
<circle cx="160.4" cy="124.5" r="0.6" fill="#5a3c66" opacity="0.75"/>
<circle cx="166.5" cy="120.8" r="0.6" fill="#5a3c66" opacity="0.75"/>
<circle cx="114" cy="106" r="0.8" fill="#5a4060"/>
<path d="M106 78 Q111 86 107 95 Q105 102 109 108 L115 107 Q113 98 116 92 Q117 84 112 78 Z" fill="#e4eaf2" opacity="0.55" filter="url(#fBlur)"/>
<text x="224.80" y="9.70" font-size="11" text-anchor="middle" font-weight="bold" fill="#000" stroke="#000" stroke-width="0.22" >B</text>
<text x="232.40" y="67.60" font-size="8" text-anchor="middle" font-weight="normal" fill="#1a1a1a" stroke="#1a1a1a" stroke-width="0.22" transform="rotate(-90 232.4 67.6)">Positive cells/mm<tspan font-size="4.8" dy="-2.8">2</tspan></text>
<line x1="254.00" y1="24.00" x2="254.00" y2="112.70" stroke="#141414" stroke-width="1.4"/>
<line x1="253.30" y1="112.00" x2="327.50" y2="112.00" stroke="#141414" stroke-width="1.4"/>
<line x1="251.60" y1="112.00" x2="254.00" y2="112.00" stroke="#141414" stroke-width="1.1"/>
<text x="250.00" y="113.20" font-size="7.2" text-anchor="end" font-weight="normal" fill="#1a1a1a" stroke="#1a1a1a" stroke-width="0.22" >0</text>
<line x1="251.60" y1="90.10" x2="254.00" y2="90.10" stroke="#141414" stroke-width="1.1"/>
<text x="250.00" y="91.30" font-size="7.2" text-anchor="end" font-weight="normal" fill="#1a1a1a" stroke="#1a1a1a" stroke-width="0.22" >200</text>
<line x1="251.60" y1="68.20" x2="254.00" y2="68.20" stroke="#141414" stroke-width="1.1"/>
<text x="250.00" y="69.40" font-size="7.2" text-anchor="end" font-weight="normal" fill="#1a1a1a" stroke="#1a1a1a" stroke-width="0.22" >400</text>
<line x1="251.60" y1="46.30" x2="254.00" y2="46.30" stroke="#141414" stroke-width="1.1"/>
<text x="250.00" y="47.50" font-size="7.2" text-anchor="end" font-weight="normal" fill="#1a1a1a" stroke="#1a1a1a" stroke-width="0.22" >600</text>
<line x1="251.60" y1="24.40" x2="254.00" y2="24.40" stroke="#141414" stroke-width="1.1"/>
<text x="250.00" y="25.60" font-size="7.2" text-anchor="end" font-weight="normal" fill="#1a1a1a" stroke="#1a1a1a" stroke-width="0.22" >800</text>
<line x1="266.50" y1="112.00" x2="266.50" y2="114.20" stroke="#141414" stroke-width="1"/>
<line x1="289.50" y1="112.00" x2="289.50" y2="114.20" stroke="#141414" stroke-width="1"/>
<line x1="314.50" y1="112.00" x2="314.50" y2="114.20" stroke="#141414" stroke-width="1"/>
<text x="270.50" y="120.00" font-size="7.8" text-anchor="end" font-weight="normal" fill="#1a1a1a" stroke="#1a1a1a" stroke-width="0.22" transform="rotate(-45 270.5 120.0)">0 hours</text>
<text x="293.50" y="120.00" font-size="7.8" text-anchor="end" font-weight="normal" fill="#1a1a1a" stroke="#1a1a1a" stroke-width="0.22" transform="rotate(-45 293.5 120.0)">6 hours</text>
<text x="318.50" y="120.00" font-size="7.8" text-anchor="end" font-weight="normal" fill="#1a1a1a" stroke="#1a1a1a" stroke-width="0.22" transform="rotate(-45 318.5 120.0)">4 days</text>
<text x="290.60" y="20.80" font-size="8.2" text-anchor="middle" font-weight="normal" fill="#1a1a1a" stroke="#1a1a1a" stroke-width="0.22" >CD3</text>
<line x1="269.80" y1="31.50" x2="311.50" y2="31.50" stroke="#141414" stroke-width="1.2"/>
<line x1="269.80" y1="28.90" x2="269.80" y2="34.10" stroke="#141414" stroke-width="1.1"/>
<line x1="311.50" y1="28.90" x2="311.50" y2="34.10" stroke="#141414" stroke-width="1.1"/>
<text x="290.65" y="29.00" font-size="7" text-anchor="middle" font-weight="normal" fill="#1a1a1a" stroke="#1a1a1a" stroke-width="0.22" >***</text>
<circle cx="264.0" cy="98.1" r="2.0" fill="#141414"/>
<circle cx="268.5" cy="96.0" r="2.0" fill="#141414"/>
<circle cx="270.8" cy="100.2" r="2.0" fill="#141414"/>
<circle cx="261.6" cy="101.7" r="2.0" fill="#141414"/>
<circle cx="266.6" cy="103.3" r="2.0" fill="#141414"/>
<circle cx="268.5" cy="109.9" r="2.0" fill="#141414"/>
<circle cx="264.3" cy="112.0" r="2.0" fill="#141414"/>
<line x1="258.50" y1="103.30" x2="274.10" y2="103.30" stroke="#141414" stroke-width="1.3"/>
<line x1="266.30" y1="100.20" x2="266.30" y2="106.40" stroke="#141414" stroke-width="1.3"/>
<line x1="262.70" y1="100.20" x2="269.90" y2="100.20" stroke="#141414" stroke-width="1.3"/>
<line x1="262.70" y1="106.40" x2="269.90" y2="106.40" stroke="#141414" stroke-width="1.3"/>
<polygon points="281.8,110.9 286.2,110.9 284.0,106.8" fill="#e4636b"/>
<polygon points="284.8,112.4 289.2,112.4 287.0,108.3" fill="#e4636b"/>
<polygon points="287.8,109.9 292.2,109.9 290.0,105.8" fill="#e4636b"/>
<polygon points="290.8,111.4 295.2,111.4 293.0,107.3" fill="#e4636b"/>
<polygon points="294.8,109.4 299.2,109.4 297.0,105.3" fill="#e4636b"/>
<polygon points="288.0,104.7 292.4,104.7 290.2,100.6" fill="#e4636b"/>
<polygon points="287.8,112.9 292.2,112.9 290.0,108.8" fill="#e4636b"/>
<line x1="282.20" y1="107.50" x2="297.80" y2="107.50" stroke="#e4636b" stroke-width="1.3"/>
<line x1="290.00" y1="106.00" x2="290.00" y2="109.00" stroke="#e4636b" stroke-width="1.3"/>
<line x1="286.40" y1="106.00" x2="293.60" y2="106.00" stroke="#e4636b" stroke-width="1.3"/>
<line x1="286.40" y1="109.00" x2="293.60" y2="109.00" stroke="#e4636b" stroke-width="1.3"/>
<polygon points="312.2,45.8 316.6,45.8 314.4,49.9" fill="#9c1638"/>
<polygon points="309.8,75.6 314.2,75.6 312.0,79.7" fill="#9c1638"/>
<polygon points="314.8,75.6 319.2,75.6 317.0,79.7" fill="#9c1638"/>
<line x1="306.70" y1="67.90" x2="322.30" y2="67.90" stroke="#9c1638" stroke-width="1.3"/>
<line x1="314.50" y1="57.90" x2="314.50" y2="77.90" stroke="#9c1638" stroke-width="1.3"/>
<line x1="310.90" y1="57.90" x2="318.10" y2="57.90" stroke="#9c1638" stroke-width="1.3"/>
<line x1="310.90" y1="77.90" x2="318.10" y2="77.90" stroke="#9c1638" stroke-width="1.3"/>
<line x1="348.70" y1="23.50" x2="348.70" y2="112.70" stroke="#141414" stroke-width="1.4"/>
<line x1="348.00" y1="112.00" x2="421.20" y2="112.00" stroke="#141414" stroke-width="1.4"/>
<line x1="346.30" y1="112.00" x2="348.70" y2="112.00" stroke="#141414" stroke-width="1.1"/>
<text x="344.70" y="112.80" font-size="7.2" text-anchor="end" font-weight="normal" fill="#1a1a1a" stroke="#1a1a1a" stroke-width="0.22" >0</text>
<line x1="346.30" y1="90.00" x2="348.70" y2="90.00" stroke="#141414" stroke-width="1.1"/>
<text x="344.70" y="90.80" font-size="7.2" text-anchor="end" font-weight="normal" fill="#1a1a1a" stroke="#1a1a1a" stroke-width="0.22" >100</text>
<line x1="346.30" y1="68.00" x2="348.70" y2="68.00" stroke="#141414" stroke-width="1.1"/>
<text x="344.70" y="68.80" font-size="7.2" text-anchor="end" font-weight="normal" fill="#1a1a1a" stroke="#1a1a1a" stroke-width="0.22" >200</text>
<line x1="346.30" y1="46.00" x2="348.70" y2="46.00" stroke="#141414" stroke-width="1.1"/>
<text x="344.70" y="46.80" font-size="7.2" text-anchor="end" font-weight="normal" fill="#1a1a1a" stroke="#1a1a1a" stroke-width="0.22" >300</text>
<line x1="346.30" y1="24.00" x2="348.70" y2="24.00" stroke="#141414" stroke-width="1.1"/>
<text x="344.70" y="24.80" font-size="7.2" text-anchor="end" font-weight="normal" fill="#1a1a1a" stroke="#1a1a1a" stroke-width="0.22" >400</text>
<line x1="361.00" y1="112.00" x2="361.00" y2="114.20" stroke="#141414" stroke-width="1"/>
<line x1="385.00" y1="112.00" x2="385.00" y2="114.20" stroke="#141414" stroke-width="1"/>
<line x1="409.00" y1="112.00" x2="409.00" y2="114.20" stroke="#141414" stroke-width="1"/>
<text x="365.00" y="120.00" font-size="7.8" text-anchor="end" font-weight="normal" fill="#1a1a1a" stroke="#1a1a1a" stroke-width="0.22" transform="rotate(-45 365.0 120.0)">0 hours</text>
<text x="389.00" y="120.00" font-size="7.8" text-anchor="end" font-weight="normal" fill="#1a1a1a" stroke="#1a1a1a" stroke-width="0.22" transform="rotate(-45 389.0 120.0)">6 hours</text>
<text x="413.00" y="120.00" font-size="7.8" text-anchor="end" font-weight="normal" fill="#1a1a1a" stroke="#1a1a1a" stroke-width="0.22" transform="rotate(-45 413.0 120.0)">4 days</text>
<text x="385.80" y="20.80" font-size="8.2" text-anchor="middle" font-weight="normal" fill="#1a1a1a" stroke="#1a1a1a" stroke-width="0.22" >CD4</text>
<line x1="365.60" y1="29.80" x2="406.80" y2="29.80" stroke="#141414" stroke-width="1.2"/>
<line x1="365.60" y1="27.20" x2="365.60" y2="32.40" stroke="#141414" stroke-width="1.1"/>
<line x1="406.80" y1="27.20" x2="406.80" y2="32.40" stroke="#141414" stroke-width="1.1"/>
<text x="386.20" y="27.30" font-size="7" text-anchor="middle" font-weight="normal" fill="#1a1a1a" stroke="#1a1a1a" stroke-width="0.22" >***</text>
<circle cx="358.5" cy="93.2" r="2.0" fill="#141414"/>
<circle cx="363.2" cy="92.3" r="2.0" fill="#141414"/>
<circle cx="365.8" cy="94.4" r="2.0" fill="#141414"/>
<circle cx="355.8" cy="97.0" r="2.0" fill="#141414"/>
<circle cx="361.0" cy="97.6" r="2.0" fill="#141414"/>
<circle cx="363.2" cy="108.5" r="2.0" fill="#141414"/>
<circle cx="358.5" cy="111.7" r="2.0" fill="#141414"/>
<line x1="353.20" y1="99.60" x2="368.80" y2="99.60" stroke="#141414" stroke-width="1.3"/>
<line x1="361.00" y1="97.20" x2="361.00" y2="102.20" stroke="#141414" stroke-width="1.3"/>
<line x1="357.40" y1="97.20" x2="364.60" y2="97.20" stroke="#141414" stroke-width="1.3"/>
<line x1="357.40" y1="102.20" x2="364.60" y2="102.20" stroke="#141414" stroke-width="1.3"/>
<polygon points="382.4,100.0 386.8,100.0 384.6,95.9" fill="#e4636b"/>
<polygon points="377.3,107.9 381.7,107.9 379.5,103.8" fill="#e4636b"/>
<polygon points="380.3,107.4 384.7,107.4 382.5,103.3" fill="#e4636b"/>
<polygon points="383.3,108.4 387.7,108.4 385.5,104.3" fill="#e4636b"/>
<polygon points="386.3,107.4 390.7,107.4 388.5,103.3" fill="#e4636b"/>
<polygon points="388.8,108.2 393.2,108.2 391.0,104.1" fill="#e4636b"/>
<polygon points="382.8,106.1 387.2,106.1 385.0,102.0" fill="#e4636b"/>
<line x1="377.20" y1="104.90" x2="392.80" y2="104.90" stroke="#e4636b" stroke-width="1.3"/>
<line x1="385.00" y1="103.50" x2="385.00" y2="106.30" stroke="#e4636b" stroke-width="1.3"/>
<line x1="381.40" y1="103.50" x2="388.60" y2="103.50" stroke="#e4636b" stroke-width="1.3"/>
<line x1="381.40" y1="106.30" x2="388.60" y2="106.30" stroke="#e4636b" stroke-width="1.3"/>
<polygon points="406.8,51.0 411.2,51.0 409.0,55.1" fill="#9c1638"/>
<polygon points="406.8,78.8 411.2,78.8 409.0,82.9" fill="#9c1638"/>
<polygon points="406.8,87.2 411.2,87.2 409.0,91.3" fill="#9c1638"/>
<line x1="401.20" y1="74.60" x2="416.80" y2="74.60" stroke="#9c1638" stroke-width="1.3"/>
<line x1="409.00" y1="63.80" x2="409.00" y2="85.50" stroke="#9c1638" stroke-width="1.3"/>
<line x1="405.40" y1="63.80" x2="412.60" y2="63.80" stroke="#9c1638" stroke-width="1.3"/>
<line x1="405.40" y1="85.50" x2="412.60" y2="85.50" stroke="#9c1638" stroke-width="1.3"/>
<line x1="445.50" y1="23.50" x2="445.50" y2="112.70" stroke="#141414" stroke-width="1.4"/>
<line x1="444.80" y1="112.00" x2="520.00" y2="112.00" stroke="#141414" stroke-width="1.4"/>
<line x1="443.10" y1="112.00" x2="445.50" y2="112.00" stroke="#141414" stroke-width="1.1"/>
<text x="441.40" y="112.80" font-size="7.2" text-anchor="end" font-weight="normal" fill="#1a1a1a" stroke="#1a1a1a" stroke-width="0.22" >0</text>
<line x1="443.10" y1="97.33" x2="445.50" y2="97.33" stroke="#141414" stroke-width="1.1"/>
<text x="441.40" y="98.13" font-size="7.2" text-anchor="end" font-weight="normal" fill="#1a1a1a" stroke="#1a1a1a" stroke-width="0.22" >20</text>
<line x1="443.10" y1="82.67" x2="445.50" y2="82.67" stroke="#141414" stroke-width="1.1"/>
<text x="441.40" y="83.47" font-size="7.2" text-anchor="end" font-weight="normal" fill="#1a1a1a" stroke="#1a1a1a" stroke-width="0.22" >40</text>
<line x1="443.10" y1="68.00" x2="445.50" y2="68.00" stroke="#141414" stroke-width="1.1"/>
<text x="441.40" y="68.80" font-size="7.2" text-anchor="end" font-weight="normal" fill="#1a1a1a" stroke="#1a1a1a" stroke-width="0.22" >60</text>
<line x1="443.10" y1="53.33" x2="445.50" y2="53.33" stroke="#141414" stroke-width="1.1"/>
<text x="441.40" y="54.13" font-size="7.2" text-anchor="end" font-weight="normal" fill="#1a1a1a" stroke="#1a1a1a" stroke-width="0.22" >80</text>
<line x1="443.10" y1="38.67" x2="445.50" y2="38.67" stroke="#141414" stroke-width="1.1"/>
<text x="441.40" y="39.47" font-size="7.2" text-anchor="end" font-weight="normal" fill="#1a1a1a" stroke="#1a1a1a" stroke-width="0.22" >100</text>
<line x1="443.10" y1="24.00" x2="445.50" y2="24.00" stroke="#141414" stroke-width="1.1"/>
<text x="441.40" y="24.80" font-size="7.2" text-anchor="end" font-weight="normal" fill="#1a1a1a" stroke="#1a1a1a" stroke-width="0.22" >120</text>
<line x1="458.00" y1="112.00" x2="458.00" y2="114.20" stroke="#141414" stroke-width="1"/>
<line x1="482.30" y1="112.00" x2="482.30" y2="114.20" stroke="#141414" stroke-width="1"/>
<line x1="506.30" y1="112.00" x2="506.30" y2="114.20" stroke="#141414" stroke-width="1"/>
<text x="462.00" y="120.00" font-size="7.8" text-anchor="end" font-weight="normal" fill="#1a1a1a" stroke="#1a1a1a" stroke-width="0.22" transform="rotate(-45 462.0 120.0)">0 hours</text>
<text x="486.30" y="120.00" font-size="7.8" text-anchor="end" font-weight="normal" fill="#1a1a1a" stroke="#1a1a1a" stroke-width="0.22" transform="rotate(-45 486.3 120.0)">6 hours</text>
<text x="510.30" y="120.00" font-size="7.8" text-anchor="end" font-weight="normal" fill="#1a1a1a" stroke="#1a1a1a" stroke-width="0.22" transform="rotate(-45 510.3 120.0)">4 days</text>
<text x="481.00" y="20.80" font-size="8.2" text-anchor="middle" font-weight="normal" fill="#1a1a1a" stroke="#1a1a1a" stroke-width="0.22" >CD8</text>
<circle cx="458.1" cy="45.9" r="2.0" fill="#141414"/>
<circle cx="458.1" cy="71.4" r="2.0" fill="#141414"/>
<circle cx="458.0" cy="78.2" r="2.0" fill="#141414"/>
<circle cx="462.6" cy="100.2" r="2.0" fill="#141414"/>
<circle cx="453.6" cy="104.6" r="2.0" fill="#141414"/>
<circle cx="458.0" cy="104.6" r="2.0" fill="#141414"/>
<circle cx="458.0" cy="110.8" r="2.0" fill="#141414"/>
<line x1="450.60" y1="88.00" x2="466.20" y2="88.00" stroke="#141414" stroke-width="1.3"/>
<line x1="458.40" y1="78.80" x2="458.40" y2="96.90" stroke="#141414" stroke-width="1.3"/>
<line x1="454.80" y1="78.80" x2="462.00" y2="78.80" stroke="#141414" stroke-width="1.3"/>
<line x1="454.80" y1="96.90" x2="462.00" y2="96.90" stroke="#141414" stroke-width="1.3"/>
<polygon points="480.1,55.0 484.5,55.0 482.3,50.9" fill="#e4636b"/>
<polygon points="480.1,89.9 484.5,89.9 482.3,85.8" fill="#e4636b"/>
<polygon points="475.8,103.1 480.2,103.1 478.0,99.0" fill="#e4636b"/>
<polygon points="484.2,103.1 488.6,103.1 486.4,99.0" fill="#e4636b"/>
<polygon points="480.3,107.1 484.7,107.1 482.5,103.0" fill="#e4636b"/>
<line x1="474.50" y1="89.30" x2="490.10" y2="89.30" stroke="#e4636b" stroke-width="1.3"/>
<line x1="482.30" y1="80.20" x2="482.30" y2="98.20" stroke="#e4636b" stroke-width="1.3"/>
<line x1="478.70" y1="80.20" x2="485.90" y2="80.20" stroke="#e4636b" stroke-width="1.3"/>
<line x1="478.70" y1="98.20" x2="485.90" y2="98.20" stroke="#e4636b" stroke-width="1.3"/>
<polygon points="504.3,42.4 508.1,42.4 506.2,45.9" fill="#9c1638"/>
<polygon points="504.3,78.8 508.1,78.8 506.2,82.3" fill="#9c1638"/>
<line x1="498.40" y1="62.40" x2="514.00" y2="62.40" stroke="#9c1638" stroke-width="1.3"/>
<line x1="506.20" y1="43.40" x2="506.20" y2="80.00" stroke="#9c1638" stroke-width="1.3"/>
<line x1="502.60" y1="43.40" x2="509.80" y2="43.40" stroke="#9c1638" stroke-width="1.3"/>
<line x1="502.60" y1="80.00" x2="509.80" y2="80.00" stroke="#9c1638" stroke-width="1.3"/>
<text x="50.20" y="157.10" font-size="11" text-anchor="middle" font-weight="bold" fill="#000" stroke="#000" stroke-width="0.22" >C</text>
<rect x="65.5" y="166.6" width="42.400000000000006" height="42.5" fill="#fff" stroke="#2a2a2a" stroke-width="0.9"/>
<line x1="65.20" y1="206.54" x2="66.40" y2="206.54" stroke="#222" stroke-width="0.8"/>
<line x1="68.05" y1="209.40" x2="68.05" y2="208.20" stroke="#222" stroke-width="0.8"/>
<line x1="65.20" y1="205.04" x2="66.40" y2="205.04" stroke="#222" stroke-width="0.8"/>
<line x1="69.55" y1="209.40" x2="69.55" y2="208.20" stroke="#222" stroke-width="0.8"/>
<line x1="65.20" y1="203.98" x2="66.40" y2="203.98" stroke="#222" stroke-width="0.8"/>
<line x1="70.61" y1="209.40" x2="70.61" y2="208.20" stroke="#222" stroke-width="0.8"/>
<line x1="65.20" y1="203.16" x2="66.40" y2="203.16" stroke="#222" stroke-width="0.8"/>
<line x1="71.43" y1="209.40" x2="71.43" y2="208.20" stroke="#222" stroke-width="0.8"/>
<line x1="65.20" y1="202.49" x2="66.40" y2="202.49" stroke="#222" stroke-width="0.8"/>
<line x1="72.10" y1="209.40" x2="72.10" y2="208.20" stroke="#222" stroke-width="0.8"/>
<line x1="65.20" y1="201.92" x2="66.40" y2="201.92" stroke="#222" stroke-width="0.8"/>
<line x1="72.67" y1="209.40" x2="72.67" y2="208.20" stroke="#222" stroke-width="0.8"/>
<line x1="65.20" y1="201.42" x2="66.40" y2="201.42" stroke="#222" stroke-width="0.8"/>
<line x1="73.16" y1="209.40" x2="73.16" y2="208.20" stroke="#222" stroke-width="0.8"/>
<line x1="65.20" y1="200.99" x2="66.40" y2="200.99" stroke="#222" stroke-width="0.8"/>
<line x1="73.59" y1="209.40" x2="73.59" y2="208.20" stroke="#222" stroke-width="0.8"/>
<line x1="65.20" y1="200.60" x2="67.10" y2="200.60" stroke="#222" stroke-width="0.8"/>
<line x1="73.98" y1="209.40" x2="73.98" y2="207.50" stroke="#222" stroke-width="0.8"/>
<line x1="65.20" y1="198.04" x2="66.40" y2="198.04" stroke="#222" stroke-width="0.8"/>
<line x1="76.53" y1="209.40" x2="76.53" y2="208.20" stroke="#222" stroke-width="0.8"/>
<line x1="65.20" y1="196.54" x2="66.40" y2="196.54" stroke="#222" stroke-width="0.8"/>
<line x1="78.03" y1="209.40" x2="78.03" y2="208.20" stroke="#222" stroke-width="0.8"/>
<line x1="65.20" y1="195.48" x2="66.40" y2="195.48" stroke="#222" stroke-width="0.8"/>
<line x1="79.09" y1="209.40" x2="79.09" y2="208.20" stroke="#222" stroke-width="0.8"/>
<line x1="65.20" y1="194.66" x2="66.40" y2="194.66" stroke="#222" stroke-width="0.8"/>
<line x1="79.91" y1="209.40" x2="79.91" y2="208.20" stroke="#222" stroke-width="0.8"/>
<line x1="65.20" y1="193.99" x2="66.40" y2="193.99" stroke="#222" stroke-width="0.8"/>
<line x1="80.58" y1="209.40" x2="80.58" y2="208.20" stroke="#222" stroke-width="0.8"/>
<line x1="65.20" y1="193.42" x2="66.40" y2="193.42" stroke="#222" stroke-width="0.8"/>
<line x1="81.15" y1="209.40" x2="81.15" y2="208.20" stroke="#222" stroke-width="0.8"/>
<line x1="65.20" y1="192.92" x2="66.40" y2="192.92" stroke="#222" stroke-width="0.8"/>
<line x1="81.64" y1="209.40" x2="81.64" y2="208.20" stroke="#222" stroke-width="0.8"/>
<line x1="65.20" y1="192.49" x2="66.40" y2="192.49" stroke="#222" stroke-width="0.8"/>
<line x1="82.07" y1="209.40" x2="82.07" y2="208.20" stroke="#222" stroke-width="0.8"/>
<line x1="65.20" y1="192.10" x2="67.10" y2="192.10" stroke="#222" stroke-width="0.8"/>
<line x1="82.46" y1="209.40" x2="82.46" y2="207.50" stroke="#222" stroke-width="0.8"/>
<line x1="65.20" y1="189.54" x2="66.40" y2="189.54" stroke="#222" stroke-width="0.8"/>
<line x1="85.01" y1="209.40" x2="85.01" y2="208.20" stroke="#222" stroke-width="0.8"/>
<line x1="65.20" y1="188.04" x2="66.40" y2="188.04" stroke="#222" stroke-width="0.8"/>
<line x1="86.51" y1="209.40" x2="86.51" y2="208.20" stroke="#222" stroke-width="0.8"/>
<line x1="65.20" y1="186.98" x2="66.40" y2="186.98" stroke="#222" stroke-width="0.8"/>
<line x1="87.57" y1="209.40" x2="87.57" y2="208.20" stroke="#222" stroke-width="0.8"/>
<line x1="65.20" y1="186.16" x2="66.40" y2="186.16" stroke="#222" stroke-width="0.8"/>
<line x1="88.39" y1="209.40" x2="88.39" y2="208.20" stroke="#222" stroke-width="0.8"/>
<line x1="65.20" y1="185.49" x2="66.40" y2="185.49" stroke="#222" stroke-width="0.8"/>
<line x1="89.06" y1="209.40" x2="89.06" y2="208.20" stroke="#222" stroke-width="0.8"/>
<line x1="65.20" y1="184.92" x2="66.40" y2="184.92" stroke="#222" stroke-width="0.8"/>
<line x1="89.63" y1="209.40" x2="89.63" y2="208.20" stroke="#222" stroke-width="0.8"/>
<line x1="65.20" y1="184.42" x2="66.40" y2="184.42" stroke="#222" stroke-width="0.8"/>
<line x1="90.12" y1="209.40" x2="90.12" y2="208.20" stroke="#222" stroke-width="0.8"/>
<line x1="65.20" y1="183.99" x2="66.40" y2="183.99" stroke="#222" stroke-width="0.8"/>
<line x1="90.55" y1="209.40" x2="90.55" y2="208.20" stroke="#222" stroke-width="0.8"/>
<line x1="65.20" y1="183.60" x2="67.10" y2="183.60" stroke="#222" stroke-width="0.8"/>
<line x1="90.94" y1="209.40" x2="90.94" y2="207.50" stroke="#222" stroke-width="0.8"/>
<line x1="65.20" y1="181.04" x2="66.40" y2="181.04" stroke="#222" stroke-width="0.8"/>
<line x1="93.49" y1="209.40" x2="93.49" y2="208.20" stroke="#222" stroke-width="0.8"/>
<line x1="65.20" y1="179.54" x2="66.40" y2="179.54" stroke="#222" stroke-width="0.8"/>
<line x1="94.99" y1="209.40" x2="94.99" y2="208.20" stroke="#222" stroke-width="0.8"/>
<line x1="65.20" y1="178.48" x2="66.40" y2="178.48" stroke="#222" stroke-width="0.8"/>
<line x1="96.05" y1="209.40" x2="96.05" y2="208.20" stroke="#222" stroke-width="0.8"/>
<line x1="65.20" y1="177.66" x2="66.40" y2="177.66" stroke="#222" stroke-width="0.8"/>
<line x1="96.87" y1="209.40" x2="96.87" y2="208.20" stroke="#222" stroke-width="0.8"/>
<line x1="65.20" y1="176.99" x2="66.40" y2="176.99" stroke="#222" stroke-width="0.8"/>
<line x1="97.54" y1="209.40" x2="97.54" y2="208.20" stroke="#222" stroke-width="0.8"/>
<line x1="65.20" y1="176.42" x2="66.40" y2="176.42" stroke="#222" stroke-width="0.8"/>
<line x1="98.11" y1="209.40" x2="98.11" y2="208.20" stroke="#222" stroke-width="0.8"/>
<line x1="65.20" y1="175.92" x2="66.40" y2="175.92" stroke="#222" stroke-width="0.8"/>
<line x1="98.60" y1="209.40" x2="98.60" y2="208.20" stroke="#222" stroke-width="0.8"/>
<line x1="65.20" y1="175.49" x2="66.40" y2="175.49" stroke="#222" stroke-width="0.8"/>
<line x1="99.03" y1="209.40" x2="99.03" y2="208.20" stroke="#222" stroke-width="0.8"/>
<line x1="65.20" y1="175.10" x2="67.10" y2="175.10" stroke="#222" stroke-width="0.8"/>
<line x1="99.42" y1="209.40" x2="99.42" y2="207.50" stroke="#222" stroke-width="0.8"/>
<line x1="65.20" y1="172.54" x2="66.40" y2="172.54" stroke="#222" stroke-width="0.8"/>
<line x1="101.97" y1="209.40" x2="101.97" y2="208.20" stroke="#222" stroke-width="0.8"/>
<line x1="65.20" y1="171.04" x2="66.40" y2="171.04" stroke="#222" stroke-width="0.8"/>
<line x1="103.47" y1="209.40" x2="103.47" y2="208.20" stroke="#222" stroke-width="0.8"/>
<line x1="65.20" y1="169.98" x2="66.40" y2="169.98" stroke="#222" stroke-width="0.8"/>
<line x1="104.53" y1="209.40" x2="104.53" y2="208.20" stroke="#222" stroke-width="0.8"/>
<line x1="65.20" y1="169.16" x2="66.40" y2="169.16" stroke="#222" stroke-width="0.8"/>
<line x1="105.35" y1="209.40" x2="105.35" y2="208.20" stroke="#222" stroke-width="0.8"/>
<line x1="65.20" y1="168.49" x2="66.40" y2="168.49" stroke="#222" stroke-width="0.8"/>
<line x1="106.02" y1="209.40" x2="106.02" y2="208.20" stroke="#222" stroke-width="0.8"/>
<line x1="65.20" y1="167.92" x2="66.40" y2="167.92" stroke="#222" stroke-width="0.8"/>
<line x1="106.59" y1="209.40" x2="106.59" y2="208.20" stroke="#222" stroke-width="0.8"/>
<line x1="65.20" y1="167.42" x2="66.40" y2="167.42" stroke="#222" stroke-width="0.8"/>
<line x1="107.08" y1="209.40" x2="107.08" y2="208.20" stroke="#222" stroke-width="0.8"/>
<text x="65.00" y="219.20" font-size="8" text-anchor="start" font-weight="normal" fill="#1a1a1a" stroke="#1a1a1a" stroke-width="0.22" >CD45</text>
<text x="0.00" y="0.00" font-size="8" text-anchor="start" font-weight="normal" fill="#1a1a1a" stroke="#1a1a1a" stroke-width="0.22" transform="translate(62.9 208.4) rotate(-90)">FSC-H</text>
<g filter="url(#fBlur)">
<ellipse cx="81" cy="201" rx="9" ry="7" fill="#f1d3d7" opacity="0.8"/>
<ellipse cx="76" cy="205.8" rx="5.5" ry="3.6" fill="#b8283a" opacity="0.85"/>
<ellipse cx="93" cy="192" rx="6" ry="11" fill="#e8b0b8" opacity="0.75" transform="rotate(30 93 192)"/>
<ellipse cx="91" cy="194.5" rx="3" ry="4" fill="#c85060" opacity="0.6"/>
<ellipse cx="99" cy="186" rx="3" ry="5" fill="#eccad0" opacity="0.7"/>
</g>
<rect x="85.8" y="176.5" width="16.9" height="30.5" fill="none" stroke="#222" stroke-width="0.9"/>
<line x1="102.70" y1="191.80" x2="123.50" y2="191.80" stroke="#111" stroke-width="1.2"/>
<polygon points="126.2,191.8 120.4,188.6 120.4,195" fill="#111"/>
<rect x="144.8" y="167.8" width="42.89999999999998" height="41.599999999999994" fill="#fff" stroke="#2a2a2a" stroke-width="0.9"/>
<line x1="144.50" y1="206.90" x2="145.70" y2="206.90" stroke="#222" stroke-width="0.8"/>
<line x1="147.38" y1="209.70" x2="147.38" y2="208.50" stroke="#222" stroke-width="0.8"/>
<line x1="144.50" y1="205.43" x2="145.70" y2="205.43" stroke="#222" stroke-width="0.8"/>
<line x1="148.89" y1="209.70" x2="148.89" y2="208.50" stroke="#222" stroke-width="0.8"/>
<line x1="144.50" y1="204.39" x2="145.70" y2="204.39" stroke="#222" stroke-width="0.8"/>
<line x1="149.97" y1="209.70" x2="149.97" y2="208.50" stroke="#222" stroke-width="0.8"/>
<line x1="144.50" y1="203.58" x2="145.70" y2="203.58" stroke="#222" stroke-width="0.8"/>
<line x1="150.80" y1="209.70" x2="150.80" y2="208.50" stroke="#222" stroke-width="0.8"/>
<line x1="144.50" y1="202.93" x2="145.70" y2="202.93" stroke="#222" stroke-width="0.8"/>
<line x1="151.48" y1="209.70" x2="151.48" y2="208.50" stroke="#222" stroke-width="0.8"/>
<line x1="144.50" y1="202.37" x2="145.70" y2="202.37" stroke="#222" stroke-width="0.8"/>
<line x1="152.05" y1="209.70" x2="152.05" y2="208.50" stroke="#222" stroke-width="0.8"/>
<line x1="144.50" y1="201.89" x2="145.70" y2="201.89" stroke="#222" stroke-width="0.8"/>
<line x1="152.55" y1="209.70" x2="152.55" y2="208.50" stroke="#222" stroke-width="0.8"/>
<line x1="144.50" y1="201.46" x2="145.70" y2="201.46" stroke="#222" stroke-width="0.8"/>
<line x1="152.99" y1="209.70" x2="152.99" y2="208.50" stroke="#222" stroke-width="0.8"/>
<line x1="144.50" y1="201.08" x2="146.40" y2="201.08" stroke="#222" stroke-width="0.8"/>
<line x1="153.38" y1="209.70" x2="153.38" y2="207.80" stroke="#222" stroke-width="0.8"/>
<line x1="144.50" y1="198.58" x2="145.70" y2="198.58" stroke="#222" stroke-width="0.8"/>
<line x1="155.96" y1="209.70" x2="155.96" y2="208.50" stroke="#222" stroke-width="0.8"/>
<line x1="144.50" y1="197.11" x2="145.70" y2="197.11" stroke="#222" stroke-width="0.8"/>
<line x1="157.47" y1="209.70" x2="157.47" y2="208.50" stroke="#222" stroke-width="0.8"/>
<line x1="144.50" y1="196.07" x2="145.70" y2="196.07" stroke="#222" stroke-width="0.8"/>
<line x1="158.55" y1="209.70" x2="158.55" y2="208.50" stroke="#222" stroke-width="0.8"/>
<line x1="144.50" y1="195.26" x2="145.70" y2="195.26" stroke="#222" stroke-width="0.8"/>
<line x1="159.38" y1="209.70" x2="159.38" y2="208.50" stroke="#222" stroke-width="0.8"/>
<line x1="144.50" y1="194.61" x2="145.70" y2="194.61" stroke="#222" stroke-width="0.8"/>
<line x1="160.06" y1="209.70" x2="160.06" y2="208.50" stroke="#222" stroke-width="0.8"/>
<line x1="144.50" y1="194.05" x2="145.70" y2="194.05" stroke="#222" stroke-width="0.8"/>
<line x1="160.63" y1="209.70" x2="160.63" y2="208.50" stroke="#222" stroke-width="0.8"/>
<line x1="144.50" y1="193.57" x2="145.70" y2="193.57" stroke="#222" stroke-width="0.8"/>
<line x1="161.13" y1="209.70" x2="161.13" y2="208.50" stroke="#222" stroke-width="0.8"/>
<line x1="144.50" y1="193.14" x2="145.70" y2="193.14" stroke="#222" stroke-width="0.8"/>
<line x1="161.57" y1="209.70" x2="161.57" y2="208.50" stroke="#222" stroke-width="0.8"/>
<line x1="144.50" y1="192.76" x2="146.40" y2="192.76" stroke="#222" stroke-width="0.8"/>
<line x1="161.96" y1="209.70" x2="161.96" y2="207.80" stroke="#222" stroke-width="0.8"/>
<line x1="144.50" y1="190.26" x2="145.70" y2="190.26" stroke="#222" stroke-width="0.8"/>
<line x1="164.54" y1="209.70" x2="164.54" y2="208.50" stroke="#222" stroke-width="0.8"/>
<line x1="144.50" y1="188.79" x2="145.70" y2="188.79" stroke="#222" stroke-width="0.8"/>
<line x1="166.05" y1="209.70" x2="166.05" y2="208.50" stroke="#222" stroke-width="0.8"/>
<line x1="144.50" y1="187.75" x2="145.70" y2="187.75" stroke="#222" stroke-width="0.8"/>
<line x1="167.13" y1="209.70" x2="167.13" y2="208.50" stroke="#222" stroke-width="0.8"/>
<line x1="144.50" y1="186.94" x2="145.70" y2="186.94" stroke="#222" stroke-width="0.8"/>
<line x1="167.96" y1="209.70" x2="167.96" y2="208.50" stroke="#222" stroke-width="0.8"/>
<line x1="144.50" y1="186.29" x2="145.70" y2="186.29" stroke="#222" stroke-width="0.8"/>
<line x1="168.64" y1="209.70" x2="168.64" y2="208.50" stroke="#222" stroke-width="0.8"/>
<line x1="144.50" y1="185.73" x2="145.70" y2="185.73" stroke="#222" stroke-width="0.8"/>
<line x1="169.21" y1="209.70" x2="169.21" y2="208.50" stroke="#222" stroke-width="0.8"/>
<line x1="144.50" y1="185.25" x2="145.70" y2="185.25" stroke="#222" stroke-width="0.8"/>
<line x1="169.71" y1="209.70" x2="169.71" y2="208.50" stroke="#222" stroke-width="0.8"/>
<line x1="144.50" y1="184.82" x2="145.70" y2="184.82" stroke="#222" stroke-width="0.8"/>
<line x1="170.15" y1="209.70" x2="170.15" y2="208.50" stroke="#222" stroke-width="0.8"/>
<line x1="144.50" y1="184.44" x2="146.40" y2="184.44" stroke="#222" stroke-width="0.8"/>
<line x1="170.54" y1="209.70" x2="170.54" y2="207.80" stroke="#222" stroke-width="0.8"/>
<line x1="144.50" y1="181.94" x2="145.70" y2="181.94" stroke="#222" stroke-width="0.8"/>
<line x1="173.12" y1="209.70" x2="173.12" y2="208.50" stroke="#222" stroke-width="0.8"/>
<line x1="144.50" y1="180.47" x2="145.70" y2="180.47" stroke="#222" stroke-width="0.8"/>
<line x1="174.63" y1="209.70" x2="174.63" y2="208.50" stroke="#222" stroke-width="0.8"/>
<line x1="144.50" y1="179.43" x2="145.70" y2="179.43" stroke="#222" stroke-width="0.8"/>
<line x1="175.71" y1="209.70" x2="175.71" y2="208.50" stroke="#222" stroke-width="0.8"/>
<line x1="144.50" y1="178.62" x2="145.70" y2="178.62" stroke="#222" stroke-width="0.8"/>
<line x1="176.54" y1="209.70" x2="176.54" y2="208.50" stroke="#222" stroke-width="0.8"/>
<line x1="144.50" y1="177.97" x2="145.70" y2="177.97" stroke="#222" stroke-width="0.8"/>
<line x1="177.22" y1="209.70" x2="177.22" y2="208.50" stroke="#222" stroke-width="0.8"/>
<line x1="144.50" y1="177.41" x2="145.70" y2="177.41" stroke="#222" stroke-width="0.8"/>
<line x1="177.79" y1="209.70" x2="177.79" y2="208.50" stroke="#222" stroke-width="0.8"/>
<line x1="144.50" y1="176.93" x2="145.70" y2="176.93" stroke="#222" stroke-width="0.8"/>
<line x1="178.29" y1="209.70" x2="178.29" y2="208.50" stroke="#222" stroke-width="0.8"/>
<line x1="144.50" y1="176.50" x2="145.70" y2="176.50" stroke="#222" stroke-width="0.8"/>
<line x1="178.73" y1="209.70" x2="178.73" y2="208.50" stroke="#222" stroke-width="0.8"/>
<line x1="144.50" y1="176.12" x2="146.40" y2="176.12" stroke="#222" stroke-width="0.8"/>
<line x1="179.12" y1="209.70" x2="179.12" y2="207.80" stroke="#222" stroke-width="0.8"/>
<line x1="144.50" y1="173.62" x2="145.70" y2="173.62" stroke="#222" stroke-width="0.8"/>
<line x1="181.70" y1="209.70" x2="181.70" y2="208.50" stroke="#222" stroke-width="0.8"/>
<line x1="144.50" y1="172.15" x2="145.70" y2="172.15" stroke="#222" stroke-width="0.8"/>
<line x1="183.21" y1="209.70" x2="183.21" y2="208.50" stroke="#222" stroke-width="0.8"/>
<line x1="144.50" y1="171.11" x2="145.70" y2="171.11" stroke="#222" stroke-width="0.8"/>
<line x1="184.29" y1="209.70" x2="184.29" y2="208.50" stroke="#222" stroke-width="0.8"/>
<line x1="144.50" y1="170.30" x2="145.70" y2="170.30" stroke="#222" stroke-width="0.8"/>
<line x1="185.12" y1="209.70" x2="185.12" y2="208.50" stroke="#222" stroke-width="0.8"/>
<line x1="144.50" y1="169.65" x2="145.70" y2="169.65" stroke="#222" stroke-width="0.8"/>
<line x1="185.80" y1="209.70" x2="185.80" y2="208.50" stroke="#222" stroke-width="0.8"/>
<line x1="144.50" y1="169.09" x2="145.70" y2="169.09" stroke="#222" stroke-width="0.8"/>
<line x1="186.37" y1="209.70" x2="186.37" y2="208.50" stroke="#222" stroke-width="0.8"/>
<line x1="144.50" y1="168.61" x2="145.70" y2="168.61" stroke="#222" stroke-width="0.8"/>
<line x1="186.87" y1="209.70" x2="186.87" y2="208.50" stroke="#222" stroke-width="0.8"/>
<text x="144.90" y="219.20" font-size="7.9" text-anchor="start" font-weight="normal" fill="#1a1a1a" stroke="#1a1a1a" stroke-width="0.22" >CD3</text>
<text x="0.00" y="0.00" font-size="7.9" text-anchor="start" font-weight="normal" fill="#1a1a1a" stroke="#1a1a1a" stroke-width="0.22" transform="translate(140.6 210) rotate(-90)">NK1.1</text>
<g filter="url(#fBlur2)">
<ellipse cx="155" cy="183" rx="3" ry="6" fill="#ecc4ca" opacity="0.8"/>
<ellipse cx="154.6" cy="197" rx="1.9" ry="8.5" fill="#b82a3c" opacity="0.85"/>
<ellipse cx="165" cy="198.5" rx="4.6" ry="4.5" fill="#e2a0a9" opacity="0.85"/>
<ellipse cx="165" cy="198.5" rx="2" ry="2" fill="#cc5a6a" opacity="0.7"/>
</g>
<rect x="151.4" y="175.4" width="9" height="13.3" fill="none" stroke="#222" stroke-width="0.9"/>
<rect x="160.4" y="188.7" width="18.4" height="17.1" fill="none" stroke="#222" stroke-width="0.9"/>
<line x1="171.00" y1="205.80" x2="171.00" y2="218.60" stroke="#111" stroke-width="1.2"/>
<polygon points="171,221.6 167.9,216.2 174.1,216.2" fill="#111"/>
<rect x="143.8" y="228.4" width="42.19999999999999" height="41.599999999999994" fill="#fff" stroke="#2a2a2a" stroke-width="0.9"/>
<line x1="143.50" y1="267.50" x2="144.70" y2="267.50" stroke="#222" stroke-width="0.8"/>
<line x1="146.34" y1="270.30" x2="146.34" y2="269.10" stroke="#222" stroke-width="0.8"/>
<line x1="143.50" y1="266.03" x2="144.70" y2="266.03" stroke="#222" stroke-width="0.8"/>
<line x1="147.83" y1="270.30" x2="147.83" y2="269.10" stroke="#222" stroke-width="0.8"/>
<line x1="143.50" y1="264.99" x2="144.70" y2="264.99" stroke="#222" stroke-width="0.8"/>
<line x1="148.88" y1="270.30" x2="148.88" y2="269.10" stroke="#222" stroke-width="0.8"/>
<line x1="143.50" y1="264.18" x2="144.70" y2="264.18" stroke="#222" stroke-width="0.8"/>
<line x1="149.70" y1="270.30" x2="149.70" y2="269.10" stroke="#222" stroke-width="0.8"/>
<line x1="143.50" y1="263.53" x2="144.70" y2="263.53" stroke="#222" stroke-width="0.8"/>
<line x1="150.37" y1="270.30" x2="150.37" y2="269.10" stroke="#222" stroke-width="0.8"/>
<line x1="143.50" y1="262.97" x2="144.70" y2="262.97" stroke="#222" stroke-width="0.8"/>
<line x1="150.93" y1="270.30" x2="150.93" y2="269.10" stroke="#222" stroke-width="0.8"/>
<line x1="143.50" y1="262.49" x2="144.70" y2="262.49" stroke="#222" stroke-width="0.8"/>
<line x1="151.42" y1="270.30" x2="151.42" y2="269.10" stroke="#222" stroke-width="0.8"/>
<line x1="143.50" y1="262.06" x2="144.70" y2="262.06" stroke="#222" stroke-width="0.8"/>
<line x1="151.85" y1="270.30" x2="151.85" y2="269.10" stroke="#222" stroke-width="0.8"/>
<line x1="143.50" y1="261.68" x2="145.40" y2="261.68" stroke="#222" stroke-width="0.8"/>
<line x1="152.24" y1="270.30" x2="152.24" y2="268.40" stroke="#222" stroke-width="0.8"/>
<line x1="143.50" y1="259.18" x2="144.70" y2="259.18" stroke="#222" stroke-width="0.8"/>
<line x1="154.78" y1="270.30" x2="154.78" y2="269.10" stroke="#222" stroke-width="0.8"/>
<line x1="143.50" y1="257.71" x2="144.70" y2="257.71" stroke="#222" stroke-width="0.8"/>
<line x1="156.27" y1="270.30" x2="156.27" y2="269.10" stroke="#222" stroke-width="0.8"/>
<line x1="143.50" y1="256.67" x2="144.70" y2="256.67" stroke="#222" stroke-width="0.8"/>
<line x1="157.32" y1="270.30" x2="157.32" y2="269.10" stroke="#222" stroke-width="0.8"/>
<line x1="143.50" y1="255.86" x2="144.70" y2="255.86" stroke="#222" stroke-width="0.8"/>
<line x1="158.14" y1="270.30" x2="158.14" y2="269.10" stroke="#222" stroke-width="0.8"/>
<line x1="143.50" y1="255.21" x2="144.70" y2="255.21" stroke="#222" stroke-width="0.8"/>
<line x1="158.81" y1="270.30" x2="158.81" y2="269.10" stroke="#222" stroke-width="0.8"/>
<line x1="143.50" y1="254.65" x2="144.70" y2="254.65" stroke="#222" stroke-width="0.8"/>
<line x1="159.37" y1="270.30" x2="159.37" y2="269.10" stroke="#222" stroke-width="0.8"/>
<line x1="143.50" y1="254.17" x2="144.70" y2="254.17" stroke="#222" stroke-width="0.8"/>
<line x1="159.86" y1="270.30" x2="159.86" y2="269.10" stroke="#222" stroke-width="0.8"/>
<line x1="143.50" y1="253.74" x2="144.70" y2="253.74" stroke="#222" stroke-width="0.8"/>
<line x1="160.29" y1="270.30" x2="160.29" y2="269.10" stroke="#222" stroke-width="0.8"/>
<line x1="143.50" y1="253.36" x2="145.40" y2="253.36" stroke="#222" stroke-width="0.8"/>
<line x1="160.68" y1="270.30" x2="160.68" y2="268.40" stroke="#222" stroke-width="0.8"/>
<line x1="143.50" y1="250.86" x2="144.70" y2="250.86" stroke="#222" stroke-width="0.8"/>
<line x1="163.22" y1="270.30" x2="163.22" y2="269.10" stroke="#222" stroke-width="0.8"/>
<line x1="143.50" y1="249.39" x2="144.70" y2="249.39" stroke="#222" stroke-width="0.8"/>
<line x1="164.71" y1="270.30" x2="164.71" y2="269.10" stroke="#222" stroke-width="0.8"/>
<line x1="143.50" y1="248.35" x2="144.70" y2="248.35" stroke="#222" stroke-width="0.8"/>
<line x1="165.76" y1="270.30" x2="165.76" y2="269.10" stroke="#222" stroke-width="0.8"/>
<line x1="143.50" y1="247.54" x2="144.70" y2="247.54" stroke="#222" stroke-width="0.8"/>
<line x1="166.58" y1="270.30" x2="166.58" y2="269.10" stroke="#222" stroke-width="0.8"/>
<line x1="143.50" y1="246.89" x2="144.70" y2="246.89" stroke="#222" stroke-width="0.8"/>
<line x1="167.25" y1="270.30" x2="167.25" y2="269.10" stroke="#222" stroke-width="0.8"/>
<line x1="143.50" y1="246.33" x2="144.70" y2="246.33" stroke="#222" stroke-width="0.8"/>
<line x1="167.81" y1="270.30" x2="167.81" y2="269.10" stroke="#222" stroke-width="0.8"/>
<line x1="143.50" y1="245.85" x2="144.70" y2="245.85" stroke="#222" stroke-width="0.8"/>
<line x1="168.30" y1="270.30" x2="168.30" y2="269.10" stroke="#222" stroke-width="0.8"/>
<line x1="143.50" y1="245.42" x2="144.70" y2="245.42" stroke="#222" stroke-width="0.8"/>
<line x1="168.73" y1="270.30" x2="168.73" y2="269.10" stroke="#222" stroke-width="0.8"/>
<line x1="143.50" y1="245.04" x2="145.40" y2="245.04" stroke="#222" stroke-width="0.8"/>
<line x1="169.12" y1="270.30" x2="169.12" y2="268.40" stroke="#222" stroke-width="0.8"/>
<line x1="143.50" y1="242.54" x2="144.70" y2="242.54" stroke="#222" stroke-width="0.8"/>
<line x1="171.66" y1="270.30" x2="171.66" y2="269.10" stroke="#222" stroke-width="0.8"/>
<line x1="143.50" y1="241.07" x2="144.70" y2="241.07" stroke="#222" stroke-width="0.8"/>
<line x1="173.15" y1="270.30" x2="173.15" y2="269.10" stroke="#222" stroke-width="0.8"/>
<line x1="143.50" y1="240.03" x2="144.70" y2="240.03" stroke="#222" stroke-width="0.8"/>
<line x1="174.20" y1="270.30" x2="174.20" y2="269.10" stroke="#222" stroke-width="0.8"/>
<line x1="143.50" y1="239.22" x2="144.70" y2="239.22" stroke="#222" stroke-width="0.8"/>
<line x1="175.02" y1="270.30" x2="175.02" y2="269.10" stroke="#222" stroke-width="0.8"/>
<line x1="143.50" y1="238.57" x2="144.70" y2="238.57" stroke="#222" stroke-width="0.8"/>
<line x1="175.69" y1="270.30" x2="175.69" y2="269.10" stroke="#222" stroke-width="0.8"/>
<line x1="143.50" y1="238.01" x2="144.70" y2="238.01" stroke="#222" stroke-width="0.8"/>
<line x1="176.25" y1="270.30" x2="176.25" y2="269.10" stroke="#222" stroke-width="0.8"/>
<line x1="143.50" y1="237.53" x2="144.70" y2="237.53" stroke="#222" stroke-width="0.8"/>
<line x1="176.74" y1="270.30" x2="176.74" y2="269.10" stroke="#222" stroke-width="0.8"/>
<line x1="143.50" y1="237.10" x2="144.70" y2="237.10" stroke="#222" stroke-width="0.8"/>
<line x1="177.17" y1="270.30" x2="177.17" y2="269.10" stroke="#222" stroke-width="0.8"/>
<line x1="143.50" y1="236.72" x2="145.40" y2="236.72" stroke="#222" stroke-width="0.8"/>
<line x1="177.56" y1="270.30" x2="177.56" y2="268.40" stroke="#222" stroke-width="0.8"/>
<line x1="143.50" y1="234.22" x2="144.70" y2="234.22" stroke="#222" stroke-width="0.8"/>
<line x1="180.10" y1="270.30" x2="180.10" y2="269.10" stroke="#222" stroke-width="0.8"/>
<line x1="143.50" y1="232.75" x2="144.70" y2="232.75" stroke="#222" stroke-width="0.8"/>
<line x1="181.59" y1="270.30" x2="181.59" y2="269.10" stroke="#222" stroke-width="0.8"/>
<line x1="143.50" y1="231.71" x2="144.70" y2="231.71" stroke="#222" stroke-width="0.8"/>
<line x1="182.64" y1="270.30" x2="182.64" y2="269.10" stroke="#222" stroke-width="0.8"/>
<line x1="143.50" y1="230.90" x2="144.70" y2="230.90" stroke="#222" stroke-width="0.8"/>
<line x1="183.46" y1="270.30" x2="183.46" y2="269.10" stroke="#222" stroke-width="0.8"/>
<line x1="143.50" y1="230.25" x2="144.70" y2="230.25" stroke="#222" stroke-width="0.8"/>
<line x1="184.13" y1="270.30" x2="184.13" y2="269.10" stroke="#222" stroke-width="0.8"/>
<line x1="143.50" y1="229.69" x2="144.70" y2="229.69" stroke="#222" stroke-width="0.8"/>
<line x1="184.69" y1="270.30" x2="184.69" y2="269.10" stroke="#222" stroke-width="0.8"/>
<line x1="143.50" y1="229.21" x2="144.70" y2="229.21" stroke="#222" stroke-width="0.8"/>
<line x1="185.18" y1="270.30" x2="185.18" y2="269.10" stroke="#222" stroke-width="0.8"/>
<text x="143.60" y="278.80" font-size="7.9" text-anchor="start" font-weight="normal" fill="#1a1a1a" stroke="#1a1a1a" stroke-width="0.22" >CD8</text>
<text x="0.00" y="0.00" font-size="7.9" text-anchor="start" font-weight="normal" fill="#1a1a1a" stroke="#1a1a1a" stroke-width="0.22" transform="translate(139.6 269.6) rotate(-90)">CD4</text>
<g filter="url(#fBlur2)">
<ellipse cx="155" cy="243" rx="3.2" ry="5" fill="#e0a0aa" opacity="0.8"/>
<ellipse cx="155" cy="243" rx="1.7" ry="3" fill="#b82c40" opacity="0.8"/>
<ellipse cx="171.6" cy="260.7" rx="4.6" ry="3.6" fill="#d87080" opacity="0.8"/>
<ellipse cx="171.4" cy="260.6" rx="3" ry="2.4" fill="#a8142c" opacity="0.9"/>
<ellipse cx="155" cy="260" rx="1.4" ry="1.1" fill="#d9b6bc" opacity="0.6"/>
</g>
<rect x="146.3" y="235.4" width="15.8" height="14.7" fill="none" stroke="#222" stroke-width="0.9"/>
<rect x="163.2" y="253.4" width="17.3" height="14.4" fill="none" stroke="#222" stroke-width="0.9"/>
<text x="220.50" y="157.10" font-size="11" text-anchor="middle" font-weight="bold" fill="#000" stroke="#000" stroke-width="0.22" >D</text>
<text x="0.00" y="0.00" font-size="8.3" text-anchor="middle" font-weight="normal" fill="#1a1a1a" stroke="#1a1a1a" stroke-width="0.1" transform="translate(240.2 208.0) rotate(-90)">% Positive/live cells</text>
<line x1="252.50" y1="172.20" x2="252.50" y2="258.30" stroke="#141414" stroke-width="1.4"/>
<line x1="251.80" y1="257.60" x2="322.70" y2="257.60" stroke="#141414" stroke-width="1.4"/>
<line x1="250.10" y1="257.60" x2="252.50" y2="257.60" stroke="#141414" stroke-width="1.1"/>
<text x="248.90" y="259.50" font-size="7.2" text-anchor="end" font-weight="normal" fill="#1a1a1a" stroke="#1a1a1a" stroke-width="0.22" >0</text>
<line x1="250.10" y1="229.30" x2="252.50" y2="229.30" stroke="#141414" stroke-width="1.1"/>
<text x="248.90" y="231.20" font-size="7.2" text-anchor="end" font-weight="normal" fill="#1a1a1a" stroke="#1a1a1a" stroke-width="0.22" >2</text>
<line x1="250.10" y1="201.00" x2="252.50" y2="201.00" stroke="#141414" stroke-width="1.1"/>
<text x="248.90" y="202.90" font-size="7.2" text-anchor="end" font-weight="normal" fill="#1a1a1a" stroke="#1a1a1a" stroke-width="0.22" >4</text>
<line x1="250.10" y1="172.70" x2="252.50" y2="172.70" stroke="#141414" stroke-width="1.1"/>
<text x="248.90" y="174.60" font-size="7.2" text-anchor="end" font-weight="normal" fill="#1a1a1a" stroke="#1a1a1a" stroke-width="0.22" >6</text>
<line x1="261.30" y1="257.60" x2="261.30" y2="259.80" stroke="#141414" stroke-width="1"/>
<line x1="278.90" y1="257.60" x2="278.90" y2="259.80" stroke="#141414" stroke-width="1"/>
<line x1="296.40" y1="257.60" x2="296.40" y2="259.80" stroke="#141414" stroke-width="1"/>
<line x1="314.00" y1="257.60" x2="314.00" y2="259.80" stroke="#141414" stroke-width="1"/>
<text x="265.00" y="266.60" font-size="7.6" text-anchor="end" font-weight="normal" fill="#1a1a1a" stroke="#1a1a1a" stroke-width="0.22" transform="rotate(-45 265.0 266.6)">0 hours</text>
<text x="282.60" y="266.60" font-size="7.6" text-anchor="end" font-weight="normal" fill="#1a1a1a" stroke="#1a1a1a" stroke-width="0.22" transform="rotate(-45 282.6 266.6)">6 hours</text>
<text x="300.10" y="266.60" font-size="7.6" text-anchor="end" font-weight="normal" fill="#1a1a1a" stroke="#1a1a1a" stroke-width="0.22" transform="rotate(-45 300.1 266.6)">2 days</text>
<text x="317.70" y="266.60" font-size="7.6" text-anchor="end" font-weight="normal" fill="#1a1a1a" stroke="#1a1a1a" stroke-width="0.22" transform="rotate(-45 317.7 266.6)">4 days</text>
<text x="288.80" y="156.60" font-size="8" text-anchor="middle" font-weight="normal" fill="#1a1a1a" stroke="#1a1a1a" stroke-width="0.22" >CD4 T cells</text>
<text x="289.20" y="164.20" font-size="6.0" text-anchor="middle" font-weight="normal" fill="#1a1a1a" stroke="#1a1a1a" stroke-width="0.12" >(CD3<tspan font-size="4" dy="-2">+</tspan><tspan dy="2">CD4</tspan><tspan font-size="4" dy="-2">+</tspan><tspan dy="2">)</tspan></text>
<line x1="263.40" y1="176.60" x2="314.80" y2="176.60" stroke="#141414" stroke-width="1.2"/>
<line x1="263.40" y1="174.00" x2="263.40" y2="179.20" stroke="#141414" stroke-width="1.1"/>
<line x1="314.80" y1="174.00" x2="314.80" y2="179.20" stroke="#141414" stroke-width="1.1"/>
<text x="289.10" y="176.60" font-size="5.8" text-anchor="middle" font-weight="normal" fill="#1a1a1a" stroke="#1a1a1a" stroke-width="0.22" >*</text>
<circle cx="261.3" cy="231.5" r="2.0" fill="#141414"/>
<circle cx="261.3" cy="243.1" r="2.0" fill="#141414"/>
<circle cx="258.0" cy="248.0" r="2.0" fill="#141414"/>
<circle cx="264.0" cy="248.2" r="2.0" fill="#141414"/>
<circle cx="261.0" cy="250.0" r="2.0" fill="#141414"/>
<circle cx="257.2" cy="253.0" r="2.0" fill="#141414"/>
<circle cx="265.0" cy="253.0" r="2.0" fill="#141414"/>
<circle cx="260.0" cy="255.0" r="2.0" fill="#141414"/>
<circle cx="263.0" cy="256.0" r="2.0" fill="#141414"/>
<circle cx="258.0" cy="257.3" r="2.0" fill="#141414"/>
<circle cx="266.0" cy="257.3" r="2.0" fill="#141414"/>
<circle cx="261.5" cy="257.6" r="2.0" fill="#141414"/>
<line x1="255.30" y1="251.40" x2="267.30" y2="251.40" stroke="#141414" stroke-width="1.3"/>
<line x1="261.30" y1="248.50" x2="261.30" y2="254.20" stroke="#141414" stroke-width="1.3"/>
<line x1="258.10" y1="248.50" x2="264.50" y2="248.50" stroke="#141414" stroke-width="1.3"/>
<line x1="258.10" y1="254.20" x2="264.50" y2="254.20" stroke="#141414" stroke-width="1.3"/>
<polygon points="272.9,257.8 277.5,257.8 275.2,253.5" fill="#e4636b"/>
<polygon points="276.6,257.8 281.2,257.8 278.9,253.5" fill="#e4636b"/>
<polygon points="280.3,257.8 284.9,257.8 282.6,253.5" fill="#e4636b"/>
<line x1="273.00" y1="256.40" x2="285.00" y2="256.40" stroke="#e4636b" stroke-width="1.6"/>
<rect x="294.7" y="235.5" width="3.6" height="3.6" fill="#e62a22"/>
<rect x="292.2" y="246.5" width="3.6" height="3.6" fill="#e62a22"/>
<rect x="296.8" y="246.5" width="3.6" height="3.6" fill="#e62a22"/>
<rect x="294.4" y="248.6" width="3.6" height="3.6" fill="#e62a22"/>
<rect x="291.4" y="250.7" width="3.6" height="3.6" fill="#e62a22"/>
<rect x="297.4" y="250.7" width="3.6" height="3.6" fill="#e62a22"/>
<rect x="294.4" y="252.7" width="3.6" height="3.6" fill="#e62a22"/>
<rect x="292.2" y="254.8" width="3.6" height="3.6" fill="#e62a22"/>
<rect x="296.4" y="254.8" width="3.6" height="3.6" fill="#e62a22"/>
<line x1="290.00" y1="250.50" x2="302.00" y2="250.50" stroke="#e62a22" stroke-width="1.3"/>
<line x1="296.00" y1="248.20" x2="296.00" y2="253.00" stroke="#e62a22" stroke-width="1.3"/>
<line x1="292.80" y1="248.20" x2="299.20" y2="248.20" stroke="#e62a22" stroke-width="1.3"/>
<line x1="292.80" y1="253.00" x2="299.20" y2="253.00" stroke="#e62a22" stroke-width="1.3"/>
<polygon points="312.0,200.8 316.4,200.8 314.2,204.9" fill="#9c1638"/>
<polygon points="312.0,216.5 316.4,216.5 314.2,220.6" fill="#9c1638"/>
<polygon points="309.8,242.7 314.2,242.7 312.0,246.8" fill="#9c1638"/>
<polygon points="315.8,245.1 320.2,245.1 318.0,249.2" fill="#9c1638"/>
<polygon points="310.8,255.4 315.2,255.4 313.0,259.5" fill="#9c1638"/>
<polygon points="316.8,255.4 321.2,255.4 319.0,259.5" fill="#9c1638"/>
<line x1="308.20" y1="238.30" x2="320.20" y2="238.30" stroke="#9c1638" stroke-width="1.3"/>
<line x1="314.20" y1="228.90" x2="314.20" y2="247.40" stroke="#9c1638" stroke-width="1.3"/>
<line x1="311.00" y1="228.90" x2="317.40" y2="228.90" stroke="#9c1638" stroke-width="1.3"/>
<line x1="311.00" y1="247.40" x2="317.40" y2="247.40" stroke="#9c1638" stroke-width="1.3"/>
<line x1="349.60" y1="172.50" x2="349.60" y2="258.30" stroke="#141414" stroke-width="1.4"/>
<line x1="348.90" y1="257.60" x2="422.70" y2="257.60" stroke="#141414" stroke-width="1.4"/>
<line x1="347.20" y1="257.60" x2="349.60" y2="257.60" stroke="#141414" stroke-width="1.1"/>
<text x="346.40" y="259.70" font-size="7.2" text-anchor="end" font-weight="normal" fill="#1a1a1a" stroke="#1a1a1a" stroke-width="0.22" >0</text>
<line x1="347.20" y1="240.70" x2="349.60" y2="240.70" stroke="#141414" stroke-width="1.1"/>
<text x="346.40" y="242.80" font-size="7.2" text-anchor="end" font-weight="normal" fill="#1a1a1a" stroke="#1a1a1a" stroke-width="0.22" >0.5</text>
<line x1="347.20" y1="223.80" x2="349.60" y2="223.80" stroke="#141414" stroke-width="1.1"/>
<text x="346.40" y="225.90" font-size="7.2" text-anchor="end" font-weight="normal" fill="#1a1a1a" stroke="#1a1a1a" stroke-width="0.22" >1.0</text>
<line x1="347.20" y1="206.90" x2="349.60" y2="206.90" stroke="#141414" stroke-width="1.1"/>
<text x="346.40" y="209.00" font-size="7.2" text-anchor="end" font-weight="normal" fill="#1a1a1a" stroke="#1a1a1a" stroke-width="0.22" >1.5</text>
<line x1="347.20" y1="190.00" x2="349.60" y2="190.00" stroke="#141414" stroke-width="1.1"/>
<text x="346.40" y="192.10" font-size="7.2" text-anchor="end" font-weight="normal" fill="#1a1a1a" stroke="#1a1a1a" stroke-width="0.22" >2.0</text>
<line x1="347.20" y1="173.10" x2="349.60" y2="173.10" stroke="#141414" stroke-width="1.1"/>
<text x="346.40" y="175.20" font-size="7.2" text-anchor="end" font-weight="normal" fill="#1a1a1a" stroke="#1a1a1a" stroke-width="0.22" >2.5</text>
<line x1="358.80" y1="257.60" x2="358.80" y2="259.80" stroke="#141414" stroke-width="1"/>
<line x1="376.40" y1="257.60" x2="376.40" y2="259.80" stroke="#141414" stroke-width="1"/>
<line x1="393.90" y1="257.60" x2="393.90" y2="259.80" stroke="#141414" stroke-width="1"/>
<line x1="412.20" y1="257.60" x2="412.20" y2="259.80" stroke="#141414" stroke-width="1"/>
<text x="362.50" y="266.60" font-size="7.6" text-anchor="end" font-weight="normal" fill="#1a1a1a" stroke="#1a1a1a" stroke-width="0.22" transform="rotate(-45 362.5 266.6)">0 hours</text>
<text x="380.10" y="266.60" font-size="7.6" text-anchor="end" font-weight="normal" fill="#1a1a1a" stroke="#1a1a1a" stroke-width="0.22" transform="rotate(-45 380.1 266.6)">6 hours</text>
<text x="397.60" y="266.60" font-size="7.6" text-anchor="end" font-weight="normal" fill="#1a1a1a" stroke="#1a1a1a" stroke-width="0.22" transform="rotate(-45 397.6 266.6)">2 days</text>
<text x="415.90" y="266.60" font-size="7.6" text-anchor="end" font-weight="normal" fill="#1a1a1a" stroke="#1a1a1a" stroke-width="0.22" transform="rotate(-45 415.9 266.6)">4 days</text>
<text x="385.80" y="157.80" font-size="8" text-anchor="middle" font-weight="normal" fill="#1a1a1a" stroke="#1a1a1a" stroke-width="0.22" >CD8 T cells</text>
<text x="386.20" y="165.30" font-size="6.0" text-anchor="middle" font-weight="normal" fill="#1a1a1a" stroke="#1a1a1a" stroke-width="0.12" >(CD3<tspan font-size="4" dy="-2">+</tspan><tspan dy="2">CD8</tspan><tspan font-size="4" dy="-2">+</tspan><tspan dy="2">)</tspan></text>
<line x1="360.30" y1="175.20" x2="410.50" y2="175.20" stroke="#141414" stroke-width="1.2"/>
<line x1="360.30" y1="172.60" x2="360.30" y2="177.80" stroke="#141414" stroke-width="1.1"/>
<line x1="410.50" y1="172.60" x2="410.50" y2="177.80" stroke="#141414" stroke-width="1.1"/>
<text x="385.40" y="175.40" font-size="5.8" text-anchor="middle" font-weight="normal" fill="#1a1a1a" stroke="#1a1a1a" stroke-width="0.22" >*</text>
<circle cx="358.5" cy="221.0" r="2.0" fill="#141414"/>
<circle cx="354.3" cy="240.5" r="2.0" fill="#141414"/>
<circle cx="358.6" cy="239.6" r="2.0" fill="#141414"/>
<circle cx="362.3" cy="242.0" r="2.0" fill="#141414"/>
<circle cx="356.0" cy="245.0" r="2.0" fill="#141414"/>
<circle cx="360.5" cy="246.5" r="2.0" fill="#141414"/>
<circle cx="354.5" cy="249.5" r="2.0" fill="#141414"/>
<circle cx="359.0" cy="251.0" r="2.0" fill="#141414"/>
<circle cx="362.5" cy="251.0" r="2.0" fill="#141414"/>
<circle cx="356.5" cy="253.5" r="2.0" fill="#141414"/>
<circle cx="360.5" cy="254.5" r="2.0" fill="#141414"/>
<circle cx="355.5" cy="256.8" r="2.0" fill="#141414"/>
<circle cx="359.5" cy="257.3" r="2.0" fill="#141414"/>
<line x1="352.80" y1="247.80" x2="364.80" y2="247.80" stroke="#141414" stroke-width="1.3"/>
<line x1="358.80" y1="250.50" x2="358.80" y2="245.09" stroke="#141414" stroke-width="1.3"/>
<line x1="355.60" y1="250.50" x2="362.00" y2="250.50" stroke="#141414" stroke-width="1.3"/>
<line x1="355.60" y1="245.09" x2="362.00" y2="245.09" stroke="#141414" stroke-width="1.3"/>
<polygon points="371.4,258.1 375.8,258.1 373.6,254.0" fill="#e4636b"/>
<polygon points="376.8,258.1 381.2,258.1 379.0,254.0" fill="#e4636b"/>
<polygon points="374.1,255.5 378.5,255.5 376.3,251.4" fill="#e4636b"/>
<polygon points="374.1,258.5 378.5,258.5 376.3,254.4" fill="#e4636b"/>
<line x1="370.50" y1="255.57" x2="382.50" y2="255.57" stroke="#e4636b" stroke-width="1.2"/>
<rect x="389.6" y="237.8" width="3.6" height="3.6" fill="#e62a22"/>
<rect x="393.5" y="239.3" width="3.6" height="3.6" fill="#e62a22"/>
<rect x="389.6" y="241.4" width="3.6" height="3.6" fill="#e62a22"/>
<rect x="394.2" y="250.1" width="3.6" height="3.6" fill="#e62a22"/>
<rect x="389.6" y="254.8" width="3.6" height="3.6" fill="#e62a22"/>
<line x1="388.00" y1="245.40" x2="399.00" y2="245.40" stroke="#e62a22" stroke-width="1.3"/>
<line x1="393.50" y1="242.80" x2="393.50" y2="248.40" stroke="#e62a22" stroke-width="1.3"/>
<line x1="390.50" y1="242.80" x2="396.50" y2="242.80" stroke="#e62a22" stroke-width="1.3"/>
<line x1="390.50" y1="248.40" x2="396.50" y2="248.40" stroke="#e62a22" stroke-width="1.3"/>
<polygon points="409.1,188.1 413.5,188.1 411.3,192.2" fill="#9c1638"/>
<polygon points="409.1,224.1 413.5,224.1 411.3,228.2" fill="#9c1638"/>
<polygon points="409.1,238.1 413.5,238.1 411.3,242.2" fill="#9c1638"/>
<polygon points="407.6,254.7 412.0,254.7 409.8,258.8" fill="#9c1638"/>
<polygon points="411.9,252.6 416.3,252.6 414.1,256.7" fill="#9c1638"/>
<line x1="405.30" y1="219.50" x2="417.30" y2="219.50" stroke="#9c1638" stroke-width="1.3"/>
<line x1="411.30" y1="202.60" x2="411.30" y2="236.80" stroke="#9c1638" stroke-width="1.3"/>
<line x1="408.10" y1="202.60" x2="414.50" y2="202.60" stroke="#9c1638" stroke-width="1.3"/>
<line x1="408.10" y1="236.80" x2="414.50" y2="236.80" stroke="#9c1638" stroke-width="1.3"/>
<line x1="448.40" y1="172.10" x2="448.40" y2="258.30" stroke="#141414" stroke-width="1.4"/>
<line x1="447.70" y1="257.60" x2="520.00" y2="257.60" stroke="#141414" stroke-width="1.4"/>
<line x1="446.00" y1="257.60" x2="448.40" y2="257.60" stroke="#141414" stroke-width="1.1"/>
<text x="444.10" y="259.00" font-size="7.2" text-anchor="end" font-weight="normal" fill="#1a1a1a" stroke="#1a1a1a" stroke-width="0.22" >0</text>
<line x1="446.00" y1="245.50" x2="448.40" y2="245.50" stroke="#141414" stroke-width="1.1"/>
<text x="444.10" y="246.90" font-size="7.2" text-anchor="end" font-weight="normal" fill="#1a1a1a" stroke="#1a1a1a" stroke-width="0.22" >2</text>
<line x1="446.00" y1="233.40" x2="448.40" y2="233.40" stroke="#141414" stroke-width="1.1"/>
<text x="444.10" y="234.80" font-size="7.2" text-anchor="end" font-weight="normal" fill="#1a1a1a" stroke="#1a1a1a" stroke-width="0.22" >4</text>
<line x1="446.00" y1="221.30" x2="448.40" y2="221.30" stroke="#141414" stroke-width="1.1"/>
<text x="444.10" y="222.70" font-size="7.2" text-anchor="end" font-weight="normal" fill="#1a1a1a" stroke="#1a1a1a" stroke-width="0.22" >6</text>
<line x1="446.00" y1="209.20" x2="448.40" y2="209.20" stroke="#141414" stroke-width="1.1"/>
<text x="444.10" y="210.60" font-size="7.2" text-anchor="end" font-weight="normal" fill="#1a1a1a" stroke="#1a1a1a" stroke-width="0.22" >8</text>
<line x1="446.00" y1="197.10" x2="448.40" y2="197.10" stroke="#141414" stroke-width="1.1"/>
<text x="444.10" y="198.50" font-size="7.2" text-anchor="end" font-weight="normal" fill="#1a1a1a" stroke="#1a1a1a" stroke-width="0.22" >10</text>
<line x1="446.00" y1="185.00" x2="448.40" y2="185.00" stroke="#141414" stroke-width="1.1"/>
<text x="444.10" y="186.40" font-size="7.2" text-anchor="end" font-weight="normal" fill="#1a1a1a" stroke="#1a1a1a" stroke-width="0.22" >12</text>
<line x1="446.00" y1="172.90" x2="448.40" y2="172.90" stroke="#141414" stroke-width="1.1"/>
<text x="444.10" y="174.30" font-size="7.2" text-anchor="end" font-weight="normal" fill="#1a1a1a" stroke="#1a1a1a" stroke-width="0.22" >14</text>
<line x1="456.00" y1="257.60" x2="456.00" y2="259.80" stroke="#141414" stroke-width="1"/>
<line x1="473.60" y1="257.60" x2="473.60" y2="259.80" stroke="#141414" stroke-width="1"/>
<line x1="492.80" y1="257.60" x2="492.80" y2="259.80" stroke="#141414" stroke-width="1"/>
<line x1="511.00" y1="257.60" x2="511.00" y2="259.80" stroke="#141414" stroke-width="1"/>
<text x="459.70" y="266.60" font-size="7.6" text-anchor="end" font-weight="normal" fill="#1a1a1a" stroke="#1a1a1a" stroke-width="0.22" transform="rotate(-45 459.7 266.6)">0 hours</text>
<text x="477.30" y="266.60" font-size="7.6" text-anchor="end" font-weight="normal" fill="#1a1a1a" stroke="#1a1a1a" stroke-width="0.22" transform="rotate(-45 477.3 266.6)">6 hours</text>
<text x="496.50" y="266.60" font-size="7.6" text-anchor="end" font-weight="normal" fill="#1a1a1a" stroke="#1a1a1a" stroke-width="0.22" transform="rotate(-45 496.5 266.6)">2 days</text>
<text x="514.70" y="266.60" font-size="7.6" text-anchor="end" font-weight="normal" fill="#1a1a1a" stroke="#1a1a1a" stroke-width="0.22" transform="rotate(-45 514.7 266.6)">4 days</text>
<text x="482.20" y="157.80" font-size="8" text-anchor="middle" font-weight="normal" fill="#1a1a1a" stroke="#1a1a1a" stroke-width="0.22" >NK cells</text>
<text x="482.60" y="165.30" font-size="6.0" text-anchor="middle" font-weight="normal" fill="#1a1a1a" stroke="#1a1a1a" stroke-width="0.12" >(NK1.1<tspan font-size="4" dy="-2">+</tspan><tspan dy="2">CD3</tspan><tspan font-size="4" dy="-2">−</tspan><tspan dy="2">)</tspan></text>
<line x1="449.60" y1="177.20" x2="491.00" y2="177.20" stroke="#141414" stroke-width="1.2"/>
<line x1="449.60" y1="174.60" x2="449.60" y2="179.80" stroke="#141414" stroke-width="1.1"/>
<line x1="491.00" y1="174.60" x2="491.00" y2="179.80" stroke="#141414" stroke-width="1.1"/>
<text x="472.80" y="175.40" font-size="7" text-anchor="middle" font-weight="normal" fill="#1a1a1a" stroke="#1a1a1a" stroke-width="0.22" >***</text>
<circle cx="454.8" cy="240.4" r="2.0" fill="#141414"/>
<circle cx="459.5" cy="240.4" r="2.0" fill="#141414"/>
<circle cx="453.4" cy="245.8" r="2.0" fill="#141414"/>
<circle cx="459.5" cy="245.2" r="2.0" fill="#141414"/>
<circle cx="456.0" cy="250.0" r="2.0" fill="#141414"/>
<circle cx="453.0" cy="252.5" r="2.0" fill="#141414"/>
<circle cx="460.0" cy="252.8" r="2.0" fill="#141414"/>
<circle cx="457.0" cy="254.6" r="2.0" fill="#141414"/>
<circle cx="454.0" cy="255.8" r="2.0" fill="#141414"/>
<circle cx="460.0" cy="255.8" r="2.0" fill="#141414"/>
<circle cx="458.0" cy="256.9" r="2.0" fill="#141414"/>
<circle cx="455.0" cy="257.3" r="2.0" fill="#141414"/>
<circle cx="461.0" cy="257.3" r="2.0" fill="#141414"/>
<circle cx="452.5" cy="257.0" r="2.0" fill="#141414"/>
<line x1="451.20" y1="252.76" x2="463.20" y2="252.76" stroke="#141414" stroke-width="1.3"/>
<line x1="457.20" y1="254.58" x2="457.20" y2="250.95" stroke="#141414" stroke-width="1.3"/>
<line x1="454.00" y1="254.58" x2="460.40" y2="254.58" stroke="#141414" stroke-width="1.3"/>
<line x1="454.00" y1="250.95" x2="460.40" y2="250.95" stroke="#141414" stroke-width="1.3"/>
<polygon points="471.8,251.4 475.6,251.4 473.7,247.8" fill="#e4636b"/>
<polygon points="468.1,258.7 472.3,258.7 470.2,254.8" fill="#e4636b"/>
<polygon points="475.1,258.7 479.3,258.7 477.2,254.8" fill="#e4636b"/>
<polygon points="471.6,257.9 475.8,257.9 473.7,254.0" fill="#e4636b"/>
<polygon points="470.1,259.1 474.3,259.1 472.2,255.2" fill="#e4636b"/>
<polygon points="473.1,259.1 477.3,259.1 475.2,255.2" fill="#e4636b"/>
<line x1="466.00" y1="256.39" x2="481.50" y2="256.39" stroke="#e4636b" stroke-width="1.2"/>
<rect x="490.3" y="220.8" width="3.6" height="3.6" fill="#e62a22"/>
<rect x="488.6" y="231.0" width="3.6" height="3.6" fill="#e62a22"/>
<rect x="493.6" y="231.0" width="3.6" height="3.6" fill="#e62a22"/>
<rect x="488.4" y="241.7" width="3.6" height="3.6" fill="#e62a22"/>
<rect x="493.6" y="244.4" width="3.6" height="3.6" fill="#e62a22"/>
<rect x="490.3" y="252.5" width="3.6" height="3.6" fill="#e62a22"/>
<line x1="487.00" y1="239.50" x2="498.60" y2="239.50" stroke="#e62a22" stroke-width="1.3"/>
<line x1="492.80" y1="236.00" x2="492.80" y2="243.00" stroke="#e62a22" stroke-width="1.3"/>
<line x1="489.80" y1="236.00" x2="495.80" y2="236.00" stroke="#e62a22" stroke-width="1.3"/>
<line x1="489.80" y1="243.00" x2="495.80" y2="243.00" stroke="#e62a22" stroke-width="1.3"/>
<polygon points="505.5,196.5 509.9,196.5 507.7,200.6" fill="#9c1638"/>
<polygon points="510.6,192.5 515.0,192.5 512.8,196.6" fill="#9c1638"/>
<polygon points="504.1,251.6 508.5,251.6 506.3,255.7" fill="#9c1638"/>
<polygon points="507.8,248.9 512.2,248.9 510.0,253.0" fill="#9c1638"/>
<polygon points="508.7,255.1 513.1,255.1 510.9,259.2" fill="#9c1638"/>
<polygon points="511.8,255.1 516.2,255.1 514.0,259.2" fill="#9c1638"/>
<line x1="504.60" y1="235.50" x2="516.20" y2="235.50" stroke="#9c1638" stroke-width="1.3"/>
<line x1="510.40" y1="249.60" x2="510.40" y2="223.90" stroke="#9c1638" stroke-width="1.3"/>
<line x1="507.20" y1="249.60" x2="513.60" y2="249.60" stroke="#9c1638" stroke-width="1.3"/>
<line x1="507.20" y1="223.90" x2="513.60" y2="223.90" stroke="#9c1638" stroke-width="1.3"/>
</svg>
</body></html>
